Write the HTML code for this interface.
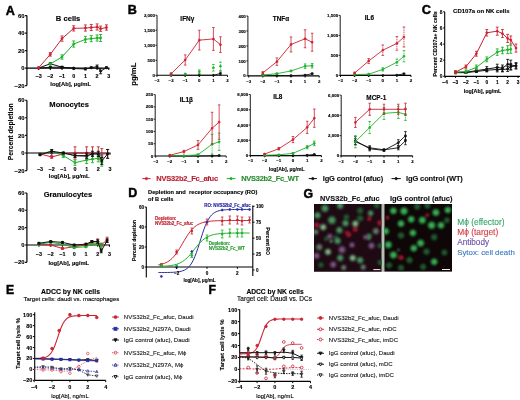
<!DOCTYPE html><html><head><meta charset="utf-8"><title>Figure</title><style>html,body{margin:0;padding:0;background:#fff;width:520px;height:400px;overflow:hidden}svg{display:block;font-family:"Liberation Sans",Arial,sans-serif}text{white-space:pre}</style></head><body><svg width="520" height="400" viewBox="0 0 520 400"><rect width="520" height="400" fill="#fff"/><text x="10.3" y="14.54" font-size="12.6" font-weight="bold" text-anchor="middle" fill="#000" stroke="#000" stroke-width="0.45">A</text>
<text transform="translate(13.45,131.8) rotate(-90)" x="0" y="0" font-size="6.8" font-weight="bold" text-anchor="middle" fill="#000"  stroke="#000" stroke-width="0.12">Percent depletion</text>
<line x1="26.9" y1="15.6" x2="26.9" y2="85.6" stroke="#000" stroke-width="1.2" />
<line x1="25.1" y1="15.6" x2="26.9" y2="15.6" stroke="#000" stroke-width="1.08" />
<text x="24.6" y="17.72" font-size="5.9" font-weight="bold" text-anchor="end" fill="#000"  stroke="#000" stroke-width="0.12">60</text>
<line x1="25.1" y1="33.1" x2="26.9" y2="33.1" stroke="#000" stroke-width="1.08" />
<text x="24.6" y="35.22" font-size="5.9" font-weight="bold" text-anchor="end" fill="#000"  stroke="#000" stroke-width="0.12">40</text>
<line x1="25.1" y1="50.6" x2="26.9" y2="50.6" stroke="#000" stroke-width="1.08" />
<text x="24.6" y="52.72" font-size="5.9" font-weight="bold" text-anchor="end" fill="#000"  stroke="#000" stroke-width="0.12">20</text>
<line x1="25.1" y1="68.1" x2="26.9" y2="68.1" stroke="#000" stroke-width="1.08" />
<text x="24.6" y="70.22" font-size="5.9" font-weight="bold" text-anchor="end" fill="#000"  stroke="#000" stroke-width="0.12">0</text>
<line x1="25.1" y1="85.6" x2="26.9" y2="85.6" stroke="#000" stroke-width="1.08" />
<text x="24.6" y="87.72" font-size="5.9" font-weight="bold" text-anchor="end" fill="#000"  stroke="#000" stroke-width="0.12">−20</text>
<line x1="26.9" y1="68.1" x2="109.38" y2="68.1" stroke="#000" stroke-width="1.2" />
<line x1="38.6" y1="68.1" x2="38.6" y2="69.9" stroke="#000" stroke-width="1.08" />
<text x="38.6" y="77.84" font-size="5.4" font-weight="bold" text-anchor="middle" fill="#000"  stroke="#000" stroke-width="0.12">−3</text>
<line x1="50.3" y1="68.1" x2="50.3" y2="69.9" stroke="#000" stroke-width="1.08" />
<text x="50.3" y="77.84" font-size="5.4" font-weight="bold" text-anchor="middle" fill="#000"  stroke="#000" stroke-width="0.12">−2</text>
<line x1="62" y1="68.1" x2="62" y2="69.9" stroke="#000" stroke-width="1.08" />
<text x="62" y="77.84" font-size="5.4" font-weight="bold" text-anchor="middle" fill="#000"  stroke="#000" stroke-width="0.12">−1</text>
<line x1="73.7" y1="68.1" x2="73.7" y2="69.9" stroke="#000" stroke-width="1.08" />
<text x="73.7" y="77.84" font-size="5.4" font-weight="bold" text-anchor="middle" fill="#000"  stroke="#000" stroke-width="0.12">0</text>
<line x1="85.4" y1="68.1" x2="85.4" y2="69.9" stroke="#000" stroke-width="1.08" />
<text x="85.4" y="77.84" font-size="5.4" font-weight="bold" text-anchor="middle" fill="#000"  stroke="#000" stroke-width="0.12">1</text>
<line x1="97.1" y1="68.1" x2="97.1" y2="69.9" stroke="#000" stroke-width="1.08" />
<text x="97.1" y="77.84" font-size="5.4" font-weight="bold" text-anchor="middle" fill="#000"  stroke="#000" stroke-width="0.12">2</text>
<line x1="108.8" y1="68.1" x2="108.8" y2="69.9" stroke="#000" stroke-width="1.08" />
<text x="108.8" y="77.84" font-size="5.4" font-weight="bold" text-anchor="middle" fill="#000"  stroke="#000" stroke-width="0.12">3</text>
<text x="70.7" y="86.09" font-size="5.8" font-weight="bold" text-anchor="middle" fill="#000"  stroke="#000" stroke-width="0.12">log[Ab], µg/mL</text>
<text x="68.1" y="20.94" font-size="7.6" font-weight="bold" text-anchor="middle" fill="#000"  stroke="#000" stroke-width="0.12">B cells</text>
<polyline points="38.6,68.1 50.3,63.72 62,67.22 73.7,68.1" fill="none" stroke="#111" stroke-width="1" stroke-linejoin="round" />
<line x1="50.3" y1="62.85" x2="50.3" y2="64.6" stroke="#111" stroke-width="0.9" />
<line x1="48.8" y1="62.85" x2="51.8" y2="62.85" stroke="#111" stroke-width="0.9" />
<line x1="48.8" y1="64.6" x2="51.8" y2="64.6" stroke="#111" stroke-width="0.9" />
<line x1="62" y1="66.35" x2="62" y2="68.1" stroke="#111" stroke-width="0.9" />
<line x1="60.5" y1="66.35" x2="63.5" y2="66.35" stroke="#111" stroke-width="0.9" />
<line x1="60.5" y1="68.1" x2="63.5" y2="68.1" stroke="#111" stroke-width="0.9" />
<line x1="73.7" y1="67.66" x2="73.7" y2="68.54" stroke="#111" stroke-width="0.9" />
<line x1="72.2" y1="67.66" x2="75.2" y2="67.66" stroke="#111" stroke-width="0.9" />
<line x1="72.2" y1="68.54" x2="75.2" y2="68.54" stroke="#111" stroke-width="0.9" />
<circle cx="38.6" cy="68.1" r="1.1" fill="#111" stroke="#111" stroke-width="0.7"/>
<circle cx="50.3" cy="63.72" r="1.1" fill="#111" stroke="#111" stroke-width="0.7"/>
<circle cx="62" cy="67.22" r="1.1" fill="#111" stroke="#111" stroke-width="0.7"/>
<circle cx="73.7" cy="68.1" r="1.1" fill="#111" stroke="#111" stroke-width="0.7"/>
<polyline points="38.6,68.1 50.3,67.22 62,67.22 73.7,68.54 85.4,68.97 91.25,67.66 97.1,66.79 100.61,71.16 106.46,67.66" fill="none" stroke="#111" stroke-width="1" stroke-linejoin="round" />
<line x1="50.3" y1="66.79" x2="50.3" y2="67.66" stroke="#111" stroke-width="0.9" />
<line x1="48.8" y1="66.79" x2="51.8" y2="66.79" stroke="#111" stroke-width="0.9" />
<line x1="48.8" y1="67.66" x2="51.8" y2="67.66" stroke="#111" stroke-width="0.9" />
<line x1="62" y1="66.79" x2="62" y2="67.66" stroke="#111" stroke-width="0.9" />
<line x1="60.5" y1="66.79" x2="63.5" y2="66.79" stroke="#111" stroke-width="0.9" />
<line x1="60.5" y1="67.66" x2="63.5" y2="67.66" stroke="#111" stroke-width="0.9" />
<line x1="73.7" y1="68.1" x2="73.7" y2="68.97" stroke="#111" stroke-width="0.9" />
<line x1="72.2" y1="68.1" x2="75.2" y2="68.1" stroke="#111" stroke-width="0.9" />
<line x1="72.2" y1="68.97" x2="75.2" y2="68.97" stroke="#111" stroke-width="0.9" />
<line x1="85.4" y1="68.1" x2="85.4" y2="69.85" stroke="#111" stroke-width="0.9" />
<line x1="83.9" y1="68.1" x2="86.9" y2="68.1" stroke="#111" stroke-width="0.9" />
<line x1="83.9" y1="69.85" x2="86.9" y2="69.85" stroke="#111" stroke-width="0.9" />
<line x1="91.25" y1="66.79" x2="91.25" y2="68.54" stroke="#111" stroke-width="0.9" />
<line x1="89.75" y1="66.79" x2="92.75" y2="66.79" stroke="#111" stroke-width="0.9" />
<line x1="89.75" y1="68.54" x2="92.75" y2="68.54" stroke="#111" stroke-width="0.9" />
<line x1="97.1" y1="65.04" x2="97.1" y2="68.54" stroke="#111" stroke-width="0.9" />
<line x1="95.6" y1="65.04" x2="98.6" y2="65.04" stroke="#111" stroke-width="0.9" />
<line x1="95.6" y1="68.54" x2="98.6" y2="68.54" stroke="#111" stroke-width="0.9" />
<line x1="100.61" y1="68.54" x2="100.61" y2="73.79" stroke="#111" stroke-width="0.9" />
<line x1="99.11" y1="68.54" x2="102.11" y2="68.54" stroke="#111" stroke-width="0.9" />
<line x1="99.11" y1="73.79" x2="102.11" y2="73.79" stroke="#111" stroke-width="0.9" />
<line x1="106.46" y1="66.79" x2="106.46" y2="68.54" stroke="#111" stroke-width="0.9" />
<line x1="104.96" y1="66.79" x2="107.96" y2="66.79" stroke="#111" stroke-width="0.9" />
<line x1="104.96" y1="68.54" x2="107.96" y2="68.54" stroke="#111" stroke-width="0.9" />
<circle cx="38.6" cy="68.1" r="1.1" fill="#111" stroke="#111" stroke-width="0.7"/>
<circle cx="50.3" cy="67.22" r="1.1" fill="#111" stroke="#111" stroke-width="0.7"/>
<circle cx="62" cy="67.22" r="1.1" fill="#111" stroke="#111" stroke-width="0.7"/>
<circle cx="73.7" cy="68.54" r="1.1" fill="#111" stroke="#111" stroke-width="0.7"/>
<circle cx="85.4" cy="68.97" r="1.1" fill="#111" stroke="#111" stroke-width="0.7"/>
<circle cx="91.25" cy="67.66" r="1.1" fill="#111" stroke="#111" stroke-width="0.7"/>
<circle cx="97.1" cy="66.79" r="1.1" fill="#111" stroke="#111" stroke-width="0.7"/>
<circle cx="100.61" cy="71.16" r="1.1" fill="#111" stroke="#111" stroke-width="0.7"/>
<circle cx="106.46" cy="67.66" r="1.1" fill="#111" stroke="#111" stroke-width="0.7"/>
<polyline points="50.3,63.99 62,56.99 73.7,44.04 85.4,39.4 91.25,38.61 97.1,38 100.61,38" fill="none" stroke="#1cb22a" stroke-width="1" stroke-linejoin="round" />
<line x1="50.3" y1="63.11" x2="50.3" y2="64.86" stroke="#1cb22a" stroke-width="0.9" />
<line x1="48.8" y1="63.11" x2="51.8" y2="63.11" stroke="#1cb22a" stroke-width="0.9" />
<line x1="48.8" y1="64.86" x2="51.8" y2="64.86" stroke="#1cb22a" stroke-width="0.9" />
<line x1="62" y1="54.8" x2="62" y2="59.17" stroke="#1cb22a" stroke-width="0.9" />
<line x1="60.5" y1="54.8" x2="63.5" y2="54.8" stroke="#1cb22a" stroke-width="0.9" />
<line x1="60.5" y1="59.17" x2="63.5" y2="59.17" stroke="#1cb22a" stroke-width="0.9" />
<line x1="73.7" y1="40.97" x2="73.7" y2="47.1" stroke="#1cb22a" stroke-width="0.9" />
<line x1="72.2" y1="40.97" x2="75.2" y2="40.97" stroke="#1cb22a" stroke-width="0.9" />
<line x1="72.2" y1="47.1" x2="75.2" y2="47.1" stroke="#1cb22a" stroke-width="0.9" />
<line x1="85.4" y1="36.34" x2="85.4" y2="42.46" stroke="#1cb22a" stroke-width="0.9" />
<line x1="83.9" y1="36.34" x2="86.9" y2="36.34" stroke="#1cb22a" stroke-width="0.9" />
<line x1="83.9" y1="42.46" x2="86.9" y2="42.46" stroke="#1cb22a" stroke-width="0.9" />
<line x1="91.25" y1="35.55" x2="91.25" y2="41.67" stroke="#1cb22a" stroke-width="0.9" />
<line x1="89.75" y1="35.55" x2="92.75" y2="35.55" stroke="#1cb22a" stroke-width="0.9" />
<line x1="89.75" y1="41.67" x2="92.75" y2="41.67" stroke="#1cb22a" stroke-width="0.9" />
<line x1="97.1" y1="34.94" x2="97.1" y2="41.06" stroke="#1cb22a" stroke-width="0.9" />
<line x1="95.6" y1="34.94" x2="98.6" y2="34.94" stroke="#1cb22a" stroke-width="0.9" />
<line x1="95.6" y1="41.06" x2="98.6" y2="41.06" stroke="#1cb22a" stroke-width="0.9" />
<line x1="100.61" y1="34.5" x2="100.61" y2="41.5" stroke="#1cb22a" stroke-width="0.9" />
<line x1="99.11" y1="34.5" x2="102.11" y2="34.5" stroke="#1cb22a" stroke-width="0.9" />
<line x1="99.11" y1="41.5" x2="102.11" y2="41.5" stroke="#1cb22a" stroke-width="0.9" />
<circle cx="50.3" cy="63.99" r="1.1" fill="#1cb22a" stroke="#1cb22a" stroke-width="0.7"/>
<circle cx="62" cy="56.99" r="1.1" fill="#1cb22a" stroke="#1cb22a" stroke-width="0.7"/>
<circle cx="73.7" cy="44.04" r="1.1" fill="#1cb22a" stroke="#1cb22a" stroke-width="0.7"/>
<circle cx="85.4" cy="39.4" r="1.1" fill="#1cb22a" stroke="#1cb22a" stroke-width="0.7"/>
<circle cx="91.25" cy="38.61" r="1.1" fill="#1cb22a" stroke="#1cb22a" stroke-width="0.7"/>
<circle cx="97.1" cy="38" r="1.1" fill="#1cb22a" stroke="#1cb22a" stroke-width="0.7"/>
<circle cx="100.61" cy="38" r="1.1" fill="#1cb22a" stroke="#1cb22a" stroke-width="0.7"/>
<polyline points="38.6,67.84 50.3,54.36 62,38.61 73.7,28.37 85.4,28.02 91.25,27.5 97.1,26.97 100.61,28.72 106.46,27.5" fill="none" stroke="#cc2332" stroke-width="1" stroke-linejoin="round" />
<line x1="38.6" y1="66.96" x2="38.6" y2="68.71" stroke="#cc2332" stroke-width="0.9" />
<line x1="37.1" y1="66.96" x2="40.1" y2="66.96" stroke="#cc2332" stroke-width="0.9" />
<line x1="37.1" y1="68.71" x2="40.1" y2="68.71" stroke="#cc2332" stroke-width="0.9" />
<line x1="50.3" y1="52.61" x2="50.3" y2="56.11" stroke="#cc2332" stroke-width="0.9" />
<line x1="48.8" y1="52.61" x2="51.8" y2="52.61" stroke="#cc2332" stroke-width="0.9" />
<line x1="48.8" y1="56.11" x2="51.8" y2="56.11" stroke="#cc2332" stroke-width="0.9" />
<line x1="62" y1="35.99" x2="62" y2="41.24" stroke="#cc2332" stroke-width="0.9" />
<line x1="60.5" y1="35.99" x2="63.5" y2="35.99" stroke="#cc2332" stroke-width="0.9" />
<line x1="60.5" y1="41.24" x2="63.5" y2="41.24" stroke="#cc2332" stroke-width="0.9" />
<line x1="73.7" y1="25.75" x2="73.7" y2="31" stroke="#cc2332" stroke-width="0.9" />
<line x1="72.2" y1="25.75" x2="75.2" y2="25.75" stroke="#cc2332" stroke-width="0.9" />
<line x1="72.2" y1="31" x2="75.2" y2="31" stroke="#cc2332" stroke-width="0.9" />
<line x1="85.4" y1="24.96" x2="85.4" y2="31.09" stroke="#cc2332" stroke-width="0.9" />
<line x1="83.9" y1="24.96" x2="86.9" y2="24.96" stroke="#cc2332" stroke-width="0.9" />
<line x1="83.9" y1="31.09" x2="86.9" y2="31.09" stroke="#cc2332" stroke-width="0.9" />
<line x1="91.25" y1="24.44" x2="91.25" y2="30.56" stroke="#cc2332" stroke-width="0.9" />
<line x1="89.75" y1="24.44" x2="92.75" y2="24.44" stroke="#cc2332" stroke-width="0.9" />
<line x1="89.75" y1="30.56" x2="92.75" y2="30.56" stroke="#cc2332" stroke-width="0.9" />
<line x1="97.1" y1="23.91" x2="97.1" y2="30.04" stroke="#cc2332" stroke-width="0.9" />
<line x1="95.6" y1="23.91" x2="98.6" y2="23.91" stroke="#cc2332" stroke-width="0.9" />
<line x1="95.6" y1="30.04" x2="98.6" y2="30.04" stroke="#cc2332" stroke-width="0.9" />
<line x1="100.61" y1="26.1" x2="100.61" y2="31.35" stroke="#cc2332" stroke-width="0.9" />
<line x1="99.11" y1="26.1" x2="102.11" y2="26.1" stroke="#cc2332" stroke-width="0.9" />
<line x1="99.11" y1="31.35" x2="102.11" y2="31.35" stroke="#cc2332" stroke-width="0.9" />
<line x1="106.46" y1="24.87" x2="106.46" y2="30.12" stroke="#cc2332" stroke-width="0.9" />
<line x1="104.96" y1="24.87" x2="107.96" y2="24.87" stroke="#cc2332" stroke-width="0.9" />
<line x1="104.96" y1="30.12" x2="107.96" y2="30.12" stroke="#cc2332" stroke-width="0.9" />
<circle cx="38.6" cy="67.84" r="1.1" fill="#cc2332" stroke="#cc2332" stroke-width="0.7"/>
<circle cx="50.3" cy="54.36" r="1.1" fill="#cc2332" stroke="#cc2332" stroke-width="0.7"/>
<circle cx="62" cy="38.61" r="1.1" fill="#cc2332" stroke="#cc2332" stroke-width="0.7"/>
<circle cx="73.7" cy="28.37" r="1.1" fill="#cc2332" stroke="#cc2332" stroke-width="0.7"/>
<circle cx="85.4" cy="28.02" r="1.1" fill="#cc2332" stroke="#cc2332" stroke-width="0.7"/>
<circle cx="91.25" cy="27.5" r="1.1" fill="#cc2332" stroke="#cc2332" stroke-width="0.7"/>
<circle cx="97.1" cy="26.97" r="1.1" fill="#cc2332" stroke="#cc2332" stroke-width="0.7"/>
<circle cx="100.61" cy="28.72" r="1.1" fill="#cc2332" stroke="#cc2332" stroke-width="0.7"/>
<circle cx="106.46" cy="27.5" r="1.1" fill="#cc2332" stroke="#cc2332" stroke-width="0.7"/>
<line x1="26.9" y1="100.2" x2="26.9" y2="170.6" stroke="#000" stroke-width="1.2" />
<line x1="25.1" y1="100.2" x2="26.9" y2="100.2" stroke="#000" stroke-width="1.08" />
<text x="24.6" y="102.32" font-size="5.9" font-weight="bold" text-anchor="end" fill="#000"  stroke="#000" stroke-width="0.12">60</text>
<line x1="25.1" y1="117.8" x2="26.9" y2="117.8" stroke="#000" stroke-width="1.08" />
<text x="24.6" y="119.92" font-size="5.9" font-weight="bold" text-anchor="end" fill="#000"  stroke="#000" stroke-width="0.12">40</text>
<line x1="25.1" y1="135.4" x2="26.9" y2="135.4" stroke="#000" stroke-width="1.08" />
<text x="24.6" y="137.52" font-size="5.9" font-weight="bold" text-anchor="end" fill="#000"  stroke="#000" stroke-width="0.12">20</text>
<line x1="25.1" y1="153" x2="26.9" y2="153" stroke="#000" stroke-width="1.08" />
<text x="24.6" y="155.12" font-size="5.9" font-weight="bold" text-anchor="end" fill="#000"  stroke="#000" stroke-width="0.12">0</text>
<line x1="25.1" y1="170.6" x2="26.9" y2="170.6" stroke="#000" stroke-width="1.08" />
<text x="24.6" y="172.72" font-size="5.9" font-weight="bold" text-anchor="end" fill="#000"  stroke="#000" stroke-width="0.12">−20</text>
<line x1="26.9" y1="153" x2="110.53" y2="153" stroke="#000" stroke-width="1.2" />
<line x1="40.05" y1="153" x2="40.05" y2="154.8" stroke="#000" stroke-width="1.08" />
<text x="40.05" y="170.74" font-size="5.4" font-weight="bold" text-anchor="middle" fill="#000"  stroke="#000" stroke-width="0.12">−3</text>
<line x1="51.7" y1="153" x2="51.7" y2="154.8" stroke="#000" stroke-width="1.08" />
<text x="51.7" y="170.74" font-size="5.4" font-weight="bold" text-anchor="middle" fill="#000"  stroke="#000" stroke-width="0.12">−2</text>
<line x1="63.35" y1="153" x2="63.35" y2="154.8" stroke="#000" stroke-width="1.08" />
<text x="63.35" y="170.74" font-size="5.4" font-weight="bold" text-anchor="middle" fill="#000"  stroke="#000" stroke-width="0.12">−1</text>
<line x1="75" y1="153" x2="75" y2="154.8" stroke="#000" stroke-width="1.08" />
<text x="75" y="170.74" font-size="5.4" font-weight="bold" text-anchor="middle" fill="#000"  stroke="#000" stroke-width="0.12">0</text>
<line x1="86.65" y1="153" x2="86.65" y2="154.8" stroke="#000" stroke-width="1.08" />
<text x="86.65" y="170.74" font-size="5.4" font-weight="bold" text-anchor="middle" fill="#000"  stroke="#000" stroke-width="0.12">1</text>
<line x1="98.3" y1="153" x2="98.3" y2="154.8" stroke="#000" stroke-width="1.08" />
<text x="98.3" y="170.74" font-size="5.4" font-weight="bold" text-anchor="middle" fill="#000"  stroke="#000" stroke-width="0.12">2</text>
<line x1="109.95" y1="153" x2="109.95" y2="154.8" stroke="#000" stroke-width="1.08" />
<text x="109.95" y="170.74" font-size="5.4" font-weight="bold" text-anchor="middle" fill="#000"  stroke="#000" stroke-width="0.12">3</text>
<text x="69.2" y="177.69" font-size="5.8" font-weight="bold" text-anchor="middle" fill="#000"  stroke="#000" stroke-width="0.12">log[Ab], µg/mL</text>
<text x="69.2" y="106.74" font-size="7.6" font-weight="bold" text-anchor="middle" fill="#000"  stroke="#000" stroke-width="0.12">Monocytes</text>
<polyline points="40.05,153.88 51.7,156.96 63.35,153.88 75,153 86.65,153 92.47,153 98.3,153 101.8,153.88 107.62,153.88" fill="none" stroke="#cc2332" stroke-width="1" stroke-linejoin="round" />
<line x1="40.05" y1="153" x2="40.05" y2="154.76" stroke="#cc2332" stroke-width="0.9" />
<line x1="38.55" y1="153" x2="41.55" y2="153" stroke="#cc2332" stroke-width="0.9" />
<line x1="38.55" y1="154.76" x2="41.55" y2="154.76" stroke="#cc2332" stroke-width="0.9" />
<line x1="51.7" y1="155.64" x2="51.7" y2="158.28" stroke="#cc2332" stroke-width="0.9" />
<line x1="50.2" y1="155.64" x2="53.2" y2="155.64" stroke="#cc2332" stroke-width="0.9" />
<line x1="50.2" y1="158.28" x2="53.2" y2="158.28" stroke="#cc2332" stroke-width="0.9" />
<line x1="63.35" y1="153" x2="63.35" y2="154.76" stroke="#cc2332" stroke-width="0.9" />
<line x1="61.85" y1="153" x2="64.85" y2="153" stroke="#cc2332" stroke-width="0.9" />
<line x1="61.85" y1="154.76" x2="64.85" y2="154.76" stroke="#cc2332" stroke-width="0.9" />
<line x1="75" y1="146.84" x2="75" y2="159.16" stroke="#cc2332" stroke-width="0.9" />
<line x1="73.5" y1="146.84" x2="76.5" y2="146.84" stroke="#cc2332" stroke-width="0.9" />
<line x1="73.5" y1="159.16" x2="76.5" y2="159.16" stroke="#cc2332" stroke-width="0.9" />
<line x1="86.65" y1="146.84" x2="86.65" y2="159.16" stroke="#cc2332" stroke-width="0.9" />
<line x1="85.15" y1="146.84" x2="88.15" y2="146.84" stroke="#cc2332" stroke-width="0.9" />
<line x1="85.15" y1="159.16" x2="88.15" y2="159.16" stroke="#cc2332" stroke-width="0.9" />
<line x1="92.47" y1="146.84" x2="92.47" y2="159.16" stroke="#cc2332" stroke-width="0.9" />
<line x1="90.97" y1="146.84" x2="93.97" y2="146.84" stroke="#cc2332" stroke-width="0.9" />
<line x1="90.97" y1="159.16" x2="93.97" y2="159.16" stroke="#cc2332" stroke-width="0.9" />
<line x1="98.3" y1="146.84" x2="98.3" y2="159.16" stroke="#cc2332" stroke-width="0.9" />
<line x1="96.8" y1="146.84" x2="99.8" y2="146.84" stroke="#cc2332" stroke-width="0.9" />
<line x1="96.8" y1="159.16" x2="99.8" y2="159.16" stroke="#cc2332" stroke-width="0.9" />
<line x1="101.8" y1="148.6" x2="101.8" y2="159.16" stroke="#cc2332" stroke-width="0.9" />
<line x1="100.3" y1="148.6" x2="103.3" y2="148.6" stroke="#cc2332" stroke-width="0.9" />
<line x1="100.3" y1="159.16" x2="103.3" y2="159.16" stroke="#cc2332" stroke-width="0.9" />
<line x1="107.62" y1="149.48" x2="107.62" y2="158.28" stroke="#cc2332" stroke-width="0.9" />
<line x1="106.12" y1="149.48" x2="109.12" y2="149.48" stroke="#cc2332" stroke-width="0.9" />
<line x1="106.12" y1="158.28" x2="109.12" y2="158.28" stroke="#cc2332" stroke-width="0.9" />
<circle cx="40.05" cy="153.88" r="1.1" fill="#cc2332" stroke="#cc2332" stroke-width="0.7"/>
<circle cx="51.7" cy="156.96" r="1.1" fill="#cc2332" stroke="#cc2332" stroke-width="0.7"/>
<circle cx="63.35" cy="153.88" r="1.1" fill="#cc2332" stroke="#cc2332" stroke-width="0.7"/>
<circle cx="75" cy="153" r="1.1" fill="#cc2332" stroke="#cc2332" stroke-width="0.7"/>
<circle cx="86.65" cy="153" r="1.1" fill="#cc2332" stroke="#cc2332" stroke-width="0.7"/>
<circle cx="92.47" cy="153" r="1.1" fill="#cc2332" stroke="#cc2332" stroke-width="0.7"/>
<circle cx="98.3" cy="153" r="1.1" fill="#cc2332" stroke="#cc2332" stroke-width="0.7"/>
<circle cx="101.8" cy="153.88" r="1.1" fill="#cc2332" stroke="#cc2332" stroke-width="0.7"/>
<circle cx="107.62" cy="153.88" r="1.1" fill="#cc2332" stroke="#cc2332" stroke-width="0.7"/>
<polyline points="40.05,153.88 51.7,151.24 63.35,155.64 75,162.68 86.65,160.04 92.47,159.16 98.3,158.28 101.8,162.68" fill="none" stroke="#1cb22a" stroke-width="1" stroke-linejoin="round" />
<line x1="40.05" y1="153" x2="40.05" y2="154.76" stroke="#1cb22a" stroke-width="0.9" />
<line x1="38.55" y1="153" x2="41.55" y2="153" stroke="#1cb22a" stroke-width="0.9" />
<line x1="38.55" y1="154.76" x2="41.55" y2="154.76" stroke="#1cb22a" stroke-width="0.9" />
<line x1="51.7" y1="149.48" x2="51.7" y2="153" stroke="#1cb22a" stroke-width="0.9" />
<line x1="50.2" y1="149.48" x2="53.2" y2="149.48" stroke="#1cb22a" stroke-width="0.9" />
<line x1="50.2" y1="153" x2="53.2" y2="153" stroke="#1cb22a" stroke-width="0.9" />
<line x1="63.35" y1="153.88" x2="63.35" y2="157.4" stroke="#1cb22a" stroke-width="0.9" />
<line x1="61.85" y1="153.88" x2="64.85" y2="153.88" stroke="#1cb22a" stroke-width="0.9" />
<line x1="61.85" y1="157.4" x2="64.85" y2="157.4" stroke="#1cb22a" stroke-width="0.9" />
<line x1="75" y1="160.04" x2="75" y2="165.32" stroke="#1cb22a" stroke-width="0.9" />
<line x1="73.5" y1="160.04" x2="76.5" y2="160.04" stroke="#1cb22a" stroke-width="0.9" />
<line x1="73.5" y1="165.32" x2="76.5" y2="165.32" stroke="#1cb22a" stroke-width="0.9" />
<line x1="86.65" y1="156.52" x2="86.65" y2="163.56" stroke="#1cb22a" stroke-width="0.9" />
<line x1="85.15" y1="156.52" x2="88.15" y2="156.52" stroke="#1cb22a" stroke-width="0.9" />
<line x1="85.15" y1="163.56" x2="88.15" y2="163.56" stroke="#1cb22a" stroke-width="0.9" />
<line x1="92.47" y1="155.64" x2="92.47" y2="162.68" stroke="#1cb22a" stroke-width="0.9" />
<line x1="90.97" y1="155.64" x2="93.97" y2="155.64" stroke="#1cb22a" stroke-width="0.9" />
<line x1="90.97" y1="162.68" x2="93.97" y2="162.68" stroke="#1cb22a" stroke-width="0.9" />
<line x1="98.3" y1="154.76" x2="98.3" y2="161.8" stroke="#1cb22a" stroke-width="0.9" />
<line x1="96.8" y1="154.76" x2="99.8" y2="154.76" stroke="#1cb22a" stroke-width="0.9" />
<line x1="96.8" y1="161.8" x2="99.8" y2="161.8" stroke="#1cb22a" stroke-width="0.9" />
<line x1="101.8" y1="159.16" x2="101.8" y2="166.2" stroke="#1cb22a" stroke-width="0.9" />
<line x1="100.3" y1="159.16" x2="103.3" y2="159.16" stroke="#1cb22a" stroke-width="0.9" />
<line x1="100.3" y1="166.2" x2="103.3" y2="166.2" stroke="#1cb22a" stroke-width="0.9" />
<circle cx="40.05" cy="153.88" r="1.1" fill="#1cb22a" stroke="#1cb22a" stroke-width="0.7"/>
<circle cx="51.7" cy="151.24" r="1.1" fill="#1cb22a" stroke="#1cb22a" stroke-width="0.7"/>
<circle cx="63.35" cy="155.64" r="1.1" fill="#1cb22a" stroke="#1cb22a" stroke-width="0.7"/>
<circle cx="75" cy="162.68" r="1.1" fill="#1cb22a" stroke="#1cb22a" stroke-width="0.7"/>
<circle cx="86.65" cy="160.04" r="1.1" fill="#1cb22a" stroke="#1cb22a" stroke-width="0.7"/>
<circle cx="92.47" cy="159.16" r="1.1" fill="#1cb22a" stroke="#1cb22a" stroke-width="0.7"/>
<circle cx="98.3" cy="158.28" r="1.1" fill="#1cb22a" stroke="#1cb22a" stroke-width="0.7"/>
<circle cx="101.8" cy="162.68" r="1.1" fill="#1cb22a" stroke="#1cb22a" stroke-width="0.7"/>
<polyline points="40.05,153.88 51.7,152.12 63.35,153 75,155.64 86.65,156.52 92.47,153.88 98.3,153.88 101.8,155.64" fill="none" stroke="#666" stroke-width="1" stroke-linejoin="round" />
<line x1="40.05" y1="153.44" x2="40.05" y2="154.32" stroke="#666" stroke-width="0.9" />
<line x1="38.55" y1="153.44" x2="41.55" y2="153.44" stroke="#666" stroke-width="0.9" />
<line x1="38.55" y1="154.32" x2="41.55" y2="154.32" stroke="#666" stroke-width="0.9" />
<line x1="51.7" y1="151.24" x2="51.7" y2="153" stroke="#666" stroke-width="0.9" />
<line x1="50.2" y1="151.24" x2="53.2" y2="151.24" stroke="#666" stroke-width="0.9" />
<line x1="50.2" y1="153" x2="53.2" y2="153" stroke="#666" stroke-width="0.9" />
<line x1="63.35" y1="152.12" x2="63.35" y2="153.88" stroke="#666" stroke-width="0.9" />
<line x1="61.85" y1="152.12" x2="64.85" y2="152.12" stroke="#666" stroke-width="0.9" />
<line x1="61.85" y1="153.88" x2="64.85" y2="153.88" stroke="#666" stroke-width="0.9" />
<line x1="75" y1="153.88" x2="75" y2="157.4" stroke="#666" stroke-width="0.9" />
<line x1="73.5" y1="153.88" x2="76.5" y2="153.88" stroke="#666" stroke-width="0.9" />
<line x1="73.5" y1="157.4" x2="76.5" y2="157.4" stroke="#666" stroke-width="0.9" />
<line x1="86.65" y1="154.76" x2="86.65" y2="158.28" stroke="#666" stroke-width="0.9" />
<line x1="85.15" y1="154.76" x2="88.15" y2="154.76" stroke="#666" stroke-width="0.9" />
<line x1="85.15" y1="158.28" x2="88.15" y2="158.28" stroke="#666" stroke-width="0.9" />
<line x1="92.47" y1="152.12" x2="92.47" y2="155.64" stroke="#666" stroke-width="0.9" />
<line x1="90.97" y1="152.12" x2="93.97" y2="152.12" stroke="#666" stroke-width="0.9" />
<line x1="90.97" y1="155.64" x2="93.97" y2="155.64" stroke="#666" stroke-width="0.9" />
<line x1="98.3" y1="152.12" x2="98.3" y2="155.64" stroke="#666" stroke-width="0.9" />
<line x1="96.8" y1="152.12" x2="99.8" y2="152.12" stroke="#666" stroke-width="0.9" />
<line x1="96.8" y1="155.64" x2="99.8" y2="155.64" stroke="#666" stroke-width="0.9" />
<line x1="101.8" y1="153.88" x2="101.8" y2="157.4" stroke="#666" stroke-width="0.9" />
<line x1="100.3" y1="153.88" x2="103.3" y2="153.88" stroke="#666" stroke-width="0.9" />
<line x1="100.3" y1="157.4" x2="103.3" y2="157.4" stroke="#666" stroke-width="0.9" />
<circle cx="40.05" cy="153.88" r="1.1" fill="#666" stroke="#666" stroke-width="0.7"/>
<circle cx="51.7" cy="152.12" r="1.1" fill="#666" stroke="#666" stroke-width="0.7"/>
<circle cx="63.35" cy="153" r="1.1" fill="#666" stroke="#666" stroke-width="0.7"/>
<circle cx="75" cy="155.64" r="1.1" fill="#666" stroke="#666" stroke-width="0.7"/>
<circle cx="86.65" cy="156.52" r="1.1" fill="#666" stroke="#666" stroke-width="0.7"/>
<circle cx="92.47" cy="153.88" r="1.1" fill="#666" stroke="#666" stroke-width="0.7"/>
<circle cx="98.3" cy="153.88" r="1.1" fill="#666" stroke="#666" stroke-width="0.7"/>
<circle cx="101.8" cy="155.64" r="1.1" fill="#666" stroke="#666" stroke-width="0.7"/>
<polyline points="40.05,154.76 51.7,151.24 63.35,153 75,155.64 86.65,155.64 92.47,153.88 98.3,153.88 101.8,160.92 107.62,153.88" fill="none" stroke="#111" stroke-width="1" stroke-linejoin="round" />
<line x1="40.05" y1="153.88" x2="40.05" y2="155.64" stroke="#111" stroke-width="0.9" />
<line x1="38.55" y1="153.88" x2="41.55" y2="153.88" stroke="#111" stroke-width="0.9" />
<line x1="38.55" y1="155.64" x2="41.55" y2="155.64" stroke="#111" stroke-width="0.9" />
<line x1="51.7" y1="149.48" x2="51.7" y2="153" stroke="#111" stroke-width="0.9" />
<line x1="50.2" y1="149.48" x2="53.2" y2="149.48" stroke="#111" stroke-width="0.9" />
<line x1="50.2" y1="153" x2="53.2" y2="153" stroke="#111" stroke-width="0.9" />
<line x1="63.35" y1="152.12" x2="63.35" y2="153.88" stroke="#111" stroke-width="0.9" />
<line x1="61.85" y1="152.12" x2="64.85" y2="152.12" stroke="#111" stroke-width="0.9" />
<line x1="61.85" y1="153.88" x2="64.85" y2="153.88" stroke="#111" stroke-width="0.9" />
<line x1="75" y1="153.88" x2="75" y2="157.4" stroke="#111" stroke-width="0.9" />
<line x1="73.5" y1="153.88" x2="76.5" y2="153.88" stroke="#111" stroke-width="0.9" />
<line x1="73.5" y1="157.4" x2="76.5" y2="157.4" stroke="#111" stroke-width="0.9" />
<line x1="86.65" y1="153" x2="86.65" y2="158.28" stroke="#111" stroke-width="0.9" />
<line x1="85.15" y1="153" x2="88.15" y2="153" stroke="#111" stroke-width="0.9" />
<line x1="85.15" y1="158.28" x2="88.15" y2="158.28" stroke="#111" stroke-width="0.9" />
<line x1="92.47" y1="151.24" x2="92.47" y2="156.52" stroke="#111" stroke-width="0.9" />
<line x1="90.97" y1="151.24" x2="93.97" y2="151.24" stroke="#111" stroke-width="0.9" />
<line x1="90.97" y1="156.52" x2="93.97" y2="156.52" stroke="#111" stroke-width="0.9" />
<line x1="98.3" y1="151.24" x2="98.3" y2="156.52" stroke="#111" stroke-width="0.9" />
<line x1="96.8" y1="151.24" x2="99.8" y2="151.24" stroke="#111" stroke-width="0.9" />
<line x1="96.8" y1="156.52" x2="99.8" y2="156.52" stroke="#111" stroke-width="0.9" />
<line x1="101.8" y1="157.4" x2="101.8" y2="164.44" stroke="#111" stroke-width="0.9" />
<line x1="100.3" y1="157.4" x2="103.3" y2="157.4" stroke="#111" stroke-width="0.9" />
<line x1="100.3" y1="164.44" x2="103.3" y2="164.44" stroke="#111" stroke-width="0.9" />
<line x1="107.62" y1="149.48" x2="107.62" y2="158.28" stroke="#111" stroke-width="0.9" />
<line x1="106.12" y1="149.48" x2="109.12" y2="149.48" stroke="#111" stroke-width="0.9" />
<line x1="106.12" y1="158.28" x2="109.12" y2="158.28" stroke="#111" stroke-width="0.9" />
<circle cx="40.05" cy="154.76" r="1.1" fill="#111" stroke="#111" stroke-width="0.7"/>
<circle cx="51.7" cy="151.24" r="1.1" fill="#111" stroke="#111" stroke-width="0.7"/>
<circle cx="63.35" cy="153" r="1.1" fill="#111" stroke="#111" stroke-width="0.7"/>
<circle cx="75" cy="155.64" r="1.1" fill="#111" stroke="#111" stroke-width="0.7"/>
<circle cx="86.65" cy="155.64" r="1.1" fill="#111" stroke="#111" stroke-width="0.7"/>
<circle cx="92.47" cy="153.88" r="1.1" fill="#111" stroke="#111" stroke-width="0.7"/>
<circle cx="98.3" cy="153.88" r="1.1" fill="#111" stroke="#111" stroke-width="0.7"/>
<circle cx="101.8" cy="160.92" r="1.1" fill="#111" stroke="#111" stroke-width="0.7"/>
<circle cx="107.62" cy="153.88" r="1.1" fill="#111" stroke="#111" stroke-width="0.7"/>
<line x1="26.9" y1="192.98" x2="26.9" y2="262.34" stroke="#000" stroke-width="1.2" />
<line x1="25.1" y1="192.98" x2="26.9" y2="192.98" stroke="#000" stroke-width="1.08" />
<text x="24.6" y="195.1" font-size="5.9" font-weight="bold" text-anchor="end" fill="#000"  stroke="#000" stroke-width="0.12">60</text>
<line x1="25.1" y1="210.32" x2="26.9" y2="210.32" stroke="#000" stroke-width="1.08" />
<text x="24.6" y="212.44" font-size="5.9" font-weight="bold" text-anchor="end" fill="#000"  stroke="#000" stroke-width="0.12">40</text>
<line x1="25.1" y1="227.66" x2="26.9" y2="227.66" stroke="#000" stroke-width="1.08" />
<text x="24.6" y="229.78" font-size="5.9" font-weight="bold" text-anchor="end" fill="#000"  stroke="#000" stroke-width="0.12">20</text>
<line x1="25.1" y1="245" x2="26.9" y2="245" stroke="#000" stroke-width="1.08" />
<text x="24.6" y="247.12" font-size="5.9" font-weight="bold" text-anchor="end" fill="#000"  stroke="#000" stroke-width="0.12">0</text>
<line x1="25.1" y1="262.34" x2="26.9" y2="262.34" stroke="#000" stroke-width="1.08" />
<text x="24.6" y="264.46" font-size="5.9" font-weight="bold" text-anchor="end" fill="#000"  stroke="#000" stroke-width="0.12">−20</text>
<line x1="26.9" y1="245" x2="110.04" y2="245" stroke="#000" stroke-width="1.2" />
<line x1="38.95" y1="245" x2="38.95" y2="246.8" stroke="#000" stroke-width="1.08" />
<text x="38.95" y="256.14" font-size="5.4" font-weight="bold" text-anchor="middle" fill="#000"  stroke="#000" stroke-width="0.12">−3</text>
<line x1="50.7" y1="245" x2="50.7" y2="246.8" stroke="#000" stroke-width="1.08" />
<text x="50.7" y="256.14" font-size="5.4" font-weight="bold" text-anchor="middle" fill="#000"  stroke="#000" stroke-width="0.12">−2</text>
<line x1="62.45" y1="245" x2="62.45" y2="246.8" stroke="#000" stroke-width="1.08" />
<text x="62.45" y="256.14" font-size="5.4" font-weight="bold" text-anchor="middle" fill="#000"  stroke="#000" stroke-width="0.12">−1</text>
<line x1="74.2" y1="245" x2="74.2" y2="246.8" stroke="#000" stroke-width="1.08" />
<text x="74.2" y="256.14" font-size="5.4" font-weight="bold" text-anchor="middle" fill="#000"  stroke="#000" stroke-width="0.12">0</text>
<line x1="85.95" y1="245" x2="85.95" y2="246.8" stroke="#000" stroke-width="1.08" />
<text x="85.95" y="256.14" font-size="5.4" font-weight="bold" text-anchor="middle" fill="#000"  stroke="#000" stroke-width="0.12">1</text>
<line x1="97.7" y1="245" x2="97.7" y2="246.8" stroke="#000" stroke-width="1.08" />
<text x="97.7" y="256.14" font-size="5.4" font-weight="bold" text-anchor="middle" fill="#000"  stroke="#000" stroke-width="0.12">2</text>
<line x1="109.45" y1="245" x2="109.45" y2="246.8" stroke="#000" stroke-width="1.08" />
<text x="109.45" y="256.14" font-size="5.4" font-weight="bold" text-anchor="middle" fill="#000"  stroke="#000" stroke-width="0.12">3</text>
<text x="68.8" y="265.09" font-size="5.8" font-weight="bold" text-anchor="middle" fill="#000"  stroke="#000" stroke-width="0.12">log[Ab], µg/mL</text>
<text x="67.9" y="197.34" font-size="7.6" font-weight="bold" text-anchor="middle" fill="#000"  stroke="#000" stroke-width="0.12">Granulocytes</text>
<polyline points="38.95,244.13 50.7,245 62.45,248.47 74.2,246.73 85.95,245 91.83,242.4 97.7,241.53 101.22,245 107.1,239.8" fill="none" stroke="#cc2332" stroke-width="1" stroke-linejoin="round" />
<line x1="38.95" y1="243.27" x2="38.95" y2="245" stroke="#cc2332" stroke-width="0.9" />
<line x1="37.45" y1="243.27" x2="40.45" y2="243.27" stroke="#cc2332" stroke-width="0.9" />
<line x1="37.45" y1="245" x2="40.45" y2="245" stroke="#cc2332" stroke-width="0.9" />
<line x1="50.7" y1="244.13" x2="50.7" y2="245.87" stroke="#cc2332" stroke-width="0.9" />
<line x1="49.2" y1="244.13" x2="52.2" y2="244.13" stroke="#cc2332" stroke-width="0.9" />
<line x1="49.2" y1="245.87" x2="52.2" y2="245.87" stroke="#cc2332" stroke-width="0.9" />
<line x1="62.45" y1="247.6" x2="62.45" y2="249.34" stroke="#cc2332" stroke-width="0.9" />
<line x1="60.95" y1="247.6" x2="63.95" y2="247.6" stroke="#cc2332" stroke-width="0.9" />
<line x1="60.95" y1="249.34" x2="63.95" y2="249.34" stroke="#cc2332" stroke-width="0.9" />
<line x1="74.2" y1="245.87" x2="74.2" y2="247.6" stroke="#cc2332" stroke-width="0.9" />
<line x1="72.7" y1="245.87" x2="75.7" y2="245.87" stroke="#cc2332" stroke-width="0.9" />
<line x1="72.7" y1="247.6" x2="75.7" y2="247.6" stroke="#cc2332" stroke-width="0.9" />
<line x1="85.95" y1="244.13" x2="85.95" y2="245.87" stroke="#cc2332" stroke-width="0.9" />
<line x1="84.45" y1="244.13" x2="87.45" y2="244.13" stroke="#cc2332" stroke-width="0.9" />
<line x1="84.45" y1="245.87" x2="87.45" y2="245.87" stroke="#cc2332" stroke-width="0.9" />
<line x1="91.83" y1="240.66" x2="91.83" y2="244.13" stroke="#cc2332" stroke-width="0.9" />
<line x1="90.33" y1="240.66" x2="93.33" y2="240.66" stroke="#cc2332" stroke-width="0.9" />
<line x1="90.33" y1="244.13" x2="93.33" y2="244.13" stroke="#cc2332" stroke-width="0.9" />
<line x1="97.7" y1="238.93" x2="97.7" y2="244.13" stroke="#cc2332" stroke-width="0.9" />
<line x1="96.2" y1="238.93" x2="99.2" y2="238.93" stroke="#cc2332" stroke-width="0.9" />
<line x1="96.2" y1="244.13" x2="99.2" y2="244.13" stroke="#cc2332" stroke-width="0.9" />
<line x1="101.22" y1="243.27" x2="101.22" y2="246.73" stroke="#cc2332" stroke-width="0.9" />
<line x1="99.72" y1="243.27" x2="102.72" y2="243.27" stroke="#cc2332" stroke-width="0.9" />
<line x1="99.72" y1="246.73" x2="102.72" y2="246.73" stroke="#cc2332" stroke-width="0.9" />
<line x1="107.1" y1="237.2" x2="107.1" y2="242.4" stroke="#cc2332" stroke-width="0.9" />
<line x1="105.6" y1="237.2" x2="108.6" y2="237.2" stroke="#cc2332" stroke-width="0.9" />
<line x1="105.6" y1="242.4" x2="108.6" y2="242.4" stroke="#cc2332" stroke-width="0.9" />
<circle cx="38.95" cy="244.13" r="1.1" fill="#cc2332" stroke="#cc2332" stroke-width="0.7"/>
<circle cx="50.7" cy="245" r="1.1" fill="#cc2332" stroke="#cc2332" stroke-width="0.7"/>
<circle cx="62.45" cy="248.47" r="1.1" fill="#cc2332" stroke="#cc2332" stroke-width="0.7"/>
<circle cx="74.2" cy="246.73" r="1.1" fill="#cc2332" stroke="#cc2332" stroke-width="0.7"/>
<circle cx="85.95" cy="245" r="1.1" fill="#cc2332" stroke="#cc2332" stroke-width="0.7"/>
<circle cx="91.83" cy="242.4" r="1.1" fill="#cc2332" stroke="#cc2332" stroke-width="0.7"/>
<circle cx="97.7" cy="241.53" r="1.1" fill="#cc2332" stroke="#cc2332" stroke-width="0.7"/>
<circle cx="101.22" cy="245" r="1.1" fill="#cc2332" stroke="#cc2332" stroke-width="0.7"/>
<circle cx="107.1" cy="239.8" r="1.1" fill="#cc2332" stroke="#cc2332" stroke-width="0.7"/>
<polyline points="38.95,244.13 50.7,242.4 62.45,244.13 74.2,247.6 85.95,246.73 91.83,244.13 97.7,243.27 101.22,245.87" fill="none" stroke="#1cb22a" stroke-width="1" stroke-linejoin="round" />
<line x1="38.95" y1="243.27" x2="38.95" y2="245" stroke="#1cb22a" stroke-width="0.9" />
<line x1="37.45" y1="243.27" x2="40.45" y2="243.27" stroke="#1cb22a" stroke-width="0.9" />
<line x1="37.45" y1="245" x2="40.45" y2="245" stroke="#1cb22a" stroke-width="0.9" />
<line x1="50.7" y1="241.53" x2="50.7" y2="243.27" stroke="#1cb22a" stroke-width="0.9" />
<line x1="49.2" y1="241.53" x2="52.2" y2="241.53" stroke="#1cb22a" stroke-width="0.9" />
<line x1="49.2" y1="243.27" x2="52.2" y2="243.27" stroke="#1cb22a" stroke-width="0.9" />
<line x1="62.45" y1="243.27" x2="62.45" y2="245" stroke="#1cb22a" stroke-width="0.9" />
<line x1="60.95" y1="243.27" x2="63.95" y2="243.27" stroke="#1cb22a" stroke-width="0.9" />
<line x1="60.95" y1="245" x2="63.95" y2="245" stroke="#1cb22a" stroke-width="0.9" />
<line x1="74.2" y1="246.73" x2="74.2" y2="248.47" stroke="#1cb22a" stroke-width="0.9" />
<line x1="72.7" y1="246.73" x2="75.7" y2="246.73" stroke="#1cb22a" stroke-width="0.9" />
<line x1="72.7" y1="248.47" x2="75.7" y2="248.47" stroke="#1cb22a" stroke-width="0.9" />
<line x1="85.95" y1="245.87" x2="85.95" y2="247.6" stroke="#1cb22a" stroke-width="0.9" />
<line x1="84.45" y1="245.87" x2="87.45" y2="245.87" stroke="#1cb22a" stroke-width="0.9" />
<line x1="84.45" y1="247.6" x2="87.45" y2="247.6" stroke="#1cb22a" stroke-width="0.9" />
<line x1="91.83" y1="243.27" x2="91.83" y2="245" stroke="#1cb22a" stroke-width="0.9" />
<line x1="90.33" y1="243.27" x2="93.33" y2="243.27" stroke="#1cb22a" stroke-width="0.9" />
<line x1="90.33" y1="245" x2="93.33" y2="245" stroke="#1cb22a" stroke-width="0.9" />
<line x1="97.7" y1="241.53" x2="97.7" y2="245" stroke="#1cb22a" stroke-width="0.9" />
<line x1="96.2" y1="241.53" x2="99.2" y2="241.53" stroke="#1cb22a" stroke-width="0.9" />
<line x1="96.2" y1="245" x2="99.2" y2="245" stroke="#1cb22a" stroke-width="0.9" />
<line x1="101.22" y1="243.27" x2="101.22" y2="248.47" stroke="#1cb22a" stroke-width="0.9" />
<line x1="99.72" y1="243.27" x2="102.72" y2="243.27" stroke="#1cb22a" stroke-width="0.9" />
<line x1="99.72" y1="248.47" x2="102.72" y2="248.47" stroke="#1cb22a" stroke-width="0.9" />
<circle cx="38.95" cy="244.13" r="1.1" fill="#1cb22a" stroke="#1cb22a" stroke-width="0.7"/>
<circle cx="50.7" cy="242.4" r="1.1" fill="#1cb22a" stroke="#1cb22a" stroke-width="0.7"/>
<circle cx="62.45" cy="244.13" r="1.1" fill="#1cb22a" stroke="#1cb22a" stroke-width="0.7"/>
<circle cx="74.2" cy="247.6" r="1.1" fill="#1cb22a" stroke="#1cb22a" stroke-width="0.7"/>
<circle cx="85.95" cy="246.73" r="1.1" fill="#1cb22a" stroke="#1cb22a" stroke-width="0.7"/>
<circle cx="91.83" cy="244.13" r="1.1" fill="#1cb22a" stroke="#1cb22a" stroke-width="0.7"/>
<circle cx="97.7" cy="243.27" r="1.1" fill="#1cb22a" stroke="#1cb22a" stroke-width="0.7"/>
<circle cx="101.22" cy="245.87" r="1.1" fill="#1cb22a" stroke="#1cb22a" stroke-width="0.7"/>
<polyline points="38.95,243.27 50.7,241.53 62.45,242.4 74.2,245 85.95,244.13 91.83,241.53 97.7,241.53 101.22,251.07 107.1,240.66" fill="none" stroke="#111" stroke-width="1" stroke-linejoin="round" />
<line x1="38.95" y1="242.4" x2="38.95" y2="244.13" stroke="#111" stroke-width="0.9" />
<line x1="37.45" y1="242.4" x2="40.45" y2="242.4" stroke="#111" stroke-width="0.9" />
<line x1="37.45" y1="244.13" x2="40.45" y2="244.13" stroke="#111" stroke-width="0.9" />
<line x1="50.7" y1="240.66" x2="50.7" y2="242.4" stroke="#111" stroke-width="0.9" />
<line x1="49.2" y1="240.66" x2="52.2" y2="240.66" stroke="#111" stroke-width="0.9" />
<line x1="49.2" y1="242.4" x2="52.2" y2="242.4" stroke="#111" stroke-width="0.9" />
<line x1="62.45" y1="241.53" x2="62.45" y2="243.27" stroke="#111" stroke-width="0.9" />
<line x1="60.95" y1="241.53" x2="63.95" y2="241.53" stroke="#111" stroke-width="0.9" />
<line x1="60.95" y1="243.27" x2="63.95" y2="243.27" stroke="#111" stroke-width="0.9" />
<line x1="74.2" y1="244.13" x2="74.2" y2="245.87" stroke="#111" stroke-width="0.9" />
<line x1="72.7" y1="244.13" x2="75.7" y2="244.13" stroke="#111" stroke-width="0.9" />
<line x1="72.7" y1="245.87" x2="75.7" y2="245.87" stroke="#111" stroke-width="0.9" />
<line x1="85.95" y1="243.27" x2="85.95" y2="245" stroke="#111" stroke-width="0.9" />
<line x1="84.45" y1="243.27" x2="87.45" y2="243.27" stroke="#111" stroke-width="0.9" />
<line x1="84.45" y1="245" x2="87.45" y2="245" stroke="#111" stroke-width="0.9" />
<line x1="91.83" y1="240.66" x2="91.83" y2="242.4" stroke="#111" stroke-width="0.9" />
<line x1="90.33" y1="240.66" x2="93.33" y2="240.66" stroke="#111" stroke-width="0.9" />
<line x1="90.33" y1="242.4" x2="93.33" y2="242.4" stroke="#111" stroke-width="0.9" />
<line x1="97.7" y1="239.8" x2="97.7" y2="243.27" stroke="#111" stroke-width="0.9" />
<line x1="96.2" y1="239.8" x2="99.2" y2="239.8" stroke="#111" stroke-width="0.9" />
<line x1="96.2" y1="243.27" x2="99.2" y2="243.27" stroke="#111" stroke-width="0.9" />
<line x1="101.22" y1="249.34" x2="101.22" y2="252.8" stroke="#111" stroke-width="0.9" />
<line x1="99.72" y1="249.34" x2="102.72" y2="249.34" stroke="#111" stroke-width="0.9" />
<line x1="99.72" y1="252.8" x2="102.72" y2="252.8" stroke="#111" stroke-width="0.9" />
<line x1="107.1" y1="238.93" x2="107.1" y2="242.4" stroke="#111" stroke-width="0.9" />
<line x1="105.6" y1="238.93" x2="108.6" y2="238.93" stroke="#111" stroke-width="0.9" />
<line x1="105.6" y1="242.4" x2="108.6" y2="242.4" stroke="#111" stroke-width="0.9" />
<circle cx="38.95" cy="243.27" r="1.1" fill="#111" stroke="#111" stroke-width="0.7"/>
<circle cx="50.7" cy="241.53" r="1.1" fill="#111" stroke="#111" stroke-width="0.7"/>
<circle cx="62.45" cy="242.4" r="1.1" fill="#111" stroke="#111" stroke-width="0.7"/>
<circle cx="74.2" cy="245" r="1.1" fill="#111" stroke="#111" stroke-width="0.7"/>
<circle cx="85.95" cy="244.13" r="1.1" fill="#111" stroke="#111" stroke-width="0.7"/>
<circle cx="91.83" cy="241.53" r="1.1" fill="#111" stroke="#111" stroke-width="0.7"/>
<circle cx="97.7" cy="241.53" r="1.1" fill="#111" stroke="#111" stroke-width="0.7"/>
<circle cx="101.22" cy="251.07" r="1.1" fill="#111" stroke="#111" stroke-width="0.7"/>
<circle cx="107.1" cy="240.66" r="1.1" fill="#111" stroke="#111" stroke-width="0.7"/>
<text x="132.4" y="14.04" font-size="12.6" font-weight="bold" text-anchor="middle" fill="#000" stroke="#000" stroke-width="0.45">B</text>
<text transform="translate(135.97,74.2) rotate(-90)" x="0" y="0" font-size="7.7" font-weight="bold" text-anchor="middle" fill="#000"  stroke="#000" stroke-width="0.12">pg/mL</text>
<line x1="157" y1="15.2" x2="157" y2="75.3" stroke="#000" stroke-width="0.9" />
<line x1="155.4" y1="75.3" x2="157" y2="75.3" stroke="#000" stroke-width="0.81" />
<text x="154.9" y="76.88" font-size="4.4" font-weight="bold" text-anchor="end" fill="#000"  stroke="#000" stroke-width="0.12">0</text>
<line x1="155.4" y1="60.27" x2="157" y2="60.27" stroke="#000" stroke-width="0.81" />
<text x="154.9" y="61.86" font-size="4.4" font-weight="bold" text-anchor="end" fill="#000"  stroke="#000" stroke-width="0.12">500</text>
<line x1="155.4" y1="45.25" x2="157" y2="45.25" stroke="#000" stroke-width="0.81" />
<text x="154.9" y="46.83" font-size="4.4" font-weight="bold" text-anchor="end" fill="#000"  stroke="#000" stroke-width="0.12">1,000</text>
<line x1="155.4" y1="30.23" x2="157" y2="30.23" stroke="#000" stroke-width="0.81" />
<text x="154.9" y="31.81" font-size="4.4" font-weight="bold" text-anchor="end" fill="#000"  stroke="#000" stroke-width="0.12">1,500</text>
<line x1="155.4" y1="15.2" x2="157" y2="15.2" stroke="#000" stroke-width="0.81" />
<text x="154.9" y="16.78" font-size="4.4" font-weight="bold" text-anchor="end" fill="#000"  stroke="#000" stroke-width="0.12">2,000</text>
<line x1="157" y1="75.3" x2="227.5" y2="75.3" stroke="#000" stroke-width="1.1" />
<line x1="157" y1="75.3" x2="157" y2="76.9" stroke="#000" stroke-width="0.99" />
<text x="157" y="82.18" font-size="4.4" font-weight="bold" text-anchor="middle" fill="#000"  stroke="#000" stroke-width="0.12">−3</text>
<line x1="171.1" y1="75.3" x2="171.1" y2="76.9" stroke="#000" stroke-width="0.99" />
<text x="171.1" y="82.18" font-size="4.4" font-weight="bold" text-anchor="middle" fill="#000"  stroke="#000" stroke-width="0.12">−2</text>
<line x1="185.2" y1="75.3" x2="185.2" y2="76.9" stroke="#000" stroke-width="0.99" />
<text x="185.2" y="82.18" font-size="4.4" font-weight="bold" text-anchor="middle" fill="#000"  stroke="#000" stroke-width="0.12">−1</text>
<line x1="199.3" y1="75.3" x2="199.3" y2="76.9" stroke="#000" stroke-width="0.99" />
<text x="199.3" y="82.18" font-size="4.4" font-weight="bold" text-anchor="middle" fill="#000"  stroke="#000" stroke-width="0.12">0</text>
<line x1="213.4" y1="75.3" x2="213.4" y2="76.9" stroke="#000" stroke-width="0.99" />
<text x="213.4" y="82.18" font-size="4.4" font-weight="bold" text-anchor="middle" fill="#000"  stroke="#000" stroke-width="0.12">1</text>
<line x1="227.5" y1="75.3" x2="227.5" y2="76.9" stroke="#000" stroke-width="0.99" />
<text x="227.5" y="82.18" font-size="4.4" font-weight="bold" text-anchor="middle" fill="#000"  stroke="#000" stroke-width="0.12">2</text>
<text x="187.3" y="21" font-size="6.4" font-weight="bold" text-anchor="middle" fill="#000"  stroke="#000" stroke-width="0.12">IFNγ</text>
<polyline points="171.1,75.3 185.2,75.3 199.3,75.3 213.4,75.3 220.45,73.5" fill="none" stroke="#111" stroke-width="0.9" stroke-linejoin="round" />
<line x1="220.45" y1="71.99" x2="220.45" y2="75" stroke="#111" stroke-width="0.8" />
<line x1="219.15" y1="71.99" x2="221.75" y2="71.99" stroke="#111" stroke-width="0.8" />
<line x1="219.15" y1="75" x2="221.75" y2="75" stroke="#111" stroke-width="0.8" />
<circle cx="171.1" cy="75.3" r="1" fill="#111" stroke="#111" stroke-width="0.7"/>
<circle cx="185.2" cy="75.3" r="1" fill="#111" stroke="#111" stroke-width="0.7"/>
<circle cx="199.3" cy="75.3" r="1" fill="#111" stroke="#111" stroke-width="0.7"/>
<circle cx="213.4" cy="75.3" r="1" fill="#111" stroke="#111" stroke-width="0.7"/>
<circle cx="220.45" cy="73.5" r="1" fill="#111" stroke="#111" stroke-width="0.7"/>
<polyline points="171.1,74.85 185.2,74.1 199.3,71.69 213.4,67.79 220.45,66.28" fill="none" stroke="#1cb22a" stroke-width="0" stroke-linejoin="round" />
<line x1="171.1" y1="74.55" x2="171.1" y2="75.15" stroke="#1cb22a" stroke-width="0.8" stroke-dasharray="1,0.8"/>
<line x1="169.8" y1="74.55" x2="172.4" y2="74.55" stroke="#1cb22a" stroke-width="0.8" />
<line x1="169.8" y1="75.15" x2="172.4" y2="75.15" stroke="#1cb22a" stroke-width="0.8" />
<line x1="185.2" y1="73.35" x2="185.2" y2="74.85" stroke="#1cb22a" stroke-width="0.8" stroke-dasharray="1,0.8"/>
<line x1="183.9" y1="73.35" x2="186.5" y2="73.35" stroke="#1cb22a" stroke-width="0.8" />
<line x1="183.9" y1="74.85" x2="186.5" y2="74.85" stroke="#1cb22a" stroke-width="0.8" />
<line x1="199.3" y1="69.89" x2="199.3" y2="73.5" stroke="#1cb22a" stroke-width="0.8" stroke-dasharray="1,0.8"/>
<line x1="198" y1="69.89" x2="200.6" y2="69.89" stroke="#1cb22a" stroke-width="0.8" />
<line x1="198" y1="73.5" x2="200.6" y2="73.5" stroke="#1cb22a" stroke-width="0.8" />
<line x1="213.4" y1="64.48" x2="213.4" y2="71.09" stroke="#1cb22a" stroke-width="0.8" stroke-dasharray="1,0.8"/>
<line x1="212.1" y1="64.48" x2="214.7" y2="64.48" stroke="#1cb22a" stroke-width="0.8" />
<line x1="212.1" y1="71.09" x2="214.7" y2="71.09" stroke="#1cb22a" stroke-width="0.8" />
<line x1="220.45" y1="62.08" x2="220.45" y2="70.49" stroke="#1cb22a" stroke-width="0.8" stroke-dasharray="1,0.8"/>
<line x1="219.15" y1="62.08" x2="221.75" y2="62.08" stroke="#1cb22a" stroke-width="0.8" />
<line x1="219.15" y1="70.49" x2="221.75" y2="70.49" stroke="#1cb22a" stroke-width="0.8" />
<circle cx="171.1" cy="74.85" r="1" fill="#1cb22a" stroke="#1cb22a" stroke-width="0.7"/>
<circle cx="185.2" cy="74.1" r="1" fill="#1cb22a" stroke="#1cb22a" stroke-width="0.7"/>
<circle cx="199.3" cy="71.69" r="1" fill="#1cb22a" stroke="#1cb22a" stroke-width="0.7"/>
<circle cx="213.4" cy="67.79" r="1" fill="#1cb22a" stroke="#1cb22a" stroke-width="0.7"/>
<circle cx="220.45" cy="66.28" r="1" fill="#1cb22a" stroke="#1cb22a" stroke-width="0.7"/>
<polyline points="171.1,73.8 185.2,59.97 199.3,40.14 213.4,38.94 220.45,44.65" fill="none" stroke="#cc2332" stroke-width="0.9" stroke-linejoin="round" />
<line x1="171.1" y1="72.9" x2="171.1" y2="74.7" stroke="#cc2332" stroke-width="0.8" />
<line x1="169.8" y1="72.9" x2="172.4" y2="72.9" stroke="#cc2332" stroke-width="0.8" />
<line x1="169.8" y1="74.7" x2="172.4" y2="74.7" stroke="#cc2332" stroke-width="0.8" />
<line x1="185.2" y1="54.87" x2="185.2" y2="65.08" stroke="#cc2332" stroke-width="0.8" />
<line x1="183.9" y1="54.87" x2="186.5" y2="54.87" stroke="#cc2332" stroke-width="0.8" />
<line x1="183.9" y1="65.08" x2="186.5" y2="65.08" stroke="#cc2332" stroke-width="0.8" />
<line x1="199.3" y1="30.23" x2="199.3" y2="50.06" stroke="#cc2332" stroke-width="0.8" />
<line x1="198" y1="30.23" x2="200.6" y2="30.23" stroke="#cc2332" stroke-width="0.8" />
<line x1="198" y1="50.06" x2="200.6" y2="50.06" stroke="#cc2332" stroke-width="0.8" />
<line x1="213.4" y1="27.52" x2="213.4" y2="50.36" stroke="#cc2332" stroke-width="0.8" />
<line x1="212.1" y1="27.52" x2="214.7" y2="27.52" stroke="#cc2332" stroke-width="0.8" />
<line x1="212.1" y1="50.36" x2="214.7" y2="50.36" stroke="#cc2332" stroke-width="0.8" />
<line x1="220.45" y1="36.84" x2="220.45" y2="52.46" stroke="#cc2332" stroke-width="0.8" />
<line x1="219.15" y1="36.84" x2="221.75" y2="36.84" stroke="#cc2332" stroke-width="0.8" />
<line x1="219.15" y1="52.46" x2="221.75" y2="52.46" stroke="#cc2332" stroke-width="0.8" />
<circle cx="171.1" cy="73.8" r="1" fill="#cc2332" stroke="#cc2332" stroke-width="0.7"/>
<circle cx="185.2" cy="59.97" r="1" fill="#cc2332" stroke="#cc2332" stroke-width="0.7"/>
<circle cx="199.3" cy="40.14" r="1" fill="#cc2332" stroke="#cc2332" stroke-width="0.7"/>
<circle cx="213.4" cy="38.94" r="1" fill="#cc2332" stroke="#cc2332" stroke-width="0.7"/>
<circle cx="220.45" cy="44.65" r="1" fill="#cc2332" stroke="#cc2332" stroke-width="0.7"/>
<line x1="247.9" y1="16" x2="247.9" y2="75.9" stroke="#000" stroke-width="0.9" />
<line x1="246.3" y1="75.9" x2="247.9" y2="75.9" stroke="#000" stroke-width="0.81" />
<text x="245.8" y="77.48" font-size="4.4" font-weight="bold" text-anchor="end" fill="#000"  stroke="#000" stroke-width="0.12">0</text>
<line x1="246.3" y1="60.93" x2="247.9" y2="60.93" stroke="#000" stroke-width="0.81" />
<text x="245.8" y="62.51" font-size="4.4" font-weight="bold" text-anchor="end" fill="#000"  stroke="#000" stroke-width="0.12">100</text>
<line x1="246.3" y1="45.95" x2="247.9" y2="45.95" stroke="#000" stroke-width="0.81" />
<text x="245.8" y="47.53" font-size="4.4" font-weight="bold" text-anchor="end" fill="#000"  stroke="#000" stroke-width="0.12">200</text>
<line x1="246.3" y1="30.98" x2="247.9" y2="30.98" stroke="#000" stroke-width="0.81" />
<text x="245.8" y="32.56" font-size="4.4" font-weight="bold" text-anchor="end" fill="#000"  stroke="#000" stroke-width="0.12">300</text>
<line x1="246.3" y1="16" x2="247.9" y2="16" stroke="#000" stroke-width="0.81" />
<text x="245.8" y="17.58" font-size="4.4" font-weight="bold" text-anchor="end" fill="#000"  stroke="#000" stroke-width="0.12">400</text>
<line x1="247.9" y1="75.9" x2="319.2" y2="75.9" stroke="#000" stroke-width="1.1" />
<line x1="248.7" y1="75.9" x2="248.7" y2="77.5" stroke="#000" stroke-width="0.99" />
<text x="248.7" y="82.78" font-size="4.4" font-weight="bold" text-anchor="middle" fill="#000"  stroke="#000" stroke-width="0.12">−3</text>
<line x1="262.8" y1="75.9" x2="262.8" y2="77.5" stroke="#000" stroke-width="0.99" />
<text x="262.8" y="82.78" font-size="4.4" font-weight="bold" text-anchor="middle" fill="#000"  stroke="#000" stroke-width="0.12">−2</text>
<line x1="276.9" y1="75.9" x2="276.9" y2="77.5" stroke="#000" stroke-width="0.99" />
<text x="276.9" y="82.78" font-size="4.4" font-weight="bold" text-anchor="middle" fill="#000"  stroke="#000" stroke-width="0.12">−1</text>
<line x1="291" y1="75.9" x2="291" y2="77.5" stroke="#000" stroke-width="0.99" />
<text x="291" y="82.78" font-size="4.4" font-weight="bold" text-anchor="middle" fill="#000"  stroke="#000" stroke-width="0.12">0</text>
<line x1="305.1" y1="75.9" x2="305.1" y2="77.5" stroke="#000" stroke-width="0.99" />
<text x="305.1" y="82.78" font-size="4.4" font-weight="bold" text-anchor="middle" fill="#000"  stroke="#000" stroke-width="0.12">1</text>
<line x1="319.2" y1="75.9" x2="319.2" y2="77.5" stroke="#000" stroke-width="0.99" />
<text x="319.2" y="82.78" font-size="4.4" font-weight="bold" text-anchor="middle" fill="#000"  stroke="#000" stroke-width="0.12">2</text>
<text x="281" y="21.3" font-size="6.4" font-weight="bold" text-anchor="middle" fill="#000"  stroke="#000" stroke-width="0.12">TNFα</text>
<polyline points="262.8,75.15 276.9,75.45 291,75.6 305.1,75.15 312.15,73.65" fill="none" stroke="#111" stroke-width="0.9" stroke-linejoin="round" />
<line x1="262.8" y1="74.85" x2="262.8" y2="75.45" stroke="#111" stroke-width="0.8" />
<line x1="261.5" y1="74.85" x2="264.1" y2="74.85" stroke="#111" stroke-width="0.8" />
<line x1="261.5" y1="75.45" x2="264.1" y2="75.45" stroke="#111" stroke-width="0.8" />
<line x1="276.9" y1="75.15" x2="276.9" y2="75.75" stroke="#111" stroke-width="0.8" />
<line x1="275.6" y1="75.15" x2="278.2" y2="75.15" stroke="#111" stroke-width="0.8" />
<line x1="275.6" y1="75.75" x2="278.2" y2="75.75" stroke="#111" stroke-width="0.8" />
<line x1="291" y1="75.3" x2="291" y2="75.9" stroke="#111" stroke-width="0.8" />
<line x1="289.7" y1="75.3" x2="292.3" y2="75.3" stroke="#111" stroke-width="0.8" />
<line x1="289.7" y1="75.9" x2="292.3" y2="75.9" stroke="#111" stroke-width="0.8" />
<line x1="305.1" y1="74.85" x2="305.1" y2="75.45" stroke="#111" stroke-width="0.8" />
<line x1="303.8" y1="74.85" x2="306.4" y2="74.85" stroke="#111" stroke-width="0.8" />
<line x1="303.8" y1="75.45" x2="306.4" y2="75.45" stroke="#111" stroke-width="0.8" />
<line x1="312.15" y1="73.05" x2="312.15" y2="74.25" stroke="#111" stroke-width="0.8" />
<line x1="310.85" y1="73.05" x2="313.45" y2="73.05" stroke="#111" stroke-width="0.8" />
<line x1="310.85" y1="74.25" x2="313.45" y2="74.25" stroke="#111" stroke-width="0.8" />
<circle cx="262.8" cy="75.15" r="1" fill="#111" stroke="#111" stroke-width="0.7"/>
<circle cx="276.9" cy="75.45" r="1" fill="#111" stroke="#111" stroke-width="0.7"/>
<circle cx="291" cy="75.6" r="1" fill="#111" stroke="#111" stroke-width="0.7"/>
<circle cx="305.1" cy="75.15" r="1" fill="#111" stroke="#111" stroke-width="0.7"/>
<circle cx="312.15" cy="73.65" r="1" fill="#111" stroke="#111" stroke-width="0.7"/>
<polyline points="262.8,75.15 276.9,73.65 291,70.96 305.1,66.17 312.15,65.72" fill="none" stroke="#1cb22a" stroke-width="0.9" stroke-linejoin="round" />
<line x1="262.8" y1="74.7" x2="262.8" y2="75.6" stroke="#1cb22a" stroke-width="0.8" />
<line x1="261.5" y1="74.7" x2="264.1" y2="74.7" stroke="#1cb22a" stroke-width="0.8" />
<line x1="261.5" y1="75.6" x2="264.1" y2="75.6" stroke="#1cb22a" stroke-width="0.8" />
<line x1="276.9" y1="73.05" x2="276.9" y2="74.25" stroke="#1cb22a" stroke-width="0.8" />
<line x1="275.6" y1="73.05" x2="278.2" y2="73.05" stroke="#1cb22a" stroke-width="0.8" />
<line x1="275.6" y1="74.25" x2="278.2" y2="74.25" stroke="#1cb22a" stroke-width="0.8" />
<line x1="291" y1="70.21" x2="291" y2="71.71" stroke="#1cb22a" stroke-width="0.8" />
<line x1="289.7" y1="70.21" x2="292.3" y2="70.21" stroke="#1cb22a" stroke-width="0.8" />
<line x1="289.7" y1="71.71" x2="292.3" y2="71.71" stroke="#1cb22a" stroke-width="0.8" />
<line x1="305.1" y1="63.92" x2="305.1" y2="68.41" stroke="#1cb22a" stroke-width="0.8" />
<line x1="303.8" y1="63.92" x2="306.4" y2="63.92" stroke="#1cb22a" stroke-width="0.8" />
<line x1="303.8" y1="68.41" x2="306.4" y2="68.41" stroke="#1cb22a" stroke-width="0.8" />
<line x1="312.15" y1="63.47" x2="312.15" y2="67.96" stroke="#1cb22a" stroke-width="0.8" />
<line x1="310.85" y1="63.47" x2="313.45" y2="63.47" stroke="#1cb22a" stroke-width="0.8" />
<line x1="310.85" y1="67.96" x2="313.45" y2="67.96" stroke="#1cb22a" stroke-width="0.8" />
<circle cx="262.8" cy="75.15" r="1" fill="#1cb22a" stroke="#1cb22a" stroke-width="0.7"/>
<circle cx="276.9" cy="73.65" r="1" fill="#1cb22a" stroke="#1cb22a" stroke-width="0.7"/>
<circle cx="291" cy="70.96" r="1" fill="#1cb22a" stroke="#1cb22a" stroke-width="0.7"/>
<circle cx="305.1" cy="66.17" r="1" fill="#1cb22a" stroke="#1cb22a" stroke-width="0.7"/>
<circle cx="312.15" cy="65.72" r="1" fill="#1cb22a" stroke="#1cb22a" stroke-width="0.7"/>
<polyline points="262.8,72.91 276.9,61.67 291,44.45 305.1,38.76 312.15,42.21" fill="none" stroke="#cc2332" stroke-width="0.9" stroke-linejoin="round" />
<line x1="262.8" y1="71.71" x2="262.8" y2="74.1" stroke="#cc2332" stroke-width="0.8" />
<line x1="261.5" y1="71.71" x2="264.1" y2="71.71" stroke="#cc2332" stroke-width="0.8" />
<line x1="261.5" y1="74.1" x2="264.1" y2="74.1" stroke="#cc2332" stroke-width="0.8" />
<line x1="276.9" y1="57.93" x2="276.9" y2="65.42" stroke="#cc2332" stroke-width="0.8" />
<line x1="275.6" y1="57.93" x2="278.2" y2="57.93" stroke="#cc2332" stroke-width="0.8" />
<line x1="275.6" y1="65.42" x2="278.2" y2="65.42" stroke="#cc2332" stroke-width="0.8" />
<line x1="291" y1="36.97" x2="291" y2="51.94" stroke="#cc2332" stroke-width="0.8" />
<line x1="289.7" y1="36.97" x2="292.3" y2="36.97" stroke="#cc2332" stroke-width="0.8" />
<line x1="289.7" y1="51.94" x2="292.3" y2="51.94" stroke="#cc2332" stroke-width="0.8" />
<line x1="305.1" y1="29.78" x2="305.1" y2="47.75" stroke="#cc2332" stroke-width="0.8" />
<line x1="303.8" y1="29.78" x2="306.4" y2="29.78" stroke="#cc2332" stroke-width="0.8" />
<line x1="303.8" y1="47.75" x2="306.4" y2="47.75" stroke="#cc2332" stroke-width="0.8" />
<line x1="312.15" y1="33.22" x2="312.15" y2="51.19" stroke="#cc2332" stroke-width="0.8" />
<line x1="310.85" y1="33.22" x2="313.45" y2="33.22" stroke="#cc2332" stroke-width="0.8" />
<line x1="310.85" y1="51.19" x2="313.45" y2="51.19" stroke="#cc2332" stroke-width="0.8" />
<circle cx="262.8" cy="72.91" r="1" fill="#cc2332" stroke="#cc2332" stroke-width="0.7"/>
<circle cx="276.9" cy="61.67" r="1" fill="#cc2332" stroke="#cc2332" stroke-width="0.7"/>
<circle cx="291" cy="44.45" r="1" fill="#cc2332" stroke="#cc2332" stroke-width="0.7"/>
<circle cx="305.1" cy="38.76" r="1" fill="#cc2332" stroke="#cc2332" stroke-width="0.7"/>
<circle cx="312.15" cy="42.21" r="1" fill="#cc2332" stroke="#cc2332" stroke-width="0.7"/>
<line x1="340.2" y1="15.4" x2="340.2" y2="75.4" stroke="#000" stroke-width="0.9" />
<line x1="338.6" y1="75.4" x2="340.2" y2="75.4" stroke="#000" stroke-width="0.81" />
<text x="338.1" y="76.98" font-size="4.4" font-weight="bold" text-anchor="end" fill="#000"  stroke="#000" stroke-width="0.12">0</text>
<line x1="338.6" y1="55.4" x2="340.2" y2="55.4" stroke="#000" stroke-width="0.81" />
<text x="338.1" y="56.98" font-size="4.4" font-weight="bold" text-anchor="end" fill="#000"  stroke="#000" stroke-width="0.12">500</text>
<line x1="338.6" y1="35.4" x2="340.2" y2="35.4" stroke="#000" stroke-width="0.81" />
<text x="338.1" y="36.98" font-size="4.4" font-weight="bold" text-anchor="end" fill="#000"  stroke="#000" stroke-width="0.12">1,000</text>
<line x1="338.6" y1="15.4" x2="340.2" y2="15.4" stroke="#000" stroke-width="0.81" />
<text x="338.1" y="16.98" font-size="4.4" font-weight="bold" text-anchor="end" fill="#000"  stroke="#000" stroke-width="0.12">1,500</text>
<line x1="340.2" y1="75.4" x2="411" y2="75.4" stroke="#000" stroke-width="1.1" />
<line x1="340.5" y1="75.4" x2="340.5" y2="77" stroke="#000" stroke-width="0.99" />
<text x="340.5" y="82.38" font-size="4.4" font-weight="bold" text-anchor="middle" fill="#000"  stroke="#000" stroke-width="0.12">−3</text>
<line x1="354.6" y1="75.4" x2="354.6" y2="77" stroke="#000" stroke-width="0.99" />
<text x="354.6" y="82.38" font-size="4.4" font-weight="bold" text-anchor="middle" fill="#000"  stroke="#000" stroke-width="0.12">−2</text>
<line x1="368.7" y1="75.4" x2="368.7" y2="77" stroke="#000" stroke-width="0.99" />
<text x="368.7" y="82.38" font-size="4.4" font-weight="bold" text-anchor="middle" fill="#000"  stroke="#000" stroke-width="0.12">−1</text>
<line x1="382.8" y1="75.4" x2="382.8" y2="77" stroke="#000" stroke-width="0.99" />
<text x="382.8" y="82.38" font-size="4.4" font-weight="bold" text-anchor="middle" fill="#000"  stroke="#000" stroke-width="0.12">0</text>
<line x1="396.9" y1="75.4" x2="396.9" y2="77" stroke="#000" stroke-width="0.99" />
<text x="396.9" y="82.38" font-size="4.4" font-weight="bold" text-anchor="middle" fill="#000"  stroke="#000" stroke-width="0.12">1</text>
<line x1="411" y1="75.4" x2="411" y2="77" stroke="#000" stroke-width="0.99" />
<text x="411" y="82.38" font-size="4.4" font-weight="bold" text-anchor="middle" fill="#000"  stroke="#000" stroke-width="0.12">2</text>
<text x="369.4" y="20.3" font-size="6.4" font-weight="bold" text-anchor="middle" fill="#000"  stroke="#000" stroke-width="0.12">IL6</text>
<polyline points="354.6,75.4 368.7,75.4 382.8,75.4 396.9,75.2 403.95,73.8" fill="none" stroke="#111" stroke-width="0.9" stroke-linejoin="round" />
<line x1="396.9" y1="75" x2="396.9" y2="75.4" stroke="#111" stroke-width="0.8" />
<line x1="395.6" y1="75" x2="398.2" y2="75" stroke="#111" stroke-width="0.8" />
<line x1="395.6" y1="75.4" x2="398.2" y2="75.4" stroke="#111" stroke-width="0.8" />
<line x1="403.95" y1="73.2" x2="403.95" y2="74.4" stroke="#111" stroke-width="0.8" />
<line x1="402.65" y1="73.2" x2="405.25" y2="73.2" stroke="#111" stroke-width="0.8" />
<line x1="402.65" y1="74.4" x2="405.25" y2="74.4" stroke="#111" stroke-width="0.8" />
<circle cx="354.6" cy="75.4" r="1" fill="#111" stroke="#111" stroke-width="0.7"/>
<circle cx="368.7" cy="75.4" r="1" fill="#111" stroke="#111" stroke-width="0.7"/>
<circle cx="382.8" cy="75.4" r="1" fill="#111" stroke="#111" stroke-width="0.7"/>
<circle cx="396.9" cy="75.2" r="1" fill="#111" stroke="#111" stroke-width="0.7"/>
<circle cx="403.95" cy="73.8" r="1" fill="#111" stroke="#111" stroke-width="0.7"/>
<polyline points="354.6,74.6 368.7,74.2 382.8,69.4 396.9,62.2 403.95,56.2" fill="none" stroke="#1cb22a" stroke-width="0.9" stroke-linejoin="round" />
<line x1="354.6" y1="74.4" x2="354.6" y2="74.8" stroke="#1cb22a" stroke-width="0.8" stroke-dasharray="1.2,0.8"/>
<line x1="353.3" y1="74.4" x2="355.9" y2="74.4" stroke="#1cb22a" stroke-width="0.8" />
<line x1="353.3" y1="74.8" x2="355.9" y2="74.8" stroke="#1cb22a" stroke-width="0.8" />
<line x1="368.7" y1="73.8" x2="368.7" y2="74.6" stroke="#1cb22a" stroke-width="0.8" stroke-dasharray="1.2,0.8"/>
<line x1="367.4" y1="73.8" x2="370" y2="73.8" stroke="#1cb22a" stroke-width="0.8" />
<line x1="367.4" y1="74.6" x2="370" y2="74.6" stroke="#1cb22a" stroke-width="0.8" />
<line x1="382.8" y1="67.8" x2="382.8" y2="71" stroke="#1cb22a" stroke-width="0.8" stroke-dasharray="1.2,0.8"/>
<line x1="381.5" y1="67.8" x2="384.1" y2="67.8" stroke="#1cb22a" stroke-width="0.8" />
<line x1="381.5" y1="71" x2="384.1" y2="71" stroke="#1cb22a" stroke-width="0.8" />
<line x1="396.9" y1="59" x2="396.9" y2="65.4" stroke="#1cb22a" stroke-width="0.8" stroke-dasharray="1.2,0.8"/>
<line x1="395.6" y1="59" x2="398.2" y2="59" stroke="#1cb22a" stroke-width="0.8" />
<line x1="395.6" y1="65.4" x2="398.2" y2="65.4" stroke="#1cb22a" stroke-width="0.8" />
<line x1="403.95" y1="50.6" x2="403.95" y2="61.8" stroke="#1cb22a" stroke-width="0.8" stroke-dasharray="1.2,0.8"/>
<line x1="402.65" y1="50.6" x2="405.25" y2="50.6" stroke="#1cb22a" stroke-width="0.8" />
<line x1="402.65" y1="61.8" x2="405.25" y2="61.8" stroke="#1cb22a" stroke-width="0.8" />
<circle cx="354.6" cy="74.6" r="1" fill="#1cb22a" stroke="#1cb22a" stroke-width="0.7"/>
<circle cx="368.7" cy="74.2" r="1" fill="#1cb22a" stroke="#1cb22a" stroke-width="0.7"/>
<circle cx="382.8" cy="69.4" r="1" fill="#1cb22a" stroke="#1cb22a" stroke-width="0.7"/>
<circle cx="396.9" cy="62.2" r="1" fill="#1cb22a" stroke="#1cb22a" stroke-width="0.7"/>
<circle cx="403.95" cy="56.2" r="1" fill="#1cb22a" stroke="#1cb22a" stroke-width="0.7"/>
<polyline points="354.6,73 368.7,61 382.8,50.2 396.9,43.4 403.95,37" fill="none" stroke="#cc2332" stroke-width="0.9" stroke-linejoin="round" />
<line x1="354.6" y1="72.2" x2="354.6" y2="73.8" stroke="#cc2332" stroke-width="0.8" stroke-dasharray="1.5,0.8"/>
<line x1="353.3" y1="72.2" x2="355.9" y2="72.2" stroke="#cc2332" stroke-width="0.8" />
<line x1="353.3" y1="73.8" x2="355.9" y2="73.8" stroke="#cc2332" stroke-width="0.8" />
<line x1="368.7" y1="58.6" x2="368.7" y2="63.4" stroke="#cc2332" stroke-width="0.8" stroke-dasharray="1.5,0.8"/>
<line x1="367.4" y1="58.6" x2="370" y2="58.6" stroke="#cc2332" stroke-width="0.8" />
<line x1="367.4" y1="63.4" x2="370" y2="63.4" stroke="#cc2332" stroke-width="0.8" />
<line x1="382.8" y1="45" x2="382.8" y2="55.4" stroke="#cc2332" stroke-width="0.8" stroke-dasharray="1.5,0.8"/>
<line x1="381.5" y1="45" x2="384.1" y2="45" stroke="#cc2332" stroke-width="0.8" />
<line x1="381.5" y1="55.4" x2="384.1" y2="55.4" stroke="#cc2332" stroke-width="0.8" />
<line x1="396.9" y1="36.6" x2="396.9" y2="50.2" stroke="#cc2332" stroke-width="0.8" stroke-dasharray="1.5,0.8"/>
<line x1="395.6" y1="36.6" x2="398.2" y2="36.6" stroke="#cc2332" stroke-width="0.8" />
<line x1="395.6" y1="50.2" x2="398.2" y2="50.2" stroke="#cc2332" stroke-width="0.8" />
<line x1="403.95" y1="27" x2="403.95" y2="47" stroke="#cc2332" stroke-width="0.8" stroke-dasharray="1.5,0.8"/>
<line x1="402.65" y1="27" x2="405.25" y2="27" stroke="#cc2332" stroke-width="0.8" />
<line x1="402.65" y1="47" x2="405.25" y2="47" stroke="#cc2332" stroke-width="0.8" />
<circle cx="354.6" cy="73" r="1" fill="#cc2332" stroke="#cc2332" stroke-width="0.7"/>
<circle cx="368.7" cy="61" r="1" fill="#cc2332" stroke="#cc2332" stroke-width="0.7"/>
<circle cx="382.8" cy="50.2" r="1" fill="#cc2332" stroke="#cc2332" stroke-width="0.7"/>
<circle cx="396.9" cy="43.4" r="1" fill="#cc2332" stroke="#cc2332" stroke-width="0.7"/>
<circle cx="403.95" cy="37" r="1" fill="#cc2332" stroke="#cc2332" stroke-width="0.7"/>
<line x1="155.2" y1="94.6" x2="155.2" y2="156" stroke="#000" stroke-width="0.9" />
<line x1="153.6" y1="156" x2="155.2" y2="156" stroke="#000" stroke-width="0.81" />
<text x="153.1" y="157.58" font-size="4.4" font-weight="bold" text-anchor="end" fill="#000"  stroke="#000" stroke-width="0.12">0</text>
<line x1="153.6" y1="143.72" x2="155.2" y2="143.72" stroke="#000" stroke-width="0.81" />
<text x="153.1" y="145.3" font-size="4.4" font-weight="bold" text-anchor="end" fill="#000"  stroke="#000" stroke-width="0.12">50</text>
<line x1="153.6" y1="131.44" x2="155.2" y2="131.44" stroke="#000" stroke-width="0.81" />
<text x="153.1" y="133.02" font-size="4.4" font-weight="bold" text-anchor="end" fill="#000"  stroke="#000" stroke-width="0.12">100</text>
<line x1="153.6" y1="119.16" x2="155.2" y2="119.16" stroke="#000" stroke-width="0.81" />
<text x="153.1" y="120.74" font-size="4.4" font-weight="bold" text-anchor="end" fill="#000"  stroke="#000" stroke-width="0.12">150</text>
<line x1="153.6" y1="106.88" x2="155.2" y2="106.88" stroke="#000" stroke-width="0.81" />
<text x="153.1" y="108.46" font-size="4.4" font-weight="bold" text-anchor="end" fill="#000"  stroke="#000" stroke-width="0.12">200</text>
<line x1="153.6" y1="94.6" x2="155.2" y2="94.6" stroke="#000" stroke-width="0.81" />
<text x="153.1" y="96.18" font-size="4.4" font-weight="bold" text-anchor="end" fill="#000"  stroke="#000" stroke-width="0.12">250</text>
<line x1="155.2" y1="156" x2="226.2" y2="156" stroke="#000" stroke-width="1.1" />
<line x1="155.7" y1="156" x2="155.7" y2="157.6" stroke="#000" stroke-width="0.99" />
<text x="155.7" y="162.98" font-size="4.4" font-weight="bold" text-anchor="middle" fill="#000"  stroke="#000" stroke-width="0.12">−3</text>
<line x1="169.8" y1="156" x2="169.8" y2="157.6" stroke="#000" stroke-width="0.99" />
<text x="169.8" y="162.98" font-size="4.4" font-weight="bold" text-anchor="middle" fill="#000"  stroke="#000" stroke-width="0.12">−2</text>
<line x1="183.9" y1="156" x2="183.9" y2="157.6" stroke="#000" stroke-width="0.99" />
<text x="183.9" y="162.98" font-size="4.4" font-weight="bold" text-anchor="middle" fill="#000"  stroke="#000" stroke-width="0.12">−1</text>
<line x1="198" y1="156" x2="198" y2="157.6" stroke="#000" stroke-width="0.99" />
<text x="198" y="162.98" font-size="4.4" font-weight="bold" text-anchor="middle" fill="#000"  stroke="#000" stroke-width="0.12">0</text>
<line x1="212.1" y1="156" x2="212.1" y2="157.6" stroke="#000" stroke-width="0.99" />
<text x="212.1" y="162.98" font-size="4.4" font-weight="bold" text-anchor="middle" fill="#000"  stroke="#000" stroke-width="0.12">1</text>
<line x1="226.2" y1="156" x2="226.2" y2="157.6" stroke="#000" stroke-width="0.99" />
<text x="226.2" y="162.98" font-size="4.4" font-weight="bold" text-anchor="middle" fill="#000"  stroke="#000" stroke-width="0.12">2</text>
<text x="186.4" y="101.7" font-size="6.4" font-weight="bold" text-anchor="middle" fill="#000"  stroke="#000" stroke-width="0.12">IL1β</text>
<polyline points="169.8,156 183.9,156 198,156 212.1,155.75 219.15,155.51" fill="none" stroke="#111" stroke-width="0.9" stroke-linejoin="round" />
<line x1="212.1" y1="155.63" x2="212.1" y2="155.88" stroke="#111" stroke-width="0.8" />
<line x1="210.8" y1="155.63" x2="213.4" y2="155.63" stroke="#111" stroke-width="0.8" />
<line x1="210.8" y1="155.88" x2="213.4" y2="155.88" stroke="#111" stroke-width="0.8" />
<line x1="219.15" y1="155.26" x2="219.15" y2="155.75" stroke="#111" stroke-width="0.8" />
<line x1="217.85" y1="155.26" x2="220.45" y2="155.26" stroke="#111" stroke-width="0.8" />
<line x1="217.85" y1="155.75" x2="220.45" y2="155.75" stroke="#111" stroke-width="0.8" />
<circle cx="169.8" cy="156" r="1" fill="#111" stroke="#111" stroke-width="0.7"/>
<circle cx="183.9" cy="156" r="1" fill="#111" stroke="#111" stroke-width="0.7"/>
<circle cx="198" cy="156" r="1" fill="#111" stroke="#111" stroke-width="0.7"/>
<circle cx="212.1" cy="155.75" r="1" fill="#111" stroke="#111" stroke-width="0.7"/>
<circle cx="219.15" cy="155.51" r="1" fill="#111" stroke="#111" stroke-width="0.7"/>
<polyline points="169.8,155.51 183.9,155.75 198,154.77 212.1,144.21 219.15,141.76" fill="none" stroke="#1cb22a" stroke-width="0.9" stroke-linejoin="round" />
<line x1="169.8" y1="155.26" x2="169.8" y2="155.75" stroke="#1cb22a" stroke-width="0.8" stroke-dasharray="1.2,0.8"/>
<line x1="168.5" y1="155.26" x2="171.1" y2="155.26" stroke="#1cb22a" stroke-width="0.8" />
<line x1="168.5" y1="155.75" x2="171.1" y2="155.75" stroke="#1cb22a" stroke-width="0.8" />
<line x1="183.9" y1="155.51" x2="183.9" y2="156" stroke="#1cb22a" stroke-width="0.8" stroke-dasharray="1.2,0.8"/>
<line x1="182.6" y1="155.51" x2="185.2" y2="155.51" stroke="#1cb22a" stroke-width="0.8" />
<line x1="182.6" y1="156" x2="185.2" y2="156" stroke="#1cb22a" stroke-width="0.8" />
<line x1="198" y1="154.04" x2="198" y2="155.51" stroke="#1cb22a" stroke-width="0.8" stroke-dasharray="1.2,0.8"/>
<line x1="196.7" y1="154.04" x2="199.3" y2="154.04" stroke="#1cb22a" stroke-width="0.8" />
<line x1="196.7" y1="155.51" x2="199.3" y2="155.51" stroke="#1cb22a" stroke-width="0.8" />
<line x1="212.1" y1="134.39" x2="212.1" y2="154.04" stroke="#1cb22a" stroke-width="0.8" stroke-dasharray="1.2,0.8"/>
<line x1="210.8" y1="134.39" x2="213.4" y2="134.39" stroke="#1cb22a" stroke-width="0.8" />
<line x1="210.8" y1="154.04" x2="213.4" y2="154.04" stroke="#1cb22a" stroke-width="0.8" />
<line x1="219.15" y1="133.16" x2="219.15" y2="150.35" stroke="#1cb22a" stroke-width="0.8" stroke-dasharray="1.2,0.8"/>
<line x1="217.85" y1="133.16" x2="220.45" y2="133.16" stroke="#1cb22a" stroke-width="0.8" />
<line x1="217.85" y1="150.35" x2="220.45" y2="150.35" stroke="#1cb22a" stroke-width="0.8" />
<circle cx="169.8" cy="155.51" r="1" fill="#1cb22a" stroke="#1cb22a" stroke-width="0.7"/>
<circle cx="183.9" cy="155.75" r="1" fill="#1cb22a" stroke="#1cb22a" stroke-width="0.7"/>
<circle cx="198" cy="154.77" r="1" fill="#1cb22a" stroke="#1cb22a" stroke-width="0.7"/>
<circle cx="212.1" cy="144.21" r="1" fill="#1cb22a" stroke="#1cb22a" stroke-width="0.7"/>
<circle cx="219.15" cy="141.76" r="1" fill="#1cb22a" stroke="#1cb22a" stroke-width="0.7"/>
<polyline points="169.8,155.26 183.9,151.58 198,144.95 212.1,128.25 219.15,122.11" fill="none" stroke="#cc2332" stroke-width="0.9" stroke-linejoin="round" />
<line x1="169.8" y1="154.77" x2="169.8" y2="155.75" stroke="#cc2332" stroke-width="0.8" />
<line x1="168.5" y1="154.77" x2="171.1" y2="154.77" stroke="#cc2332" stroke-width="0.8" />
<line x1="168.5" y1="155.75" x2="171.1" y2="155.75" stroke="#cc2332" stroke-width="0.8" />
<line x1="183.9" y1="150.35" x2="183.9" y2="152.81" stroke="#cc2332" stroke-width="0.8" />
<line x1="182.6" y1="150.35" x2="185.2" y2="150.35" stroke="#cc2332" stroke-width="0.8" />
<line x1="182.6" y1="152.81" x2="185.2" y2="152.81" stroke="#cc2332" stroke-width="0.8" />
<line x1="198" y1="140.53" x2="198" y2="149.37" stroke="#cc2332" stroke-width="0.8" />
<line x1="196.7" y1="140.53" x2="199.3" y2="140.53" stroke="#cc2332" stroke-width="0.8" />
<line x1="196.7" y1="149.37" x2="199.3" y2="149.37" stroke="#cc2332" stroke-width="0.8" />
<line x1="212.1" y1="112.28" x2="212.1" y2="144.21" stroke="#cc2332" stroke-width="0.8" />
<line x1="210.8" y1="112.28" x2="213.4" y2="112.28" stroke="#cc2332" stroke-width="0.8" />
<line x1="210.8" y1="144.21" x2="213.4" y2="144.21" stroke="#cc2332" stroke-width="0.8" />
<line x1="219.15" y1="104.92" x2="219.15" y2="139.3" stroke="#cc2332" stroke-width="0.8" />
<line x1="217.85" y1="104.92" x2="220.45" y2="104.92" stroke="#cc2332" stroke-width="0.8" />
<line x1="217.85" y1="139.3" x2="220.45" y2="139.3" stroke="#cc2332" stroke-width="0.8" />
<circle cx="169.8" cy="155.26" r="1" fill="#cc2332" stroke="#cc2332" stroke-width="0.7"/>
<circle cx="183.9" cy="151.58" r="1" fill="#cc2332" stroke="#cc2332" stroke-width="0.7"/>
<circle cx="198" cy="144.95" r="1" fill="#cc2332" stroke="#cc2332" stroke-width="0.7"/>
<circle cx="212.1" cy="128.25" r="1" fill="#cc2332" stroke="#cc2332" stroke-width="0.7"/>
<circle cx="219.15" cy="122.11" r="1" fill="#cc2332" stroke="#cc2332" stroke-width="0.7"/>
<line x1="250.3" y1="94.5" x2="250.3" y2="155.6" stroke="#000" stroke-width="0.9" />
<line x1="248.7" y1="155.6" x2="250.3" y2="155.6" stroke="#000" stroke-width="0.81" />
<text x="248.2" y="157.18" font-size="4.4" font-weight="bold" text-anchor="end" fill="#000"  stroke="#000" stroke-width="0.12">0</text>
<line x1="248.7" y1="140.32" x2="250.3" y2="140.32" stroke="#000" stroke-width="0.81" />
<text x="248.2" y="141.91" font-size="4.4" font-weight="bold" text-anchor="end" fill="#000"  stroke="#000" stroke-width="0.12">2,000</text>
<line x1="248.7" y1="125.05" x2="250.3" y2="125.05" stroke="#000" stroke-width="0.81" />
<text x="248.2" y="126.63" font-size="4.4" font-weight="bold" text-anchor="end" fill="#000"  stroke="#000" stroke-width="0.12">4,000</text>
<line x1="248.7" y1="109.78" x2="250.3" y2="109.78" stroke="#000" stroke-width="0.81" />
<text x="248.2" y="111.36" font-size="4.4" font-weight="bold" text-anchor="end" fill="#000"  stroke="#000" stroke-width="0.12">6,000</text>
<line x1="248.7" y1="94.5" x2="250.3" y2="94.5" stroke="#000" stroke-width="0.81" />
<text x="248.2" y="96.08" font-size="4.4" font-weight="bold" text-anchor="end" fill="#000"  stroke="#000" stroke-width="0.12">8,000</text>
<line x1="250.3" y1="155.6" x2="321.4" y2="155.6" stroke="#000" stroke-width="1.1" />
<line x1="250.4" y1="155.6" x2="250.4" y2="157.2" stroke="#000" stroke-width="0.99" />
<text x="250.4" y="162.28" font-size="4.4" font-weight="bold" text-anchor="middle" fill="#000"  stroke="#000" stroke-width="0.12">−3</text>
<line x1="264.6" y1="155.6" x2="264.6" y2="157.2" stroke="#000" stroke-width="0.99" />
<text x="264.6" y="162.28" font-size="4.4" font-weight="bold" text-anchor="middle" fill="#000"  stroke="#000" stroke-width="0.12">−2</text>
<line x1="278.8" y1="155.6" x2="278.8" y2="157.2" stroke="#000" stroke-width="0.99" />
<text x="278.8" y="162.28" font-size="4.4" font-weight="bold" text-anchor="middle" fill="#000"  stroke="#000" stroke-width="0.12">−1</text>
<line x1="293" y1="155.6" x2="293" y2="157.2" stroke="#000" stroke-width="0.99" />
<text x="293" y="162.28" font-size="4.4" font-weight="bold" text-anchor="middle" fill="#000"  stroke="#000" stroke-width="0.12">0</text>
<line x1="307.2" y1="155.6" x2="307.2" y2="157.2" stroke="#000" stroke-width="0.99" />
<text x="307.2" y="162.28" font-size="4.4" font-weight="bold" text-anchor="middle" fill="#000"  stroke="#000" stroke-width="0.12">1</text>
<line x1="321.4" y1="155.6" x2="321.4" y2="157.2" stroke="#000" stroke-width="0.99" />
<text x="321.4" y="162.28" font-size="4.4" font-weight="bold" text-anchor="middle" fill="#000"  stroke="#000" stroke-width="0.12">2</text>
<text x="277.8" y="99" font-size="6.4" font-weight="bold" text-anchor="middle" fill="#000"  stroke="#000" stroke-width="0.12">IL8</text>
<polyline points="264.6,155.6 278.8,155.6 293,155.6 307.2,155.22 314.3,154.45" fill="none" stroke="#111" stroke-width="0.9" stroke-linejoin="round" />
<line x1="307.2" y1="154.99" x2="307.2" y2="155.45" stroke="#111" stroke-width="0.8" />
<line x1="305.9" y1="154.99" x2="308.5" y2="154.99" stroke="#111" stroke-width="0.8" />
<line x1="305.9" y1="155.45" x2="308.5" y2="155.45" stroke="#111" stroke-width="0.8" />
<line x1="314.3" y1="154.07" x2="314.3" y2="154.84" stroke="#111" stroke-width="0.8" />
<line x1="313" y1="154.07" x2="315.6" y2="154.07" stroke="#111" stroke-width="0.8" />
<line x1="313" y1="154.84" x2="315.6" y2="154.84" stroke="#111" stroke-width="0.8" />
<circle cx="264.6" cy="155.6" r="1" fill="#111" stroke="#111" stroke-width="0.7"/>
<circle cx="278.8" cy="155.6" r="1" fill="#111" stroke="#111" stroke-width="0.7"/>
<circle cx="293" cy="155.6" r="1" fill="#111" stroke="#111" stroke-width="0.7"/>
<circle cx="307.2" cy="155.22" r="1" fill="#111" stroke="#111" stroke-width="0.7"/>
<circle cx="314.3" cy="154.45" r="1" fill="#111" stroke="#111" stroke-width="0.7"/>
<polyline points="264.6,155.22 278.8,154.84 293,153.31 307.2,147.2 314.3,143.38" fill="none" stroke="#1cb22a" stroke-width="0.9" stroke-linejoin="round" />
<line x1="264.6" y1="155.07" x2="264.6" y2="155.37" stroke="#1cb22a" stroke-width="0.8" />
<line x1="263.3" y1="155.07" x2="265.9" y2="155.07" stroke="#1cb22a" stroke-width="0.8" />
<line x1="263.3" y1="155.37" x2="265.9" y2="155.37" stroke="#1cb22a" stroke-width="0.8" />
<line x1="278.8" y1="154.61" x2="278.8" y2="155.07" stroke="#1cb22a" stroke-width="0.8" />
<line x1="277.5" y1="154.61" x2="280.1" y2="154.61" stroke="#1cb22a" stroke-width="0.8" />
<line x1="277.5" y1="155.07" x2="280.1" y2="155.07" stroke="#1cb22a" stroke-width="0.8" />
<line x1="293" y1="152.7" x2="293" y2="153.92" stroke="#1cb22a" stroke-width="0.8" />
<line x1="291.7" y1="152.7" x2="294.3" y2="152.7" stroke="#1cb22a" stroke-width="0.8" />
<line x1="291.7" y1="153.92" x2="294.3" y2="153.92" stroke="#1cb22a" stroke-width="0.8" />
<line x1="307.2" y1="145.67" x2="307.2" y2="148.73" stroke="#1cb22a" stroke-width="0.8" />
<line x1="305.9" y1="145.67" x2="308.5" y2="145.67" stroke="#1cb22a" stroke-width="0.8" />
<line x1="305.9" y1="148.73" x2="308.5" y2="148.73" stroke="#1cb22a" stroke-width="0.8" />
<line x1="314.3" y1="141.09" x2="314.3" y2="145.67" stroke="#1cb22a" stroke-width="0.8" />
<line x1="313" y1="141.09" x2="315.6" y2="141.09" stroke="#1cb22a" stroke-width="0.8" />
<line x1="313" y1="145.67" x2="315.6" y2="145.67" stroke="#1cb22a" stroke-width="0.8" />
<circle cx="264.6" cy="155.22" r="1" fill="#1cb22a" stroke="#1cb22a" stroke-width="0.7"/>
<circle cx="278.8" cy="154.84" r="1" fill="#1cb22a" stroke="#1cb22a" stroke-width="0.7"/>
<circle cx="293" cy="153.31" r="1" fill="#1cb22a" stroke="#1cb22a" stroke-width="0.7"/>
<circle cx="307.2" cy="147.2" r="1" fill="#1cb22a" stroke="#1cb22a" stroke-width="0.7"/>
<circle cx="314.3" cy="143.38" r="1" fill="#1cb22a" stroke="#1cb22a" stroke-width="0.7"/>
<polyline points="264.6,154.07 278.8,148.73 293,139.56 307.2,127.34 314.3,118.18" fill="none" stroke="#cc2332" stroke-width="0.9" stroke-linejoin="round" />
<line x1="264.6" y1="153.69" x2="264.6" y2="154.45" stroke="#cc2332" stroke-width="0.8" />
<line x1="263.3" y1="153.69" x2="265.9" y2="153.69" stroke="#cc2332" stroke-width="0.8" />
<line x1="263.3" y1="154.45" x2="265.9" y2="154.45" stroke="#cc2332" stroke-width="0.8" />
<line x1="278.8" y1="147.58" x2="278.8" y2="149.87" stroke="#cc2332" stroke-width="0.8" />
<line x1="277.5" y1="147.58" x2="280.1" y2="147.58" stroke="#cc2332" stroke-width="0.8" />
<line x1="277.5" y1="149.87" x2="280.1" y2="149.87" stroke="#cc2332" stroke-width="0.8" />
<line x1="293" y1="136.51" x2="293" y2="142.62" stroke="#cc2332" stroke-width="0.8" />
<line x1="291.7" y1="136.51" x2="294.3" y2="136.51" stroke="#cc2332" stroke-width="0.8" />
<line x1="291.7" y1="142.62" x2="294.3" y2="142.62" stroke="#cc2332" stroke-width="0.8" />
<line x1="307.2" y1="121.23" x2="307.2" y2="133.45" stroke="#cc2332" stroke-width="0.8" />
<line x1="305.9" y1="121.23" x2="308.5" y2="121.23" stroke="#cc2332" stroke-width="0.8" />
<line x1="305.9" y1="133.45" x2="308.5" y2="133.45" stroke="#cc2332" stroke-width="0.8" />
<line x1="314.3" y1="109.01" x2="314.3" y2="127.34" stroke="#cc2332" stroke-width="0.8" />
<line x1="313" y1="109.01" x2="315.6" y2="109.01" stroke="#cc2332" stroke-width="0.8" />
<line x1="313" y1="127.34" x2="315.6" y2="127.34" stroke="#cc2332" stroke-width="0.8" />
<circle cx="264.6" cy="154.07" r="1" fill="#cc2332" stroke="#cc2332" stroke-width="0.7"/>
<circle cx="278.8" cy="148.73" r="1" fill="#cc2332" stroke="#cc2332" stroke-width="0.7"/>
<circle cx="293" cy="139.56" r="1" fill="#cc2332" stroke="#cc2332" stroke-width="0.7"/>
<circle cx="307.2" cy="127.34" r="1" fill="#cc2332" stroke="#cc2332" stroke-width="0.7"/>
<circle cx="314.3" cy="118.18" r="1" fill="#cc2332" stroke="#cc2332" stroke-width="0.7"/>
<line x1="341.2" y1="95.1" x2="341.2" y2="155.9" stroke="#000" stroke-width="0.9" />
<line x1="339.6" y1="155.9" x2="341.2" y2="155.9" stroke="#000" stroke-width="0.81" />
<text x="339.1" y="157.48" font-size="4.4" font-weight="bold" text-anchor="end" fill="#000"  stroke="#000" stroke-width="0.12">0</text>
<line x1="339.6" y1="135.63" x2="341.2" y2="135.63" stroke="#000" stroke-width="0.81" />
<text x="339.1" y="137.22" font-size="4.4" font-weight="bold" text-anchor="end" fill="#000"  stroke="#000" stroke-width="0.12">2,000</text>
<line x1="339.6" y1="115.37" x2="341.2" y2="115.37" stroke="#000" stroke-width="0.81" />
<text x="339.1" y="116.95" font-size="4.4" font-weight="bold" text-anchor="end" fill="#000"  stroke="#000" stroke-width="0.12">4,000</text>
<line x1="339.6" y1="95.1" x2="341.2" y2="95.1" stroke="#000" stroke-width="0.81" />
<text x="339.1" y="96.68" font-size="4.4" font-weight="bold" text-anchor="end" fill="#000"  stroke="#000" stroke-width="0.12">6,000</text>
<line x1="341.2" y1="155.9" x2="412.6" y2="155.9" stroke="#000" stroke-width="1.1" />
<line x1="341.1" y1="155.9" x2="341.1" y2="157.5" stroke="#000" stroke-width="0.99" />
<text x="341.1" y="162.58" font-size="4.4" font-weight="bold" text-anchor="middle" fill="#000"  stroke="#000" stroke-width="0.12">−3</text>
<line x1="355.4" y1="155.9" x2="355.4" y2="157.5" stroke="#000" stroke-width="0.99" />
<text x="355.4" y="162.58" font-size="4.4" font-weight="bold" text-anchor="middle" fill="#000"  stroke="#000" stroke-width="0.12">−2</text>
<line x1="369.7" y1="155.9" x2="369.7" y2="157.5" stroke="#000" stroke-width="0.99" />
<text x="369.7" y="162.58" font-size="4.4" font-weight="bold" text-anchor="middle" fill="#000"  stroke="#000" stroke-width="0.12">−1</text>
<line x1="384" y1="155.9" x2="384" y2="157.5" stroke="#000" stroke-width="0.99" />
<text x="384" y="162.58" font-size="4.4" font-weight="bold" text-anchor="middle" fill="#000"  stroke="#000" stroke-width="0.12">0</text>
<line x1="398.3" y1="155.9" x2="398.3" y2="157.5" stroke="#000" stroke-width="0.99" />
<text x="398.3" y="162.58" font-size="4.4" font-weight="bold" text-anchor="middle" fill="#000"  stroke="#000" stroke-width="0.12">1</text>
<line x1="412.6" y1="155.9" x2="412.6" y2="157.5" stroke="#000" stroke-width="0.99" />
<text x="412.6" y="162.58" font-size="4.4" font-weight="bold" text-anchor="middle" fill="#000"  stroke="#000" stroke-width="0.12">2</text>
<text x="376.3" y="100.1" font-size="6.4" font-weight="bold" text-anchor="middle" fill="#000"  stroke="#000" stroke-width="0.12">MCP-1</text>
<polyline points="355.4,140.7 369.7,148.81 384,150.33 398.3,142.73 405.45,135.63" fill="none" stroke="#111" stroke-width="0.9" stroke-linejoin="round" />
<line x1="355.4" y1="136.65" x2="355.4" y2="144.75" stroke="#111" stroke-width="0.8" />
<line x1="354.1" y1="136.65" x2="356.7" y2="136.65" stroke="#111" stroke-width="0.8" />
<line x1="354.1" y1="144.75" x2="356.7" y2="144.75" stroke="#111" stroke-width="0.8" />
<line x1="369.7" y1="146.78" x2="369.7" y2="150.83" stroke="#111" stroke-width="0.8" />
<line x1="368.4" y1="146.78" x2="371" y2="146.78" stroke="#111" stroke-width="0.8" />
<line x1="368.4" y1="150.83" x2="371" y2="150.83" stroke="#111" stroke-width="0.8" />
<line x1="384" y1="149.31" x2="384" y2="151.34" stroke="#111" stroke-width="0.8" />
<line x1="382.7" y1="149.31" x2="385.3" y2="149.31" stroke="#111" stroke-width="0.8" />
<line x1="382.7" y1="151.34" x2="385.3" y2="151.34" stroke="#111" stroke-width="0.8" />
<line x1="398.3" y1="139.69" x2="398.3" y2="145.77" stroke="#111" stroke-width="0.8" />
<line x1="397" y1="139.69" x2="399.6" y2="139.69" stroke="#111" stroke-width="0.8" />
<line x1="397" y1="145.77" x2="399.6" y2="145.77" stroke="#111" stroke-width="0.8" />
<line x1="405.45" y1="131.58" x2="405.45" y2="139.69" stroke="#111" stroke-width="0.8" />
<line x1="404.15" y1="131.58" x2="406.75" y2="131.58" stroke="#111" stroke-width="0.8" />
<line x1="404.15" y1="139.69" x2="406.75" y2="139.69" stroke="#111" stroke-width="0.8" />
<circle cx="355.4" cy="140.7" r="1" fill="#111" stroke="#111" stroke-width="0.7"/>
<circle cx="369.7" cy="148.81" r="1" fill="#111" stroke="#111" stroke-width="0.7"/>
<circle cx="384" cy="150.33" r="1" fill="#111" stroke="#111" stroke-width="0.7"/>
<circle cx="398.3" cy="142.73" r="1" fill="#111" stroke="#111" stroke-width="0.7"/>
<circle cx="405.45" cy="135.63" r="1" fill="#111" stroke="#111" stroke-width="0.7"/>
<polyline points="355.4,141.71 369.7,147.79 384,149.82 398.3,147.79 405.45,140.7" fill="none" stroke="#111" stroke-width="0.9" stroke-linejoin="round" />
<line x1="355.4" y1="138.67" x2="355.4" y2="144.75" stroke="#111" stroke-width="0.8" />
<line x1="354.1" y1="138.67" x2="356.7" y2="138.67" stroke="#111" stroke-width="0.8" />
<line x1="354.1" y1="144.75" x2="356.7" y2="144.75" stroke="#111" stroke-width="0.8" />
<line x1="369.7" y1="145.77" x2="369.7" y2="149.82" stroke="#111" stroke-width="0.8" />
<line x1="368.4" y1="145.77" x2="371" y2="145.77" stroke="#111" stroke-width="0.8" />
<line x1="368.4" y1="149.82" x2="371" y2="149.82" stroke="#111" stroke-width="0.8" />
<line x1="384" y1="148.81" x2="384" y2="150.83" stroke="#111" stroke-width="0.8" />
<line x1="382.7" y1="148.81" x2="385.3" y2="148.81" stroke="#111" stroke-width="0.8" />
<line x1="382.7" y1="150.83" x2="385.3" y2="150.83" stroke="#111" stroke-width="0.8" />
<line x1="398.3" y1="145.77" x2="398.3" y2="149.82" stroke="#111" stroke-width="0.8" />
<line x1="397" y1="145.77" x2="399.6" y2="145.77" stroke="#111" stroke-width="0.8" />
<line x1="397" y1="149.82" x2="399.6" y2="149.82" stroke="#111" stroke-width="0.8" />
<line x1="405.45" y1="136.65" x2="405.45" y2="144.75" stroke="#111" stroke-width="0.8" />
<line x1="404.15" y1="136.65" x2="406.75" y2="136.65" stroke="#111" stroke-width="0.8" />
<line x1="404.15" y1="144.75" x2="406.75" y2="144.75" stroke="#111" stroke-width="0.8" />
<circle cx="355.4" cy="141.71" r="1" fill="#111" stroke="#111" stroke-width="0.7"/>
<circle cx="369.7" cy="147.79" r="1" fill="#111" stroke="#111" stroke-width="0.7"/>
<circle cx="384" cy="149.82" r="1" fill="#111" stroke="#111" stroke-width="0.7"/>
<circle cx="398.3" cy="147.79" r="1" fill="#111" stroke="#111" stroke-width="0.7"/>
<circle cx="405.45" cy="140.7" r="1" fill="#111" stroke="#111" stroke-width="0.7"/>
<polyline points="355.4,141.71 369.7,127.53 384,113.34 398.3,112.33 405.45,114.35" fill="none" stroke="#1cb22a" stroke-width="0.9" stroke-linejoin="round" />
<line x1="355.4" y1="135.63" x2="355.4" y2="147.79" stroke="#1cb22a" stroke-width="0.8" stroke-dasharray="1.5,0.7"/>
<line x1="354.1" y1="135.63" x2="356.7" y2="135.63" stroke="#1cb22a" stroke-width="0.8" />
<line x1="354.1" y1="147.79" x2="356.7" y2="147.79" stroke="#1cb22a" stroke-width="0.8" />
<line x1="369.7" y1="121.45" x2="369.7" y2="133.61" stroke="#1cb22a" stroke-width="0.8" stroke-dasharray="1.5,0.7"/>
<line x1="368.4" y1="121.45" x2="371" y2="121.45" stroke="#1cb22a" stroke-width="0.8" />
<line x1="368.4" y1="133.61" x2="371" y2="133.61" stroke="#1cb22a" stroke-width="0.8" />
<line x1="384" y1="107.26" x2="384" y2="119.42" stroke="#1cb22a" stroke-width="0.8" stroke-dasharray="1.5,0.7"/>
<line x1="382.7" y1="107.26" x2="385.3" y2="107.26" stroke="#1cb22a" stroke-width="0.8" />
<line x1="382.7" y1="119.42" x2="385.3" y2="119.42" stroke="#1cb22a" stroke-width="0.8" />
<line x1="398.3" y1="106.25" x2="398.3" y2="118.41" stroke="#1cb22a" stroke-width="0.8" stroke-dasharray="1.5,0.7"/>
<line x1="397" y1="106.25" x2="399.6" y2="106.25" stroke="#1cb22a" stroke-width="0.8" />
<line x1="397" y1="118.41" x2="399.6" y2="118.41" stroke="#1cb22a" stroke-width="0.8" />
<line x1="405.45" y1="108.27" x2="405.45" y2="120.43" stroke="#1cb22a" stroke-width="0.8" stroke-dasharray="1.5,0.7"/>
<line x1="404.15" y1="108.27" x2="406.75" y2="108.27" stroke="#1cb22a" stroke-width="0.8" />
<line x1="404.15" y1="120.43" x2="406.75" y2="120.43" stroke="#1cb22a" stroke-width="0.8" />
<circle cx="355.4" cy="141.71" r="1" fill="#1cb22a" stroke="#1cb22a" stroke-width="0.7"/>
<circle cx="369.7" cy="127.53" r="1" fill="#1cb22a" stroke="#1cb22a" stroke-width="0.7"/>
<circle cx="384" cy="113.34" r="1" fill="#1cb22a" stroke="#1cb22a" stroke-width="0.7"/>
<circle cx="398.3" cy="112.33" r="1" fill="#1cb22a" stroke="#1cb22a" stroke-width="0.7"/>
<circle cx="405.45" cy="114.35" r="1" fill="#1cb22a" stroke="#1cb22a" stroke-width="0.7"/>
<polyline points="355.4,122.46 369.7,109.29 384,109.29 398.3,109.29 405.45,109.29" fill="none" stroke="#cc2332" stroke-width="0.9" stroke-linejoin="round" />
<line x1="355.4" y1="117.39" x2="355.4" y2="127.53" stroke="#cc2332" stroke-width="0.8" />
<line x1="354.1" y1="117.39" x2="356.7" y2="117.39" stroke="#cc2332" stroke-width="0.8" />
<line x1="354.1" y1="127.53" x2="356.7" y2="127.53" stroke="#cc2332" stroke-width="0.8" />
<line x1="369.7" y1="103.21" x2="369.7" y2="115.37" stroke="#cc2332" stroke-width="0.8" />
<line x1="368.4" y1="103.21" x2="371" y2="103.21" stroke="#cc2332" stroke-width="0.8" />
<line x1="368.4" y1="115.37" x2="371" y2="115.37" stroke="#cc2332" stroke-width="0.8" />
<line x1="384" y1="104.22" x2="384" y2="114.35" stroke="#cc2332" stroke-width="0.8" />
<line x1="382.7" y1="104.22" x2="385.3" y2="104.22" stroke="#cc2332" stroke-width="0.8" />
<line x1="382.7" y1="114.35" x2="385.3" y2="114.35" stroke="#cc2332" stroke-width="0.8" />
<line x1="398.3" y1="104.22" x2="398.3" y2="114.35" stroke="#cc2332" stroke-width="0.8" />
<line x1="397" y1="104.22" x2="399.6" y2="104.22" stroke="#cc2332" stroke-width="0.8" />
<line x1="397" y1="114.35" x2="399.6" y2="114.35" stroke="#cc2332" stroke-width="0.8" />
<line x1="405.45" y1="103.21" x2="405.45" y2="115.37" stroke="#cc2332" stroke-width="0.8" />
<line x1="404.15" y1="103.21" x2="406.75" y2="103.21" stroke="#cc2332" stroke-width="0.8" />
<line x1="404.15" y1="115.37" x2="406.75" y2="115.37" stroke="#cc2332" stroke-width="0.8" />
<circle cx="355.4" cy="122.46" r="1" fill="#cc2332" stroke="#cc2332" stroke-width="0.7"/>
<circle cx="369.7" cy="109.29" r="1" fill="#cc2332" stroke="#cc2332" stroke-width="0.7"/>
<circle cx="384" cy="109.29" r="1" fill="#cc2332" stroke="#cc2332" stroke-width="0.7"/>
<circle cx="398.3" cy="109.29" r="1" fill="#cc2332" stroke="#cc2332" stroke-width="0.7"/>
<circle cx="405.45" cy="109.29" r="1" fill="#cc2332" stroke="#cc2332" stroke-width="0.7"/>
<text x="286.7" y="171.34" font-size="5.1" font-weight="bold" text-anchor="middle" fill="#000"  stroke="#000" stroke-width="0.12">log[Ab], µg/mL</text>
<line x1="142.3" y1="178.6" x2="150.6" y2="178.6" stroke="#cc2332" stroke-width="1" />
<circle cx="146.45" cy="178.6" r="1.2" fill="#cc2332" stroke="#cc2332" stroke-width="0.7"/>
<text x="156.3" y="181.3" font-size="7.5" font-weight="bold" text-anchor="start" fill="#b81d30" letter-spacing="-0.23" stroke="#b81d30" stroke-width="0.12">NVS32b2_Fc_afuc</text>
<line x1="226.7" y1="178.6" x2="235.4" y2="178.6" stroke="#1cb22a" stroke-width="1" />
<circle cx="231.05" cy="178.6" r="1.2" fill="#1cb22a" stroke="#1cb22a" stroke-width="0.7"/>
<text x="241.2" y="181.3" font-size="7.5" font-weight="bold" text-anchor="start" fill="#2a8a30" letter-spacing="-0.28" stroke="#2a8a30" stroke-width="0.12">NVS32b2_Fc_WT</text>
<line x1="308.7" y1="178.6" x2="316.9" y2="178.6" stroke="#111" stroke-width="1" />
<circle cx="312.8" cy="178.6" r="1.2" fill="#111" stroke="#111" stroke-width="0.7"/>
<text x="322.7" y="181.3" font-size="7.5" font-weight="bold" text-anchor="start" fill="#111" letter-spacing="-0.12" stroke="#111" stroke-width="0.12">IgG control (afuc)</text>
<line x1="391.5" y1="178.6" x2="400.8" y2="178.6" stroke="#111" stroke-width="1" />
<circle cx="396.15" cy="178.6" r="1.2" fill="#111" stroke="#111" stroke-width="0.7"/>
<text x="406" y="181.3" font-size="7.5" font-weight="bold" text-anchor="start" fill="#111" letter-spacing="-0.125" stroke="#111" stroke-width="0.12">IgG control (WT)</text>
<text x="426.3" y="14.21" font-size="12.8" font-weight="bold" text-anchor="middle" fill="#000" stroke="#000" stroke-width="0.45">C</text>
<text transform="translate(436.89,44) rotate(-90)" x="0" y="0" font-size="5.25" font-weight="bold" text-anchor="middle" fill="#000"  stroke="#000" stroke-width="0.12">Percent CD107a+ NK cells</text>
<line x1="444.7" y1="11.82" x2="444.7" y2="76.3" stroke="#000" stroke-width="1.1" />
<line x1="443.1" y1="76.3" x2="444.7" y2="76.3" stroke="#000" stroke-width="0.99" />
<text x="442.5" y="78.03" font-size="4.8" font-weight="bold" text-anchor="end" fill="#000"  stroke="#000" stroke-width="0.12">0</text>
<line x1="443.1" y1="60.18" x2="444.7" y2="60.18" stroke="#000" stroke-width="0.99" />
<text x="442.5" y="61.91" font-size="4.8" font-weight="bold" text-anchor="end" fill="#000"  stroke="#000" stroke-width="0.12">2</text>
<line x1="443.1" y1="44.06" x2="444.7" y2="44.06" stroke="#000" stroke-width="0.99" />
<text x="442.5" y="45.79" font-size="4.8" font-weight="bold" text-anchor="end" fill="#000"  stroke="#000" stroke-width="0.12">4</text>
<line x1="443.1" y1="27.94" x2="444.7" y2="27.94" stroke="#000" stroke-width="0.99" />
<text x="442.5" y="29.67" font-size="4.8" font-weight="bold" text-anchor="end" fill="#000"  stroke="#000" stroke-width="0.12">6</text>
<line x1="443.1" y1="11.82" x2="444.7" y2="11.82" stroke="#000" stroke-width="0.99" />
<text x="442.5" y="13.55" font-size="4.8" font-weight="bold" text-anchor="end" fill="#000"  stroke="#000" stroke-width="0.12">8</text>
<line x1="444.7" y1="76.3" x2="520" y2="76.3" stroke="#000" stroke-width="1.2" />
<line x1="445.08" y1="76.3" x2="445.08" y2="77.9" stroke="#000" stroke-width="1.08" />
<text x="445.08" y="84.13" font-size="4.8" font-weight="bold" text-anchor="middle" fill="#000"  stroke="#000" stroke-width="0.12">−4</text>
<line x1="455.51" y1="76.3" x2="455.51" y2="77.9" stroke="#000" stroke-width="1.08" />
<text x="455.51" y="84.13" font-size="4.8" font-weight="bold" text-anchor="middle" fill="#000"  stroke="#000" stroke-width="0.12">−3</text>
<line x1="465.94" y1="76.3" x2="465.94" y2="77.9" stroke="#000" stroke-width="1.08" />
<text x="465.94" y="84.13" font-size="4.8" font-weight="bold" text-anchor="middle" fill="#000"  stroke="#000" stroke-width="0.12">−2</text>
<line x1="476.37" y1="76.3" x2="476.37" y2="77.9" stroke="#000" stroke-width="1.08" />
<text x="476.37" y="84.13" font-size="4.8" font-weight="bold" text-anchor="middle" fill="#000"  stroke="#000" stroke-width="0.12">−1</text>
<line x1="486.8" y1="76.3" x2="486.8" y2="77.9" stroke="#000" stroke-width="1.08" />
<text x="486.8" y="84.13" font-size="4.8" font-weight="bold" text-anchor="middle" fill="#000"  stroke="#000" stroke-width="0.12">0</text>
<line x1="497.23" y1="76.3" x2="497.23" y2="77.9" stroke="#000" stroke-width="1.08" />
<text x="497.23" y="84.13" font-size="4.8" font-weight="bold" text-anchor="middle" fill="#000"  stroke="#000" stroke-width="0.12">1</text>
<line x1="507.66" y1="76.3" x2="507.66" y2="77.9" stroke="#000" stroke-width="1.08" />
<text x="507.66" y="84.13" font-size="4.8" font-weight="bold" text-anchor="middle" fill="#000"  stroke="#000" stroke-width="0.12">2</text>
<line x1="518.09" y1="76.3" x2="518.09" y2="77.9" stroke="#000" stroke-width="1.08" />
<text x="518.09" y="84.13" font-size="4.8" font-weight="bold" text-anchor="middle" fill="#000"  stroke="#000" stroke-width="0.12">3</text>
<text x="482.5" y="92.73" font-size="5.35" font-weight="bold" text-anchor="middle" fill="#000"  stroke="#000" stroke-width="0.12">log[Ab], µg/mL</text>
<text x="481.3" y="13.46" font-size="6" font-weight="bold" text-anchor="middle" fill="#000"  stroke="#000" stroke-width="0.12">CD107a on NK cells</text>
<polyline points="455.51,72.67 465.94,72.67 476.37,71.46 486.8,70.25 497.23,69.45 502.44,69.45 507.66,69.05 510.79,66.63 516,65.82" fill="none" stroke="#111" stroke-width="1" stroke-linejoin="round" />
<line x1="455.51" y1="71.87" x2="455.51" y2="73.48" stroke="#111" stroke-width="0.9" />
<line x1="454.11" y1="71.87" x2="456.91" y2="71.87" stroke="#111" stroke-width="0.9" />
<line x1="454.11" y1="73.48" x2="456.91" y2="73.48" stroke="#111" stroke-width="0.9" />
<line x1="465.94" y1="71.87" x2="465.94" y2="73.48" stroke="#111" stroke-width="0.9" />
<line x1="464.54" y1="71.87" x2="467.34" y2="71.87" stroke="#111" stroke-width="0.9" />
<line x1="464.54" y1="73.48" x2="467.34" y2="73.48" stroke="#111" stroke-width="0.9" />
<line x1="476.37" y1="70.66" x2="476.37" y2="72.27" stroke="#111" stroke-width="0.9" />
<line x1="474.97" y1="70.66" x2="477.77" y2="70.66" stroke="#111" stroke-width="0.9" />
<line x1="474.97" y1="72.27" x2="477.77" y2="72.27" stroke="#111" stroke-width="0.9" />
<line x1="486.8" y1="68.64" x2="486.8" y2="71.87" stroke="#111" stroke-width="0.9" />
<line x1="485.4" y1="68.64" x2="488.2" y2="68.64" stroke="#111" stroke-width="0.9" />
<line x1="485.4" y1="71.87" x2="488.2" y2="71.87" stroke="#111" stroke-width="0.9" />
<line x1="497.23" y1="67.03" x2="497.23" y2="71.87" stroke="#111" stroke-width="0.9" />
<line x1="495.83" y1="67.03" x2="498.63" y2="67.03" stroke="#111" stroke-width="0.9" />
<line x1="495.83" y1="71.87" x2="498.63" y2="71.87" stroke="#111" stroke-width="0.9" />
<line x1="502.44" y1="67.03" x2="502.44" y2="71.87" stroke="#111" stroke-width="0.9" />
<line x1="501.05" y1="67.03" x2="503.84" y2="67.03" stroke="#111" stroke-width="0.9" />
<line x1="501.05" y1="71.87" x2="503.84" y2="71.87" stroke="#111" stroke-width="0.9" />
<line x1="507.66" y1="66.63" x2="507.66" y2="71.46" stroke="#111" stroke-width="0.9" />
<line x1="506.26" y1="66.63" x2="509.06" y2="66.63" stroke="#111" stroke-width="0.9" />
<line x1="506.26" y1="71.46" x2="509.06" y2="71.46" stroke="#111" stroke-width="0.9" />
<line x1="510.79" y1="63.4" x2="510.79" y2="69.85" stroke="#111" stroke-width="0.9" />
<line x1="509.39" y1="63.4" x2="512.19" y2="63.4" stroke="#111" stroke-width="0.9" />
<line x1="509.39" y1="69.85" x2="512.19" y2="69.85" stroke="#111" stroke-width="0.9" />
<line x1="516" y1="63.4" x2="516" y2="68.24" stroke="#111" stroke-width="0.9" />
<line x1="514.6" y1="63.4" x2="517.4" y2="63.4" stroke="#111" stroke-width="0.9" />
<line x1="514.6" y1="68.24" x2="517.4" y2="68.24" stroke="#111" stroke-width="0.9" />
<circle cx="455.51" cy="72.67" r="1" fill="#111" stroke="#111" stroke-width="0.7"/>
<circle cx="465.94" cy="72.67" r="1" fill="#111" stroke="#111" stroke-width="0.7"/>
<circle cx="476.37" cy="71.46" r="1" fill="#111" stroke="#111" stroke-width="0.7"/>
<circle cx="486.8" cy="70.25" r="1" fill="#111" stroke="#111" stroke-width="0.7"/>
<circle cx="497.23" cy="69.45" r="1" fill="#111" stroke="#111" stroke-width="0.7"/>
<circle cx="502.44" cy="69.45" r="1" fill="#111" stroke="#111" stroke-width="0.7"/>
<circle cx="507.66" cy="69.05" r="1" fill="#111" stroke="#111" stroke-width="0.7"/>
<circle cx="510.79" cy="66.63" r="1" fill="#111" stroke="#111" stroke-width="0.7"/>
<circle cx="516" cy="65.82" r="1" fill="#111" stroke="#111" stroke-width="0.7"/>
<polyline points="455.51,72.27 465.94,72.27 476.37,70.66 486.8,69.05 497.23,67.43 502.44,68.24 507.66,64.21 510.79,65.02 516,65.82" fill="none" stroke="#111" stroke-width="1" stroke-linejoin="round" />
<line x1="455.51" y1="71.46" x2="455.51" y2="73.08" stroke="#111" stroke-width="0.9" />
<line x1="454.11" y1="71.46" x2="456.91" y2="71.46" stroke="#111" stroke-width="0.9" />
<line x1="454.11" y1="73.08" x2="456.91" y2="73.08" stroke="#111" stroke-width="0.9" />
<line x1="465.94" y1="71.46" x2="465.94" y2="73.08" stroke="#111" stroke-width="0.9" />
<line x1="464.54" y1="71.46" x2="467.34" y2="71.46" stroke="#111" stroke-width="0.9" />
<line x1="464.54" y1="73.08" x2="467.34" y2="73.08" stroke="#111" stroke-width="0.9" />
<line x1="476.37" y1="69.05" x2="476.37" y2="72.27" stroke="#111" stroke-width="0.9" />
<line x1="474.97" y1="69.05" x2="477.77" y2="69.05" stroke="#111" stroke-width="0.9" />
<line x1="474.97" y1="72.27" x2="477.77" y2="72.27" stroke="#111" stroke-width="0.9" />
<line x1="486.8" y1="66.63" x2="486.8" y2="71.46" stroke="#111" stroke-width="0.9" />
<line x1="485.4" y1="66.63" x2="488.2" y2="66.63" stroke="#111" stroke-width="0.9" />
<line x1="485.4" y1="71.46" x2="488.2" y2="71.46" stroke="#111" stroke-width="0.9" />
<line x1="497.23" y1="64.21" x2="497.23" y2="70.66" stroke="#111" stroke-width="0.9" />
<line x1="495.83" y1="64.21" x2="498.63" y2="64.21" stroke="#111" stroke-width="0.9" />
<line x1="495.83" y1="70.66" x2="498.63" y2="70.66" stroke="#111" stroke-width="0.9" />
<line x1="502.44" y1="65.02" x2="502.44" y2="71.46" stroke="#111" stroke-width="0.9" />
<line x1="501.05" y1="65.02" x2="503.84" y2="65.02" stroke="#111" stroke-width="0.9" />
<line x1="501.05" y1="71.46" x2="503.84" y2="71.46" stroke="#111" stroke-width="0.9" />
<line x1="507.66" y1="59.37" x2="507.66" y2="69.05" stroke="#111" stroke-width="0.9" />
<line x1="506.26" y1="59.37" x2="509.06" y2="59.37" stroke="#111" stroke-width="0.9" />
<line x1="506.26" y1="69.05" x2="509.06" y2="69.05" stroke="#111" stroke-width="0.9" />
<line x1="510.79" y1="60.18" x2="510.79" y2="69.85" stroke="#111" stroke-width="0.9" />
<line x1="509.39" y1="60.18" x2="512.19" y2="60.18" stroke="#111" stroke-width="0.9" />
<line x1="509.39" y1="69.85" x2="512.19" y2="69.85" stroke="#111" stroke-width="0.9" />
<line x1="516" y1="62.6" x2="516" y2="69.05" stroke="#111" stroke-width="0.9" />
<line x1="514.6" y1="62.6" x2="517.4" y2="62.6" stroke="#111" stroke-width="0.9" />
<line x1="514.6" y1="69.05" x2="517.4" y2="69.05" stroke="#111" stroke-width="0.9" />
<circle cx="455.51" cy="72.27" r="1" fill="#111" stroke="#111" stroke-width="0.7"/>
<circle cx="465.94" cy="72.27" r="1" fill="#111" stroke="#111" stroke-width="0.7"/>
<circle cx="476.37" cy="70.66" r="1" fill="#111" stroke="#111" stroke-width="0.7"/>
<circle cx="486.8" cy="69.05" r="1" fill="#111" stroke="#111" stroke-width="0.7"/>
<circle cx="497.23" cy="67.43" r="1" fill="#111" stroke="#111" stroke-width="0.7"/>
<circle cx="502.44" cy="68.24" r="1" fill="#111" stroke="#111" stroke-width="0.7"/>
<circle cx="507.66" cy="64.21" r="1" fill="#111" stroke="#111" stroke-width="0.7"/>
<circle cx="510.79" cy="65.02" r="1" fill="#111" stroke="#111" stroke-width="0.7"/>
<circle cx="516" cy="65.82" r="1" fill="#111" stroke="#111" stroke-width="0.7"/>
<polyline points="455.51,72.27 465.94,71.46 476.37,67.43 486.8,59.37 497.23,52.12 502.44,50.51 507.66,49.7 510.79,49.3" fill="none" stroke="#1cb22a" stroke-width="1" stroke-linejoin="round" />
<line x1="455.51" y1="71.06" x2="455.51" y2="73.48" stroke="#1cb22a" stroke-width="0.9" />
<line x1="454.11" y1="71.06" x2="456.91" y2="71.06" stroke="#1cb22a" stroke-width="0.9" />
<line x1="454.11" y1="73.48" x2="456.91" y2="73.48" stroke="#1cb22a" stroke-width="0.9" />
<line x1="465.94" y1="69.85" x2="465.94" y2="73.08" stroke="#1cb22a" stroke-width="0.9" />
<line x1="464.54" y1="69.85" x2="467.34" y2="69.85" stroke="#1cb22a" stroke-width="0.9" />
<line x1="464.54" y1="73.08" x2="467.34" y2="73.08" stroke="#1cb22a" stroke-width="0.9" />
<line x1="476.37" y1="65.02" x2="476.37" y2="69.85" stroke="#1cb22a" stroke-width="0.9" />
<line x1="474.97" y1="65.02" x2="477.77" y2="65.02" stroke="#1cb22a" stroke-width="0.9" />
<line x1="474.97" y1="69.85" x2="477.77" y2="69.85" stroke="#1cb22a" stroke-width="0.9" />
<line x1="486.8" y1="56.96" x2="486.8" y2="61.79" stroke="#1cb22a" stroke-width="0.9" />
<line x1="485.4" y1="56.96" x2="488.2" y2="56.96" stroke="#1cb22a" stroke-width="0.9" />
<line x1="485.4" y1="61.79" x2="488.2" y2="61.79" stroke="#1cb22a" stroke-width="0.9" />
<line x1="497.23" y1="48.9" x2="497.23" y2="55.34" stroke="#1cb22a" stroke-width="0.9" />
<line x1="495.83" y1="48.9" x2="498.63" y2="48.9" stroke="#1cb22a" stroke-width="0.9" />
<line x1="495.83" y1="55.34" x2="498.63" y2="55.34" stroke="#1cb22a" stroke-width="0.9" />
<line x1="502.44" y1="47.28" x2="502.44" y2="53.73" stroke="#1cb22a" stroke-width="0.9" />
<line x1="501.05" y1="47.28" x2="503.84" y2="47.28" stroke="#1cb22a" stroke-width="0.9" />
<line x1="501.05" y1="53.73" x2="503.84" y2="53.73" stroke="#1cb22a" stroke-width="0.9" />
<line x1="507.66" y1="45.67" x2="507.66" y2="53.73" stroke="#1cb22a" stroke-width="0.9" />
<line x1="506.26" y1="45.67" x2="509.06" y2="45.67" stroke="#1cb22a" stroke-width="0.9" />
<line x1="506.26" y1="53.73" x2="509.06" y2="53.73" stroke="#1cb22a" stroke-width="0.9" />
<line x1="510.79" y1="45.27" x2="510.79" y2="53.33" stroke="#1cb22a" stroke-width="0.9" />
<line x1="509.39" y1="45.27" x2="512.19" y2="45.27" stroke="#1cb22a" stroke-width="0.9" />
<line x1="509.39" y1="53.33" x2="512.19" y2="53.33" stroke="#1cb22a" stroke-width="0.9" />
<circle cx="455.51" cy="72.27" r="1" fill="#1cb22a" stroke="#1cb22a" stroke-width="0.7"/>
<circle cx="465.94" cy="71.46" r="1" fill="#1cb22a" stroke="#1cb22a" stroke-width="0.7"/>
<circle cx="476.37" cy="67.43" r="1" fill="#1cb22a" stroke="#1cb22a" stroke-width="0.7"/>
<circle cx="486.8" cy="59.37" r="1" fill="#1cb22a" stroke="#1cb22a" stroke-width="0.7"/>
<circle cx="497.23" cy="52.12" r="1" fill="#1cb22a" stroke="#1cb22a" stroke-width="0.7"/>
<circle cx="502.44" cy="50.51" r="1" fill="#1cb22a" stroke="#1cb22a" stroke-width="0.7"/>
<circle cx="507.66" cy="49.7" r="1" fill="#1cb22a" stroke="#1cb22a" stroke-width="0.7"/>
<circle cx="510.79" cy="49.3" r="1" fill="#1cb22a" stroke="#1cb22a" stroke-width="0.7"/>
<polyline points="455.51,72.27 465.94,66.63 476.37,53.73 486.8,32.78 497.23,31.16 502.44,33.58 507.66,38.42 510.79,40.03 516,48.09" fill="none" stroke="#cc2332" stroke-width="1" stroke-linejoin="round" />
<line x1="455.51" y1="70.66" x2="455.51" y2="73.88" stroke="#cc2332" stroke-width="0.9" />
<line x1="454.11" y1="70.66" x2="456.91" y2="70.66" stroke="#cc2332" stroke-width="0.9" />
<line x1="454.11" y1="73.88" x2="456.91" y2="73.88" stroke="#cc2332" stroke-width="0.9" />
<line x1="465.94" y1="65.02" x2="465.94" y2="68.24" stroke="#cc2332" stroke-width="0.9" />
<line x1="464.54" y1="65.02" x2="467.34" y2="65.02" stroke="#cc2332" stroke-width="0.9" />
<line x1="464.54" y1="68.24" x2="467.34" y2="68.24" stroke="#cc2332" stroke-width="0.9" />
<line x1="476.37" y1="51.31" x2="476.37" y2="56.15" stroke="#cc2332" stroke-width="0.9" />
<line x1="474.97" y1="51.31" x2="477.77" y2="51.31" stroke="#cc2332" stroke-width="0.9" />
<line x1="474.97" y1="56.15" x2="477.77" y2="56.15" stroke="#cc2332" stroke-width="0.9" />
<line x1="486.8" y1="29.55" x2="486.8" y2="36" stroke="#cc2332" stroke-width="0.9" />
<line x1="485.4" y1="29.55" x2="488.2" y2="29.55" stroke="#cc2332" stroke-width="0.9" />
<line x1="485.4" y1="36" x2="488.2" y2="36" stroke="#cc2332" stroke-width="0.9" />
<line x1="497.23" y1="27.13" x2="497.23" y2="35.19" stroke="#cc2332" stroke-width="0.9" />
<line x1="495.83" y1="27.13" x2="498.63" y2="27.13" stroke="#cc2332" stroke-width="0.9" />
<line x1="495.83" y1="35.19" x2="498.63" y2="35.19" stroke="#cc2332" stroke-width="0.9" />
<line x1="502.44" y1="29.55" x2="502.44" y2="37.61" stroke="#cc2332" stroke-width="0.9" />
<line x1="501.05" y1="29.55" x2="503.84" y2="29.55" stroke="#cc2332" stroke-width="0.9" />
<line x1="501.05" y1="37.61" x2="503.84" y2="37.61" stroke="#cc2332" stroke-width="0.9" />
<line x1="507.66" y1="34.39" x2="507.66" y2="42.45" stroke="#cc2332" stroke-width="0.9" />
<line x1="506.26" y1="34.39" x2="509.06" y2="34.39" stroke="#cc2332" stroke-width="0.9" />
<line x1="506.26" y1="42.45" x2="509.06" y2="42.45" stroke="#cc2332" stroke-width="0.9" />
<line x1="510.79" y1="36" x2="510.79" y2="44.06" stroke="#cc2332" stroke-width="0.9" />
<line x1="509.39" y1="36" x2="512.19" y2="36" stroke="#cc2332" stroke-width="0.9" />
<line x1="509.39" y1="44.06" x2="512.19" y2="44.06" stroke="#cc2332" stroke-width="0.9" />
<line x1="516" y1="44.06" x2="516" y2="52.12" stroke="#cc2332" stroke-width="0.9" />
<line x1="514.6" y1="44.06" x2="517.4" y2="44.06" stroke="#cc2332" stroke-width="0.9" />
<line x1="514.6" y1="52.12" x2="517.4" y2="52.12" stroke="#cc2332" stroke-width="0.9" />
<circle cx="455.51" cy="72.27" r="1" fill="#cc2332" stroke="#cc2332" stroke-width="0.7"/>
<circle cx="465.94" cy="66.63" r="1" fill="#cc2332" stroke="#cc2332" stroke-width="0.7"/>
<circle cx="476.37" cy="53.73" r="1" fill="#cc2332" stroke="#cc2332" stroke-width="0.7"/>
<circle cx="486.8" cy="32.78" r="1" fill="#cc2332" stroke="#cc2332" stroke-width="0.7"/>
<circle cx="497.23" cy="31.16" r="1" fill="#cc2332" stroke="#cc2332" stroke-width="0.7"/>
<circle cx="502.44" cy="33.58" r="1" fill="#cc2332" stroke="#cc2332" stroke-width="0.7"/>
<circle cx="507.66" cy="38.42" r="1" fill="#cc2332" stroke="#cc2332" stroke-width="0.7"/>
<circle cx="510.79" cy="40.03" r="1" fill="#cc2332" stroke="#cc2332" stroke-width="0.7"/>
<circle cx="516" cy="48.09" r="1" fill="#cc2332" stroke="#cc2332" stroke-width="0.7"/>
<text x="132.8" y="197.1" font-size="12.5" font-weight="bold" text-anchor="middle" fill="#000" stroke="#000" stroke-width="0.45">D</text>
<text x="148" y="194.46" font-size="5.72" font-weight="bold" text-anchor="start" fill="#000"  stroke="#000" stroke-width="0.12">Depletion and  receptor occupancy (RO)</text>
<text x="148" y="200.96" font-size="5.72" font-weight="bold" text-anchor="start" fill="#000"  stroke="#000" stroke-width="0.12">of B cells</text>
<text transform="translate(136.26,240.5) rotate(-90)" x="0" y="0" font-size="4.9" font-weight="bold" text-anchor="middle" fill="#000"  stroke="#000" stroke-width="0.12">Percent depletion</text>
<text transform="translate(265.68,241.2) rotate(90)" x="0" y="0" font-size="5.05" font-weight="bold" text-anchor="middle" fill="#000"  stroke="#000" stroke-width="0.12">Percent RO</text>
<line x1="146.3" y1="207" x2="146.3" y2="277.5" stroke="#000" stroke-width="1.1" />
<line x1="144.7" y1="267" x2="146.3" y2="267" stroke="#000" stroke-width="0.99" />
<text x="144.1" y="268.66" font-size="4.6" font-weight="bold" text-anchor="end" fill="#000"  stroke="#000" stroke-width="0.12">0</text>
<line x1="144.7" y1="247" x2="146.3" y2="247" stroke="#000" stroke-width="0.99" />
<text x="144.1" y="248.66" font-size="4.6" font-weight="bold" text-anchor="end" fill="#000"  stroke="#000" stroke-width="0.12">20</text>
<line x1="144.7" y1="227" x2="146.3" y2="227" stroke="#000" stroke-width="0.99" />
<text x="144.1" y="228.66" font-size="4.6" font-weight="bold" text-anchor="end" fill="#000"  stroke="#000" stroke-width="0.12">40</text>
<line x1="144.7" y1="207" x2="146.3" y2="207" stroke="#000" stroke-width="0.99" />
<text x="144.1" y="208.66" font-size="4.6" font-weight="bold" text-anchor="end" fill="#000"  stroke="#000" stroke-width="0.12">60</text>
<line x1="252.8" y1="205.5" x2="252.8" y2="276" stroke="#000" stroke-width="1.1" />
<line x1="252.8" y1="270" x2="254.5" y2="270" stroke="#000" stroke-width="1" />
<text x="256" y="271.66" font-size="4.6" font-weight="bold" text-anchor="start" fill="#000"  stroke="#000" stroke-width="0.12">0</text>
<line x1="252.8" y1="254.06" x2="254.5" y2="254.06" stroke="#000" stroke-width="1" />
<text x="256" y="255.72" font-size="4.6" font-weight="bold" text-anchor="start" fill="#000"  stroke="#000" stroke-width="0.12">25</text>
<line x1="252.8" y1="238.12" x2="254.5" y2="238.12" stroke="#000" stroke-width="1" />
<text x="256" y="239.78" font-size="4.6" font-weight="bold" text-anchor="start" fill="#000"  stroke="#000" stroke-width="0.12">50</text>
<line x1="252.8" y1="222.19" x2="254.5" y2="222.19" stroke="#000" stroke-width="1" />
<text x="256" y="223.84" font-size="4.6" font-weight="bold" text-anchor="start" fill="#000"  stroke="#000" stroke-width="0.12">75</text>
<line x1="252.8" y1="206.25" x2="254.5" y2="206.25" stroke="#000" stroke-width="1" />
<text x="256" y="207.91" font-size="4.6" font-weight="bold" text-anchor="start" fill="#000"  stroke="#000" stroke-width="0.12">100</text>
<line x1="146.3" y1="267" x2="252.8" y2="267" stroke="#000" stroke-width="1.1" />
<text x="199.5" y="281.66" font-size="4.6" font-weight="bold" text-anchor="middle" fill="#000"  stroke="#000" stroke-width="0.12">log[Ab], µg/mL</text>
<polyline points="158.36,264.89 159.88,264.61 161.4,264.26 162.92,263.83 164.44,263.3 165.96,262.65 167.48,261.86 169,260.91 170.52,259.78 172.04,258.43 173.56,256.87 175.08,255.07 176.6,253.04 178.12,250.81 179.64,248.4 181.16,245.86 182.68,243.25 184.2,240.64 185.72,238.1 187.24,235.69 188.76,233.46 190.28,231.43 191.8,229.63 193.32,228.07 194.84,226.72 196.36,225.59 197.88,224.64 199.4,223.85 200.92,223.2 202.44,222.67 203.96,222.24 205.48,221.89 207,221.61 208.52,221.39 210.04,221.21 211.56,221.07 213.08,220.95 214.6,220.86 216.12,220.79 217.64,220.73 219.16,220.68 220.68,220.64 222.2,220.61 223.72,220.59 225.24,220.57 226.76,220.56 228.28,220.55 229.8,220.54 231.32,220.53 232.84,220.52 234.36,220.52 235.88,220.51 237.4,220.51 238.92,220.51 240.44,220.51 241.96,220.51 243.48,220.5 245,220.5 246.52,220.5 248.04,220.5 249.56,220.5" fill="none" stroke="#cc2332" stroke-width="1" stroke-linejoin="round" />
<polyline points="158.36,272.54 159.88,272.53 161.4,272.53 162.92,272.52 164.44,272.51 165.96,272.49 167.48,272.47 169,272.44 170.52,272.4 172.04,272.35 173.56,272.28 175.08,272.18 176.6,272.04 178.12,271.86 179.64,271.61 181.16,271.28 182.68,270.83 184.2,270.23 185.72,269.42 187.24,268.35 188.76,266.96 190.28,265.16 191.8,262.88 193.32,260.05 194.84,256.65 196.36,252.67 197.88,248.22 199.4,243.44 200.92,238.55 202.44,233.77 203.96,229.31 205.48,225.34 207,221.93 208.52,219.11 210.04,216.83 211.56,215.03 213.08,213.63 214.6,212.57 216.12,211.76 217.64,211.16 219.16,210.71 220.68,210.37 222.2,210.13 223.72,209.94 225.24,209.81 226.76,209.71 228.28,209.64 229.8,209.58 231.32,209.55 232.84,209.52 234.36,209.5 235.88,209.48 237.4,209.47 238.92,209.46 240.44,209.45 241.96,209.45 243.48,209.45 245,209.44 246.52,209.44 248.04,209.44 249.56,209.44" fill="none" stroke="#2a2fa0" stroke-width="1" stroke-linejoin="round" />
<polyline points="158.36,266.35 159.88,266.31 161.4,266.26 162.92,266.2 164.44,266.13 165.96,266.03 167.48,265.91 169,265.77 170.52,265.58 172.04,265.35 173.56,265.07 175.08,264.72 176.6,264.29 178.12,263.76 179.64,263.12 181.16,262.35 182.68,261.44 184.2,260.37 185.72,259.13 187.24,257.73 188.76,256.16 190.28,254.44 191.8,252.61 193.32,250.71 194.84,248.79 196.36,246.89 197.88,245.06 199.4,243.34 200.92,241.77 202.44,240.37 203.96,239.13 205.48,238.06 207,237.15 208.52,236.38 210.04,235.74 211.56,235.21 213.08,234.78 214.6,234.43 216.12,234.15 217.64,233.92 219.16,233.73 220.68,233.59 222.2,233.47 223.72,233.37 225.24,233.3 226.76,233.24 228.28,233.19 229.8,233.15 231.32,233.12 232.84,233.09 234.36,233.07 235.88,233.06 237.4,233.05 238.92,233.04 240.44,233.03 241.96,233.02 243.48,233.02 245,233.01 246.52,233.01 248.04,233.01 249.56,233.01" fill="none" stroke="#1cb22a" stroke-width="1" stroke-linejoin="round" />
<line x1="161.4" y1="263.5" x2="161.4" y2="266.5" stroke="#cc2332" stroke-width="0.8" />
<line x1="160.1" y1="263.5" x2="162.7" y2="263.5" stroke="#cc2332" stroke-width="0.8" />
<line x1="160.1" y1="266.5" x2="162.7" y2="266.5" stroke="#cc2332" stroke-width="0.8" />
<circle cx="161.4" cy="265" r="1" fill="#cc2332" stroke="#cc2332" stroke-width="0.7"/>
<line x1="176.6" y1="250" x2="176.6" y2="254" stroke="#cc2332" stroke-width="0.8" />
<line x1="175.3" y1="250" x2="177.9" y2="250" stroke="#cc2332" stroke-width="0.8" />
<line x1="175.3" y1="254" x2="177.9" y2="254" stroke="#cc2332" stroke-width="0.8" />
<circle cx="176.6" cy="252" r="1" fill="#cc2332" stroke="#cc2332" stroke-width="0.7"/>
<line x1="191.8" y1="228" x2="191.8" y2="234" stroke="#cc2332" stroke-width="0.8" />
<line x1="190.5" y1="228" x2="193.1" y2="228" stroke="#cc2332" stroke-width="0.8" />
<line x1="190.5" y1="234" x2="193.1" y2="234" stroke="#cc2332" stroke-width="0.8" />
<circle cx="191.8" cy="231" r="1" fill="#cc2332" stroke="#cc2332" stroke-width="0.7"/>
<line x1="207" y1="219" x2="207" y2="225" stroke="#cc2332" stroke-width="0.8" />
<line x1="205.7" y1="219" x2="208.3" y2="219" stroke="#cc2332" stroke-width="0.8" />
<line x1="205.7" y1="225" x2="208.3" y2="225" stroke="#cc2332" stroke-width="0.8" />
<circle cx="207" cy="222" r="1" fill="#cc2332" stroke="#cc2332" stroke-width="0.7"/>
<line x1="222.2" y1="217" x2="222.2" y2="225" stroke="#cc2332" stroke-width="0.8" />
<line x1="220.9" y1="217" x2="223.5" y2="217" stroke="#cc2332" stroke-width="0.8" />
<line x1="220.9" y1="225" x2="223.5" y2="225" stroke="#cc2332" stroke-width="0.8" />
<circle cx="222.2" cy="221" r="1" fill="#cc2332" stroke="#cc2332" stroke-width="0.7"/>
<line x1="229.8" y1="216" x2="229.8" y2="224" stroke="#cc2332" stroke-width="0.8" />
<line x1="228.5" y1="216" x2="231.1" y2="216" stroke="#cc2332" stroke-width="0.8" />
<line x1="228.5" y1="224" x2="231.1" y2="224" stroke="#cc2332" stroke-width="0.8" />
<circle cx="229.8" cy="220" r="1" fill="#cc2332" stroke="#cc2332" stroke-width="0.7"/>
<line x1="237.4" y1="216" x2="237.4" y2="224" stroke="#cc2332" stroke-width="0.8" />
<line x1="236.1" y1="216" x2="238.7" y2="216" stroke="#cc2332" stroke-width="0.8" />
<line x1="236.1" y1="224" x2="238.7" y2="224" stroke="#cc2332" stroke-width="0.8" />
<circle cx="237.4" cy="220" r="1" fill="#cc2332" stroke="#cc2332" stroke-width="0.7"/>
<line x1="241.96" y1="217" x2="241.96" y2="225" stroke="#cc2332" stroke-width="0.8" />
<line x1="240.66" y1="217" x2="243.26" y2="217" stroke="#cc2332" stroke-width="0.8" />
<line x1="240.66" y1="225" x2="243.26" y2="225" stroke="#cc2332" stroke-width="0.8" />
<circle cx="241.96" cy="221" r="1" fill="#cc2332" stroke="#cc2332" stroke-width="0.7"/>
<line x1="249.56" y1="217" x2="249.56" y2="223" stroke="#cc2332" stroke-width="0.8" />
<line x1="248.26" y1="217" x2="250.86" y2="217" stroke="#cc2332" stroke-width="0.8" />
<line x1="248.26" y1="223" x2="250.86" y2="223" stroke="#cc2332" stroke-width="0.8" />
<circle cx="249.56" cy="220" r="1" fill="#cc2332" stroke="#cc2332" stroke-width="0.7"/>
<line x1="161.4" y1="265" x2="161.4" y2="267" stroke="#1cb22a" stroke-width="0.8" />
<line x1="160.1" y1="265" x2="162.7" y2="265" stroke="#1cb22a" stroke-width="0.8" />
<line x1="160.1" y1="267" x2="162.7" y2="267" stroke="#1cb22a" stroke-width="0.8" />
<circle cx="161.4" cy="266" r="1" fill="#1cb22a" stroke="#1cb22a" stroke-width="0.7"/>
<line x1="176.6" y1="265" x2="176.6" y2="267" stroke="#1cb22a" stroke-width="0.8" />
<line x1="175.3" y1="265" x2="177.9" y2="265" stroke="#1cb22a" stroke-width="0.8" />
<line x1="175.3" y1="267" x2="177.9" y2="267" stroke="#1cb22a" stroke-width="0.8" />
<circle cx="176.6" cy="266" r="1" fill="#1cb22a" stroke="#1cb22a" stroke-width="0.7"/>
<line x1="191.8" y1="253.5" x2="191.8" y2="257.5" stroke="#1cb22a" stroke-width="0.8" />
<line x1="190.5" y1="253.5" x2="193.1" y2="253.5" stroke="#1cb22a" stroke-width="0.8" />
<line x1="190.5" y1="257.5" x2="193.1" y2="257.5" stroke="#1cb22a" stroke-width="0.8" />
<circle cx="191.8" cy="255.5" r="1" fill="#1cb22a" stroke="#1cb22a" stroke-width="0.7"/>
<line x1="207" y1="235" x2="207" y2="241" stroke="#1cb22a" stroke-width="0.8" />
<line x1="205.7" y1="235" x2="208.3" y2="235" stroke="#1cb22a" stroke-width="0.8" />
<line x1="205.7" y1="241" x2="208.3" y2="241" stroke="#1cb22a" stroke-width="0.8" />
<circle cx="207" cy="238" r="1" fill="#1cb22a" stroke="#1cb22a" stroke-width="0.7"/>
<line x1="222.2" y1="230" x2="222.2" y2="238" stroke="#1cb22a" stroke-width="0.8" />
<line x1="220.9" y1="230" x2="223.5" y2="230" stroke="#1cb22a" stroke-width="0.8" />
<line x1="220.9" y1="238" x2="223.5" y2="238" stroke="#1cb22a" stroke-width="0.8" />
<circle cx="222.2" cy="234" r="1" fill="#1cb22a" stroke="#1cb22a" stroke-width="0.7"/>
<line x1="229.8" y1="229" x2="229.8" y2="237" stroke="#1cb22a" stroke-width="0.8" />
<line x1="228.5" y1="229" x2="231.1" y2="229" stroke="#1cb22a" stroke-width="0.8" />
<line x1="228.5" y1="237" x2="231.1" y2="237" stroke="#1cb22a" stroke-width="0.8" />
<circle cx="229.8" cy="233" r="1" fill="#1cb22a" stroke="#1cb22a" stroke-width="0.7"/>
<line x1="237.4" y1="229" x2="237.4" y2="237" stroke="#1cb22a" stroke-width="0.8" />
<line x1="236.1" y1="229" x2="238.7" y2="229" stroke="#1cb22a" stroke-width="0.8" />
<line x1="236.1" y1="237" x2="238.7" y2="237" stroke="#1cb22a" stroke-width="0.8" />
<circle cx="237.4" cy="233" r="1" fill="#1cb22a" stroke="#1cb22a" stroke-width="0.7"/>
<line x1="241.96" y1="229" x2="241.96" y2="237" stroke="#1cb22a" stroke-width="0.8" />
<line x1="240.66" y1="229" x2="243.26" y2="229" stroke="#1cb22a" stroke-width="0.8" />
<line x1="240.66" y1="237" x2="243.26" y2="237" stroke="#1cb22a" stroke-width="0.8" />
<circle cx="241.96" cy="233" r="1" fill="#1cb22a" stroke="#1cb22a" stroke-width="0.7"/>
<circle cx="161.4" cy="276.38" r="1" fill="#2a2fa0" stroke="#2a2fa0" stroke-width="0.7"/>
<circle cx="176.6" cy="267.45" r="1" fill="#2a2fa0" stroke="#2a2fa0" stroke-width="0.7"/>
<circle cx="191.8" cy="251.51" r="1" fill="#2a2fa0" stroke="#2a2fa0" stroke-width="0.7"/>
<circle cx="207" cy="222.19" r="1" fill="#2a2fa0" stroke="#2a2fa0" stroke-width="0.7"/>
<circle cx="222.2" cy="210.07" r="1" fill="#2a2fa0" stroke="#2a2fa0" stroke-width="0.7"/>
<circle cx="229.8" cy="209.44" r="1" fill="#2a2fa0" stroke="#2a2fa0" stroke-width="0.7"/>
<circle cx="237.4" cy="209.44" r="1" fill="#2a2fa0" stroke="#2a2fa0" stroke-width="0.7"/>
<circle cx="241.96" cy="209.44" r="1" fill="#2a2fa0" stroke="#2a2fa0" stroke-width="0.7"/>
<circle cx="249.56" cy="209.44" r="1" fill="#2a2fa0" stroke="#2a2fa0" stroke-width="0.7"/>
<line x1="176.6" y1="267" x2="176.6" y2="268.8" stroke="#000" stroke-width="1" />
<text x="176.6" y="274.66" font-size="4.6" font-weight="bold" text-anchor="middle" fill="#000"  stroke="#000" stroke-width="0.12">−2</text>
<line x1="207" y1="267" x2="207" y2="268.8" stroke="#000" stroke-width="1" />
<text x="207" y="274.66" font-size="4.6" font-weight="bold" text-anchor="middle" fill="#000"  stroke="#000" stroke-width="0.12">0</text>
<line x1="237.4" y1="267" x2="237.4" y2="268.8" stroke="#000" stroke-width="1" />
<text x="237.4" y="274.66" font-size="4.6" font-weight="bold" text-anchor="middle" fill="#000"  stroke="#000" stroke-width="0.12">2</text>
<text x="155" y="220.46" font-size="4.6" font-weight="bold" text-anchor="start" fill="#c0202e" letter-spacing="-0.12" stroke="#c0202e" stroke-width="0.12">Depletion:</text>
<text x="155" y="225.46" font-size="4.6" font-weight="bold" text-anchor="start" fill="#c0202e" letter-spacing="-0.12" stroke="#c0202e" stroke-width="0.12">NVS32b2_Fc_afuc</text>
<text x="204.3" y="206.62" font-size="4.5" font-weight="bold" text-anchor="start" fill="#2222a0" letter-spacing="-0.12" stroke="#2222a0" stroke-width="0.12">RO: NVS32b2_Fc_afuc</text>
<text x="208.8" y="244.66" font-size="4.6" font-weight="bold" text-anchor="start" fill="#239a2c" letter-spacing="-0.12" stroke="#239a2c" stroke-width="0.12">Depletion:</text>
<text x="208.8" y="249.96" font-size="4.6" font-weight="bold" text-anchor="start" fill="#239a2c" letter-spacing="-0.12" stroke="#239a2c" stroke-width="0.12">NVS32b2_Fc_WT</text>
<text x="308.2" y="197.83" font-size="12.3" font-weight="bold" text-anchor="middle" fill="#000" stroke="#000" stroke-width="0.45">G</text>
<text x="349.8" y="200.64" font-size="7.33" font-weight="bold" text-anchor="middle" fill="#111"  stroke="#111" stroke-width="0.12">NVS32b_Fc_afuc</text>
<text x="421.2" y="200.5" font-size="7.5" font-weight="bold" text-anchor="middle" fill="#111"  stroke="#111" stroke-width="0.12">IgG control (afuc)</text>
<text x="457.2" y="224.92" font-size="8.4" font-weight="normal" text-anchor="start" fill="#38a46c"  stroke="#38a46c" stroke-width="0.12">Mϕ (effector)</text>
<text x="457.2" y="234.92" font-size="8.4" font-weight="normal" text-anchor="start" fill="#d23c44"  stroke="#d23c44" stroke-width="0.12">Mϕ (target)</text>
<text x="457.2" y="245.35" font-size="8.2" font-weight="normal" text-anchor="start" fill="#6a52a2"  stroke="#6a52a2" stroke-width="0.12">Antibody</text>
<text x="457.2" y="255.43" font-size="7.85" font-weight="normal" text-anchor="start" fill="#3c7cc0"  stroke="#3c7cc0" stroke-width="0.12">Sytox: cell death</text>
<defs><radialGradient id="gm"><stop offset="0" stop-color="#62a874"/><stop offset="0.45" stop-color="#3f8152"/><stop offset="0.75" stop-color="#2a5038" stop-opacity="0.8"/><stop offset="1" stop-color="#20202a" stop-opacity="0"/></radialGradient><radialGradient id="gg"><stop offset="0" stop-color="#4cc466"/><stop offset="0.5" stop-color="#2f9a48"/><stop offset="0.75" stop-color="#1a5a2a" stop-opacity="0.8"/><stop offset="1" stop-color="#10301a" stop-opacity="0"/></radialGradient><radialGradient id="gd"><stop offset="0" stop-color="#2a6a38"/><stop offset="0.55" stop-color="#1c4a28"/><stop offset="1" stop-color="#122a18" stop-opacity="0"/></radialGradient><radialGradient id="gw"><stop offset="0" stop-color="#a8c8a8"/><stop offset="0.5" stop-color="#5f9a6a"/><stop offset="1" stop-color="#3a3a3a" stop-opacity="0"/></radialGradient><radialGradient id="gr"><stop offset="0" stop-color="#c02234"/><stop offset="0.5" stop-color="#861628"/><stop offset="1" stop-color="#500810" stop-opacity="0"/></radialGradient><radialGradient id="gp"><stop offset="0" stop-color="#94709a"/><stop offset="0.55" stop-color="#5e3c62"/><stop offset="1" stop-color="#301830" stop-opacity="0"/></radialGradient><radialGradient id="gy"><stop offset="0" stop-color="#7a8a80"/><stop offset="0.55" stop-color="#4f5f55"/><stop offset="1" stop-color="#2a2a2a" stop-opacity="0"/></radialGradient><clipPath id="c1"><rect x="314" y="204" width="67.75" height="67.75"/></clipPath><clipPath id="c2"><rect x="384.25" y="204" width="67.75" height="67.6"/></clipPath><filter id="bl" x="-5%" y="-5%" width="110%" height="110%"><feGaussianBlur stdDeviation="0.9"/></filter></defs>
<rect x="314" y="204" width="67.75" height="67.75" fill="#1f0913"/>
<rect x="384.25" y="204" width="67.75" height="67.6" fill="#0e0607"/>
<rect x="381.75" y="204" width="2.5" height="67.75" fill="#b4c0b4"/>
<g clip-path="url(#c1)"><g filter="url(#bl)">
<circle cx="324.9" cy="208.4" r="4.99" fill="url(#gm)"/>
<circle cx="340.2" cy="205.7" r="4.48" fill="url(#gm)"/>
<circle cx="317.5" cy="215.4" r="4.48" fill="url(#gm)"/>
<circle cx="331.9" cy="220.2" r="5.38" fill="url(#gm)"/>
<circle cx="345.5" cy="223.2" r="4.48" fill="url(#gm)"/>
<circle cx="346.4" cy="217.1" r="4.1" fill="url(#gd)"/>
<circle cx="323.2" cy="227.2" r="4.48" fill="url(#gw)"/>
<circle cx="316.6" cy="225" r="3.84" fill="url(#gr)"/>
<circle cx="339.4" cy="230.2" r="4.48" fill="url(#gm)"/>
<circle cx="347.2" cy="232.9" r="3.33" fill="url(#gr)"/>
<circle cx="329.7" cy="236.4" r="3.84" fill="url(#gp)"/>
<circle cx="335.9" cy="238.1" r="3.84" fill="url(#gd)"/>
<circle cx="315.7" cy="232" r="3.84" fill="url(#gy)"/>
<circle cx="360.1" cy="210.6" r="4.48" fill="url(#gd)"/>
<circle cx="376.7" cy="205.7" r="3.84" fill="url(#gd)"/>
<circle cx="370.6" cy="213.2" r="3.84" fill="url(#gm)"/>
<circle cx="360.1" cy="218.4" r="4.48" fill="url(#gd)"/>
<circle cx="355.3" cy="223.7" r="4.48" fill="url(#gw)"/>
<circle cx="369.3" cy="218.9" r="3.2" fill="url(#gr)"/>
<circle cx="379.8" cy="222.8" r="3.84" fill="url(#gr)"/>
<circle cx="355.3" cy="229.4" r="3.84" fill="url(#gr)"/>
<circle cx="348.7" cy="234.6" r="3.84" fill="url(#gr)"/>
<circle cx="375.9" cy="231.1" r="4.48" fill="url(#gy)"/>
<circle cx="368.9" cy="236.4" r="3.84" fill="url(#gm)"/>
<circle cx="365.4" cy="237.2" r="3.2" fill="url(#gp)"/>
<circle cx="337.6" cy="240.9" r="4.48" fill="url(#gm)"/>
<circle cx="331.1" cy="241.4" r="1.92" fill="url(#gw)"/>
<circle cx="319.2" cy="247.1" r="4.48" fill="url(#gy)"/>
<circle cx="328" cy="251.9" r="4.48" fill="url(#gw)"/>
<circle cx="342" cy="249.7" r="5.12" fill="url(#gp)"/>
<circle cx="316.6" cy="255.8" r="4.48" fill="url(#gp)"/>
<circle cx="340.2" cy="258" r="4.48" fill="url(#gm)"/>
<circle cx="333.2" cy="264.6" r="4.48" fill="url(#gp)"/>
<circle cx="343.7" cy="267.6" r="3.84" fill="url(#gy)"/>
<circle cx="326.2" cy="238.8" r="3.2" fill="url(#gd)"/>
<circle cx="352.7" cy="258" r="4.48" fill="url(#gw)"/>
<circle cx="360.1" cy="260.2" r="4.48" fill="url(#gm)"/>
<circle cx="363.2" cy="267.2" r="3.84" fill="url(#gy)"/>
<circle cx="371.5" cy="245.7" r="4.48" fill="url(#gp)"/>
<circle cx="368.9" cy="238.3" r="2.56" fill="url(#gm)"/>
<circle cx="380.2" cy="245.7" r="3.84" fill="url(#gd)"/>
<circle cx="380.2" cy="262.4" r="3.84" fill="url(#gd)"/>
<circle cx="321" cy="265" r="3.84" fill="url(#gd)"/>
<circle cx="352" cy="245" r="3.84" fill="url(#gp)"/>
</g></g><g clip-path="url(#c2)"><g filter="url(#bl)">
<circle cx="393.4" cy="210.8" r="4.5" fill="url(#gg)"/>
<circle cx="404" cy="211.1" r="5" fill="url(#gg)"/>
<circle cx="417.2" cy="206.6" r="4.5" fill="url(#gd)"/>
<circle cx="427.4" cy="205.7" r="4.25" fill="url(#gd)"/>
<circle cx="435.9" cy="212.5" r="4.75" fill="url(#gg)"/>
<circle cx="447.8" cy="210" r="4.38" fill="url(#gg)"/>
<circle cx="411.2" cy="219.3" r="4.5" fill="url(#gg)"/>
<circle cx="422.3" cy="220.2" r="4.75" fill="url(#gg)"/>
<circle cx="401" cy="223.6" r="4.5" fill="url(#gg)"/>
<circle cx="431.6" cy="225.3" r="5" fill="url(#gg)"/>
<circle cx="441" cy="225.3" r="4.5" fill="url(#gg)"/>
<circle cx="446.9" cy="220.2" r="4" fill="url(#gd)"/>
<circle cx="385.7" cy="231.2" r="4.5" fill="url(#gg)"/>
<circle cx="412.9" cy="232.9" r="4.5" fill="url(#gg)"/>
<circle cx="401" cy="235.5" r="4.5" fill="url(#gd)"/>
<circle cx="434.2" cy="237.2" r="4.5" fill="url(#gd)"/>
<circle cx="420.6" cy="243.1" r="4.75" fill="url(#gg)"/>
<circle cx="388.3" cy="244.8" r="4.75" fill="url(#gg)"/>
<circle cx="413.8" cy="248.2" r="4.5" fill="url(#gg)"/>
<circle cx="426.5" cy="251.6" r="4.5" fill="url(#gd)"/>
<circle cx="393.4" cy="255" r="4.75" fill="url(#gg)"/>
<circle cx="444.4" cy="252.5" r="4.25" fill="url(#gd)"/>
<circle cx="434.2" cy="261.8" r="4.5" fill="url(#gg)"/>
<circle cx="409.5" cy="260.1" r="4.5" fill="url(#gd)"/>
<circle cx="389.1" cy="265.2" r="4.25" fill="url(#gd)"/>
<circle cx="401" cy="267.8" r="4.25" fill="url(#gd)"/>
<circle cx="423.1" cy="266.9" r="4.25" fill="url(#gd)"/>
<circle cx="401" cy="257.6" r="3.75" fill="url(#gr)"/>
<circle cx="427.4" cy="215" r="2.75" fill="url(#gr)"/>
<circle cx="387.4" cy="217.6" r="2.75" fill="url(#gr)"/>
<circle cx="398.5" cy="249.9" r="1.5" fill="url(#gw)"/>
</g></g>
<line x1="373.3" y1="269.6" x2="380.4" y2="269.6" stroke="#f0f0f0" stroke-width="1" />
<line x1="442" y1="269.5" x2="450" y2="269.5" stroke="#f0f0f0" stroke-width="1" />
<text x="10.1" y="293.99" font-size="12.2" font-weight="bold" text-anchor="middle" fill="#000" stroke="#000" stroke-width="0.45">E</text>
<text x="70.5" y="293.78" font-size="6.9" font-weight="bold" text-anchor="middle" fill="#000"  stroke="#000" stroke-width="0.12">ADCC by NK cells</text>
<text x="71.4" y="300.96" font-size="6" font-weight="normal" text-anchor="middle" fill="#000" stroke="#000" stroke-width="0.12">Target cells: daudi vs. macrophages</text>
<text x="70" y="397.69" font-size="5.8" font-weight="normal" text-anchor="middle" fill="#000" stroke="#000" stroke-width="0.12">log[Ab], ng/mL</text>
<line x1="34.7" y1="312.3" x2="34.7" y2="380.34" stroke="#000" stroke-width="1.1" />
<line x1="32.9" y1="314.7" x2="34.7" y2="314.7" stroke="#000" stroke-width="0.99" />
<text x="32.3" y="316.68" font-size="5.5" font-weight="bold" text-anchor="end" fill="#000"  stroke="#000" stroke-width="0.12">100</text>
<line x1="32.9" y1="325.64" x2="34.7" y2="325.64" stroke="#000" stroke-width="0.99" />
<text x="32.3" y="327.62" font-size="5.5" font-weight="bold" text-anchor="end" fill="#000"  stroke="#000" stroke-width="0.12">80</text>
<line x1="32.9" y1="336.58" x2="34.7" y2="336.58" stroke="#000" stroke-width="0.99" />
<text x="32.3" y="338.56" font-size="5.5" font-weight="bold" text-anchor="end" fill="#000"  stroke="#000" stroke-width="0.12">60</text>
<line x1="32.9" y1="347.52" x2="34.7" y2="347.52" stroke="#000" stroke-width="0.99" />
<text x="32.3" y="349.5" font-size="5.5" font-weight="bold" text-anchor="end" fill="#000"  stroke="#000" stroke-width="0.12">40</text>
<line x1="32.9" y1="358.46" x2="34.7" y2="358.46" stroke="#000" stroke-width="0.99" />
<text x="32.3" y="360.44" font-size="5.5" font-weight="bold" text-anchor="end" fill="#000"  stroke="#000" stroke-width="0.12">20</text>
<line x1="32.9" y1="369.4" x2="34.7" y2="369.4" stroke="#000" stroke-width="0.99" />
<text x="32.3" y="371.38" font-size="5.5" font-weight="bold" text-anchor="end" fill="#000"  stroke="#000" stroke-width="0.12">0</text>
<line x1="32.9" y1="380.34" x2="34.7" y2="380.34" stroke="#000" stroke-width="0.99" />
<text x="32.3" y="382.32" font-size="5.5" font-weight="bold" text-anchor="end" fill="#000"  stroke="#000" stroke-width="0.12">−20</text>
<line x1="34.7" y1="380.34" x2="105.7" y2="380.34" stroke="#000" stroke-width="1.1" />
<line x1="34.1" y1="380.34" x2="34.1" y2="382.14" stroke="#000" stroke-width="1" />
<text x="34.1" y="389.18" font-size="5.5" font-weight="bold" text-anchor="middle" fill="#000"  stroke="#000" stroke-width="0.12">−4</text>
<line x1="52" y1="380.34" x2="52" y2="382.14" stroke="#000" stroke-width="1" />
<text x="52" y="389.18" font-size="5.5" font-weight="bold" text-anchor="middle" fill="#000"  stroke="#000" stroke-width="0.12">−2</text>
<line x1="69.9" y1="380.34" x2="69.9" y2="382.14" stroke="#000" stroke-width="1" />
<text x="69.9" y="389.18" font-size="5.5" font-weight="bold" text-anchor="middle" fill="#000"  stroke="#000" stroke-width="0.12">0</text>
<line x1="87.8" y1="380.34" x2="87.8" y2="382.14" stroke="#000" stroke-width="1" />
<text x="87.8" y="389.18" font-size="5.5" font-weight="bold" text-anchor="middle" fill="#000"  stroke="#000" stroke-width="0.12">2</text>
<line x1="105.7" y1="380.34" x2="105.7" y2="382.14" stroke="#000" stroke-width="1" />
<text x="105.7" y="389.18" font-size="5.5" font-weight="bold" text-anchor="middle" fill="#000"  stroke="#000" stroke-width="0.12">4</text>
<text transform="translate(19.94,343.5) rotate(-90)" x="0" y="0" font-size="5.95" font-weight="bold" text-anchor="middle" fill="#000"  stroke="#000" stroke-width="0.12">Target cell lysis %</text>
<polyline points="34.1,358.41 34.55,358.4 35,358.39 35.44,358.38 35.89,358.37 36.34,358.36 36.79,358.35 37.23,358.33 37.68,358.32 38.13,358.3 38.58,358.28 39.02,358.25 39.47,358.22 39.92,358.19 40.37,358.15 40.81,358.11 41.26,358.07 41.71,358.02 42.16,357.96 42.6,357.89 43.05,357.81 43.5,357.73 43.95,357.63 44.39,357.52 44.84,357.4 45.29,357.26 45.74,357.1 46.18,356.92 46.63,356.72 47.08,356.5 47.53,356.25 47.97,355.97 48.42,355.65 48.87,355.3 49.32,354.91 49.76,354.47 50.21,353.99 50.66,353.46 51.11,352.87 51.55,352.23 52,351.52 52.45,350.75 52.9,349.92 53.34,349.02 53.79,348.05 54.24,347.02 54.69,345.93 55.13,344.78 55.58,343.57 56.03,342.31 56.48,341.02 56.92,339.69 57.37,338.35 57.82,336.99 58.27,335.63 58.71,334.29 59.16,332.96 59.61,331.67 60.06,330.41 60.5,329.2 60.95,328.05 61.4,326.96 61.85,325.93 62.29,324.96 62.74,324.06 63.19,323.23 63.64,322.46 64.08,321.75 64.53,321.11 64.98,320.52 65.43,319.99 65.87,319.51 66.32,319.07 66.77,318.68 67.22,318.33 67.66,318.01 68.11,317.73 68.56,317.48 69.01,317.26 69.45,317.06 69.9,316.88 70.35,316.72 70.8,316.58 71.24,316.46 71.69,316.35 72.14,316.25 72.59,316.17 73.03,316.09 73.48,316.02 73.93,315.97 74.38,315.91 74.82,315.87 75.27,315.83 75.72,315.79 76.17,315.76 76.61,315.73 77.06,315.7 77.51,315.68 77.96,315.66 78.4,315.65 78.85,315.63 79.3,315.62 79.75,315.61 80.19,315.6 80.64,315.59 81.09,315.58 81.54,315.57 81.98,315.57 82.43,315.56 82.88,315.56 83.33,315.55 83.77,315.55 84.22,315.54 84.67,315.54 85.12,315.54 85.56,315.54 86.01,315.54 86.46,315.53 86.91,315.53 87.35,315.53 87.8,315.53 88.25,315.53 88.7,315.53 89.14,315.53 89.59,315.53 90.04,315.53 90.49,315.52 90.93,315.52 91.38,315.52 91.83,315.52 92.28,315.52 92.72,315.52 93.17,315.52 93.62,315.52 94.06,315.52 94.51,315.52 94.96,315.52 95.41,315.52 95.86,315.52 96.3,315.52 96.75,315.52" fill="none" stroke="#cc2332" stroke-width="1.1" stroke-linejoin="round" />
<polyline points="34.1,367.76 43.05,367.76 52,368.31 60.95,369.4 69.9,369.4 78.85,369.4 87.8,371.04 96.75,371.59" fill="none" stroke="#2a2fa0" stroke-width="0.8" stroke-linejoin="round" stroke-dasharray="1.5,1.2"/>
<polyline points="34.1,367.21 43.05,366.66 52,367.21 60.95,368.85 69.9,368.31 78.85,369.95 87.8,374.87 96.75,375.96" fill="none" stroke="#111" stroke-width="0.8" stroke-linejoin="round" stroke-dasharray="1.5,1.2"/>
<polyline points="34.1,369.4 43.05,369.95 52,369.95 60.95,371.04 69.9,371.04 78.85,366.12 87.8,360.65 96.75,357.37" fill="none" stroke="#e0505a" stroke-width="0.8" stroke-linejoin="round" stroke-dasharray="1.5,1.2"/>
<polyline points="34.1,358.46 43.05,358.73 52,359.01 60.95,359.28 69.9,359.55 78.85,360.1 87.8,359.55 96.75,360.65" fill="none" stroke="#111" stroke-width="1" stroke-linejoin="round" />
<polyline points="34.1,359.01 43.05,359.01 52,359.28 60.95,359.55 69.9,359.83 78.85,360.1 87.8,360.65 96.75,360.92" fill="none" stroke="#2a2fa0" stroke-width="1" stroke-linejoin="round" />
<polygon points="43.05,368.1 41.73,365.7 44.37,365.7" fill="none" stroke="#111" stroke-width="0.7"/>
<polygon points="52,368.65 50.68,366.25 53.32,366.25" fill="none" stroke="#111" stroke-width="0.7"/>
<polygon points="60.95,370.29 59.63,367.89 62.27,367.89" fill="none" stroke="#111" stroke-width="0.7"/>
<polygon points="69.9,369.75 68.58,367.35 71.22,367.35" fill="none" stroke="#111" stroke-width="0.7"/>
<polygon points="78.85,371.39 77.53,368.99 80.17,368.99" fill="none" stroke="#111" stroke-width="0.7"/>
<polygon points="87.8,376.31 86.48,373.91 89.12,373.91" fill="none" stroke="#111" stroke-width="0.7"/>
<polygon points="96.75,377.4 95.43,375 98.07,375" fill="none" stroke="#111" stroke-width="0.7"/>
<polygon points="43.05,366.32 41.73,368.72 44.37,368.72" fill="none" stroke="#2a2fa0" stroke-width="0.7"/>
<polygon points="52,366.87 50.68,369.27 53.32,369.27" fill="none" stroke="#2a2fa0" stroke-width="0.7"/>
<polygon points="60.95,367.96 59.63,370.36 62.27,370.36" fill="none" stroke="#2a2fa0" stroke-width="0.7"/>
<polygon points="69.9,367.96 68.58,370.36 71.22,370.36" fill="none" stroke="#2a2fa0" stroke-width="0.7"/>
<polygon points="78.85,367.96 77.53,370.36 80.17,370.36" fill="none" stroke="#2a2fa0" stroke-width="0.7"/>
<polygon points="87.8,369.6 86.48,372 89.12,372" fill="none" stroke="#2a2fa0" stroke-width="0.7"/>
<polygon points="96.75,370.15 95.43,372.55 98.07,372.55" fill="none" stroke="#2a2fa0" stroke-width="0.7"/>
<circle cx="43.05" cy="369.95" r="1.3" fill="none" stroke="#e0505a" stroke-width="0.8"/>
<circle cx="52" cy="369.95" r="1.3" fill="none" stroke="#e0505a" stroke-width="0.8"/>
<circle cx="60.95" cy="371.59" r="1.3" fill="none" stroke="#e0505a" stroke-width="0.8"/>
<circle cx="69.9" cy="373.23" r="1.3" fill="none" stroke="#e0505a" stroke-width="0.8"/>
<circle cx="78.85" cy="366.66" r="1.3" fill="none" stroke="#e0505a" stroke-width="0.8"/>
<circle cx="87.8" cy="353.54" r="1.3" fill="none" stroke="#e0505a" stroke-width="0.8"/>
<circle cx="96.75" cy="359.55" r="1.3" fill="none" stroke="#e0505a" stroke-width="0.8"/>
<polygon points="43.05,360.17 41.73,357.77 44.37,357.77" fill="#111" stroke="#111" stroke-width="0.7"/>
<polygon points="52,360.45 50.68,358.05 53.32,358.05" fill="#111" stroke="#111" stroke-width="0.7"/>
<polygon points="60.95,360.72 59.63,358.32 62.27,358.32" fill="#111" stroke="#111" stroke-width="0.7"/>
<polygon points="69.9,360.99 68.58,358.59 71.22,358.59" fill="#111" stroke="#111" stroke-width="0.7"/>
<polygon points="78.85,361.54 77.53,359.14 80.17,359.14" fill="#111" stroke="#111" stroke-width="0.7"/>
<polygon points="87.8,360.99 86.48,358.59 89.12,358.59" fill="#111" stroke="#111" stroke-width="0.7"/>
<polygon points="96.75,362.09 95.43,359.69 98.07,359.69" fill="#111" stroke="#111" stroke-width="0.7"/>
<rect x="41.95" y="357.91" width="2.2" height="2.2" fill="#2a2fa0" stroke="#2a2fa0" stroke-width="0.7"/>
<rect x="50.9" y="358.18" width="2.2" height="2.2" fill="#2a2fa0" stroke="#2a2fa0" stroke-width="0.7"/>
<rect x="59.85" y="358.45" width="2.2" height="2.2" fill="#2a2fa0" stroke="#2a2fa0" stroke-width="0.7"/>
<rect x="68.8" y="358.73" width="2.2" height="2.2" fill="#2a2fa0" stroke="#2a2fa0" stroke-width="0.7"/>
<rect x="77.75" y="359" width="2.2" height="2.2" fill="#2a2fa0" stroke="#2a2fa0" stroke-width="0.7"/>
<rect x="86.7" y="359.55" width="2.2" height="2.2" fill="#2a2fa0" stroke="#2a2fa0" stroke-width="0.7"/>
<rect x="95.65" y="359.82" width="2.2" height="2.2" fill="#2a2fa0" stroke="#2a2fa0" stroke-width="0.7"/>
<circle cx="43.05" cy="358.19" r="1.4" fill="#cc2332" stroke="#cc2332" stroke-width="0.7"/>
<circle cx="52" cy="348.61" r="1.4" fill="#cc2332" stroke="#cc2332" stroke-width="0.7"/>
<circle cx="59.16" cy="330.56" r="1.4" fill="#cc2332" stroke="#cc2332" stroke-width="0.7"/>
<circle cx="69.9" cy="314.7" r="1.4" fill="#cc2332" stroke="#cc2332" stroke-width="0.7"/>
<circle cx="78.85" cy="315.52" r="1.4" fill="#cc2332" stroke="#cc2332" stroke-width="0.7"/>
<circle cx="87.8" cy="315.52" r="1.4" fill="#cc2332" stroke="#cc2332" stroke-width="0.7"/>
<circle cx="96.75" cy="317.43" r="1.4" fill="#cc2332" stroke="#cc2332" stroke-width="0.7"/>
<line x1="112" y1="317.1" x2="119" y2="317.1" stroke="#cc2332" stroke-width="0.9" />
<circle cx="115.5" cy="317.1" r="1.45" fill="#cc2332" stroke="#cc2332" stroke-width="0.95"/>
<text x="123.8" y="319.28" font-size="6.05" font-weight="normal" text-anchor="start" fill="#1a1a1a" stroke="#1a1a1a" stroke-width="0.12">NVS32b2_Fc_afuc, Daudi</text>
<line x1="112" y1="328.8" x2="119" y2="328.8" stroke="#2a2fa0" stroke-width="0.9" />
<rect x="114.05" y="327.35" width="2.9" height="2.9" fill="#2a2fa0" stroke="#2a2fa0" stroke-width="0.95"/>
<text x="123.8" y="330.98" font-size="6.05" font-weight="normal" text-anchor="start" fill="#1a1a1a" stroke="#1a1a1a" stroke-width="0.12">NVS32b2_N297A, Daudi</text>
<line x1="112" y1="340" x2="119" y2="340" stroke="#111" stroke-width="0.9" />
<polygon points="115.5,341.74 113.91,338.84 117.09,338.84" fill="#111" stroke="#111" stroke-width="0.95"/>
<text x="123.8" y="342.18" font-size="6.05" font-weight="normal" text-anchor="start" fill="#1a1a1a" stroke="#1a1a1a" stroke-width="0.12">IgG control (afuc), Daudi</text>
<line x1="112" y1="352.7" x2="119" y2="352.7" stroke="#e0505a" stroke-width="0.9" stroke-dasharray="1.2,1"/>
<circle cx="115.5" cy="352.7" r="1.45" fill="none" stroke="#e0505a" stroke-width="0.95"/>
<text x="123.8" y="354.88" font-size="6.05" font-weight="normal" text-anchor="start" fill="#1a1a1a" stroke="#1a1a1a" stroke-width="0.12">NVS32b2_Fc_afuc, Mϕ</text>
<line x1="112" y1="365" x2="119" y2="365" stroke="#2a2fa0" stroke-width="0.9" stroke-dasharray="1.2,1"/>
<polygon points="115.5,363.26 113.91,366.16 117.09,366.16" fill="none" stroke="#2a2fa0" stroke-width="0.95"/>
<text x="123.8" y="367.18" font-size="6.05" font-weight="normal" text-anchor="start" fill="#1a1a1a" stroke="#1a1a1a" stroke-width="0.12">NVS32b2_N297A, Mϕ</text>
<line x1="112" y1="376.7" x2="119" y2="376.7" stroke="#111" stroke-width="0.9" stroke-dasharray="1.2,1"/>
<polygon points="115.5,378.44 113.91,375.54 117.09,375.54" fill="none" stroke="#111" stroke-width="0.95"/>
<text x="123.8" y="378.88" font-size="6.05" font-weight="normal" text-anchor="start" fill="#1a1a1a" stroke="#1a1a1a" stroke-width="0.12">IgG control (afuc), Mϕ</text>
<text x="212.2" y="294.19" font-size="12.2" font-weight="bold" text-anchor="middle" fill="#000" stroke="#000" stroke-width="0.45">F</text>
<text x="275" y="293.71" font-size="6.7" font-weight="bold" text-anchor="middle" fill="#000"  stroke="#000" stroke-width="0.12">ADCC by NK cells</text>
<text x="274.5" y="301.14" font-size="6.5" font-weight="normal" text-anchor="middle" fill="#000" stroke="#000" stroke-width="0.12">Target cell: Daudi vs. DCs</text>
<text x="275" y="397.69" font-size="5.8" font-weight="normal" text-anchor="middle" fill="#000" stroke="#000" stroke-width="0.12">log[Ab], ng/mL</text>
<line x1="239.7" y1="309.5" x2="239.7" y2="381.34" stroke="#000" stroke-width="1.1" />
<line x1="237.9" y1="309.7" x2="239.7" y2="309.7" stroke="#000" stroke-width="0.99" />
<text x="237.3" y="311.68" font-size="5.5" font-weight="bold" text-anchor="end" fill="#000"  stroke="#000" stroke-width="0.12">100</text>
<line x1="237.9" y1="321.64" x2="239.7" y2="321.64" stroke="#000" stroke-width="0.99" />
<text x="237.3" y="323.62" font-size="5.5" font-weight="bold" text-anchor="end" fill="#000"  stroke="#000" stroke-width="0.12">80</text>
<line x1="237.9" y1="333.58" x2="239.7" y2="333.58" stroke="#000" stroke-width="0.99" />
<text x="237.3" y="335.56" font-size="5.5" font-weight="bold" text-anchor="end" fill="#000"  stroke="#000" stroke-width="0.12">60</text>
<line x1="237.9" y1="345.52" x2="239.7" y2="345.52" stroke="#000" stroke-width="0.99" />
<text x="237.3" y="347.5" font-size="5.5" font-weight="bold" text-anchor="end" fill="#000"  stroke="#000" stroke-width="0.12">40</text>
<line x1="237.9" y1="357.46" x2="239.7" y2="357.46" stroke="#000" stroke-width="0.99" />
<text x="237.3" y="359.44" font-size="5.5" font-weight="bold" text-anchor="end" fill="#000"  stroke="#000" stroke-width="0.12">20</text>
<line x1="237.9" y1="369.4" x2="239.7" y2="369.4" stroke="#000" stroke-width="0.99" />
<text x="237.3" y="371.38" font-size="5.5" font-weight="bold" text-anchor="end" fill="#000"  stroke="#000" stroke-width="0.12">0</text>
<line x1="237.9" y1="381.34" x2="239.7" y2="381.34" stroke="#000" stroke-width="0.99" />
<text x="237.3" y="383.32" font-size="5.5" font-weight="bold" text-anchor="end" fill="#000"  stroke="#000" stroke-width="0.12">−20</text>
<line x1="239.7" y1="381.34" x2="310.5" y2="381.34" stroke="#000" stroke-width="1.1" />
<line x1="239.3" y1="381.34" x2="239.3" y2="383.14" stroke="#000" stroke-width="1" />
<text x="239.3" y="389.18" font-size="5.5" font-weight="bold" text-anchor="middle" fill="#000"  stroke="#000" stroke-width="0.12">−4</text>
<line x1="257.1" y1="381.34" x2="257.1" y2="383.14" stroke="#000" stroke-width="1" />
<text x="257.1" y="389.18" font-size="5.5" font-weight="bold" text-anchor="middle" fill="#000"  stroke="#000" stroke-width="0.12">−2</text>
<line x1="274.9" y1="381.34" x2="274.9" y2="383.14" stroke="#000" stroke-width="1" />
<text x="274.9" y="389.18" font-size="5.5" font-weight="bold" text-anchor="middle" fill="#000"  stroke="#000" stroke-width="0.12">0</text>
<line x1="292.7" y1="381.34" x2="292.7" y2="383.14" stroke="#000" stroke-width="1" />
<text x="292.7" y="389.18" font-size="5.5" font-weight="bold" text-anchor="middle" fill="#000"  stroke="#000" stroke-width="0.12">2</text>
<line x1="310.5" y1="381.34" x2="310.5" y2="383.14" stroke="#000" stroke-width="1" />
<text x="310.5" y="389.18" font-size="5.5" font-weight="bold" text-anchor="middle" fill="#000"  stroke="#000" stroke-width="0.12">4</text>
<text transform="translate(224.34,345.1) rotate(-90)" x="0" y="0" font-size="5.95" font-weight="bold" text-anchor="middle" fill="#000"  stroke="#000" stroke-width="0.12">Target cell lysis %</text>
<line x1="286.47" y1="369.4" x2="310.5" y2="369.4" stroke="#999" stroke-width="0.7" stroke-dasharray="0.8,1"/>
<polyline points="239.3,353.86 239.74,353.86 240.19,353.85 240.63,353.85 241.08,353.84 241.52,353.84 241.97,353.83 242.41,353.82 242.86,353.81 243.3,353.8 243.75,353.79 244.19,353.78 244.64,353.76 245.08,353.74 245.53,353.72 245.97,353.69 246.42,353.66 246.86,353.63 247.31,353.59 247.75,353.54 248.2,353.49 248.64,353.43 249.09,353.36 249.53,353.27 249.98,353.18 250.42,353.07 250.87,352.94 251.31,352.8 251.76,352.63 252.2,352.43 252.65,352.21 253.09,351.96 253.54,351.67 253.98,351.34 254.43,350.96 254.87,350.53 255.32,350.05 255.76,349.51 256.21,348.91 256.65,348.23 257.1,347.49 257.54,346.67 257.99,345.78 258.44,344.81 258.88,343.77 259.32,342.66 259.77,341.49 260.21,340.27 260.66,339.01 261.1,337.72 261.55,336.42 262,335.11 262.44,333.82 262.88,332.56 263.33,331.34 263.77,330.17 264.22,329.06 264.66,328.02 265.11,327.05 265.55,326.16 266,325.34 266.44,324.6 266.89,323.92 267.33,323.32 267.78,322.78 268.22,322.3 268.67,321.87 269.11,321.5 269.56,321.17 270,320.87 270.45,320.62 270.89,320.4 271.34,320.2 271.78,320.04 272.23,319.89 272.67,319.76 273.12,319.65 273.56,319.56 274.01,319.47 274.45,319.4 274.9,319.34 275.34,319.29 275.79,319.24 276.23,319.2 276.68,319.17 277.12,319.14 277.57,319.11 278.01,319.09 278.46,319.07 278.9,319.06 279.35,319.04 279.79,319.03 280.24,319.02 280.69,319.01 281.13,319 281.57,318.99 282.02,318.99 282.46,318.98 282.91,318.98 283.35,318.98 283.8,318.97 284.25,318.97 284.69,318.97 285.13,318.97 285.58,318.96 286.02,318.96 286.47,318.96 286.91,318.96 287.36,318.96 287.81,318.96 288.25,318.96 288.69,318.96 289.14,318.96 289.58,318.96 290.03,318.96 290.47,318.96 290.92,318.96 291.37,318.96 291.81,318.95 292.25,318.95 292.7,318.95 293.14,318.95 293.59,318.95 294.03,318.95 294.48,318.95 294.92,318.95 295.37,318.95 295.81,318.95 296.26,318.95 296.7,318.95 297.15,318.95 297.59,318.95 298.04,318.95 298.48,318.95 298.93,318.95 299.38,318.95 299.82,318.95 300.26,318.95 300.71,318.95 301.15,318.95 301.6,318.95" fill="none" stroke="#cc2332" stroke-width="1.1" stroke-linejoin="round" />
<polyline points="239.3,356.86 239.74,356.86 240.19,356.86 240.63,356.86 241.08,356.86 241.52,356.86 241.97,356.86 242.41,356.86 242.86,356.86 243.3,356.86 243.75,356.86 244.19,356.86 244.64,356.86 245.08,356.86 245.53,356.86 245.97,356.86 246.42,356.86 246.86,356.86 247.31,356.86 247.75,356.86 248.2,356.86 248.64,356.86 249.09,356.86 249.53,356.86 249.98,356.86 250.42,356.86 250.87,356.86 251.31,356.86 251.76,356.86 252.2,356.86 252.65,356.86 253.09,356.86 253.54,356.86 253.98,356.86 254.43,356.86 254.87,356.86 255.32,356.86 255.76,356.86 256.21,356.86 256.65,356.86 257.1,356.86 257.54,356.86 257.99,356.86 258.44,356.86 258.88,356.86 259.32,356.86 259.77,356.86 260.21,356.86 260.66,356.86 261.1,356.86 261.55,356.86 262,356.86 262.44,356.86 262.88,356.86 263.33,356.86 263.77,356.86 264.22,356.87 264.66,356.87 265.11,356.88 265.55,356.89 266,356.9 266.44,356.92 266.89,356.95 267.33,356.98 267.78,357.03 268.22,357.08 268.67,357.14 269.11,357.21 269.56,357.3 270,357.39 270.45,357.49 270.89,357.6 271.34,357.7 271.78,357.8 272.23,357.88 272.67,357.95 273.12,357.99 273.56,358 274.01,357.97 274.45,357.9 274.9,357.77 275.34,357.59 275.79,357.36 276.23,357.06 276.68,356.72 277.12,356.31 277.57,355.85 278.01,355.35 278.46,354.79 278.9,354.21 279.35,353.58 279.79,352.94 280.24,352.28 280.69,351.61 281.13,350.94 281.57,350.29 282.02,349.66 282.46,349.07 282.91,348.5 283.35,347.98 283.8,347.51 284.25,347.08 284.69,346.69 285.13,346.35 285.58,346.06 286.02,345.8 286.47,345.57 286.91,345.38 287.36,345.21 287.81,345.07 288.25,344.95 288.69,344.85 289.14,344.77 289.58,344.69 290.03,344.63 290.47,344.58 290.92,344.54 291.37,344.5 291.81,344.47 292.25,344.45 292.7,344.43 293.14,344.41 293.59,344.4 294.03,344.39 294.48,344.38 294.92,344.37 295.37,344.36 295.81,344.35 296.26,344.35 296.7,344.35 297.15,344.34 297.59,344.34 298.04,344.34 298.48,344.34 298.93,344.33 299.38,344.33 299.82,344.33 300.26,344.33 300.71,344.33 301.15,344.33 301.6,344.33" fill="none" stroke="#cc2332" stroke-width="1" stroke-linejoin="round" />
<polyline points="239.3,368.8 248.2,368.8 257.1,369.1 266,369.4 274.9,369.1 283.8,368.21 292.7,367.61 301.6,367.61" fill="none" stroke="#cc2332" stroke-width="0.9" stroke-linejoin="round" stroke-dasharray="2,1.3"/>
<polyline points="239.3,352.68 248.2,352.68 257.1,352.68 266,352.68 274.9,352.68 283.8,352.09 292.7,353.28 301.6,357.46" fill="none" stroke="#111" stroke-width="1" stroke-linejoin="round" />
<polyline points="239.3,356.86 248.2,356.86 257.1,357.16 266,357.46 274.9,357.76 283.8,357.46 292.7,357.46 301.6,358.06" fill="none" stroke="#111" stroke-width="1" stroke-linejoin="round" />
<polyline points="239.3,356.86 248.2,358.06 257.1,364.62 266,371.19 274.9,372.98 283.8,373.58 292.7,373.58 301.6,373.88" fill="none" stroke="#111" stroke-width="0.9" stroke-linejoin="round" stroke-dasharray="1.5,1.2"/>
<line x1="248.2" y1="347.31" x2="248.2" y2="350.89" stroke="#111" stroke-width="0.8" />
<line x1="247" y1="347.31" x2="249.4" y2="347.31" stroke="#111" stroke-width="0.8" />
<line x1="247" y1="350.89" x2="249.4" y2="350.89" stroke="#111" stroke-width="0.8" />
<polygon points="248.2,350.54 246.88,348.14 249.52,348.14" fill="#111" stroke="#111" stroke-width="0.7"/>
<line x1="257.1" y1="351.49" x2="257.1" y2="355.07" stroke="#111" stroke-width="0.8" />
<line x1="255.9" y1="351.49" x2="258.3" y2="351.49" stroke="#111" stroke-width="0.8" />
<line x1="255.9" y1="355.07" x2="258.3" y2="355.07" stroke="#111" stroke-width="0.8" />
<polygon points="257.1,354.72 255.78,352.32 258.42,352.32" fill="#111" stroke="#111" stroke-width="0.7"/>
<line x1="266" y1="350.89" x2="266" y2="354.47" stroke="#111" stroke-width="0.8" />
<line x1="264.8" y1="350.89" x2="267.2" y2="350.89" stroke="#111" stroke-width="0.8" />
<line x1="264.8" y1="354.47" x2="267.2" y2="354.47" stroke="#111" stroke-width="0.8" />
<polygon points="266,354.12 264.68,351.72 267.32,351.72" fill="#111" stroke="#111" stroke-width="0.7"/>
<line x1="274.9" y1="351.49" x2="274.9" y2="355.07" stroke="#111" stroke-width="0.8" />
<line x1="273.7" y1="351.49" x2="276.1" y2="351.49" stroke="#111" stroke-width="0.8" />
<line x1="273.7" y1="355.07" x2="276.1" y2="355.07" stroke="#111" stroke-width="0.8" />
<polygon points="274.9,354.72 273.58,352.32 276.22,352.32" fill="#111" stroke="#111" stroke-width="0.7"/>
<line x1="283.8" y1="347.91" x2="283.8" y2="352.68" stroke="#111" stroke-width="0.8" />
<line x1="282.6" y1="347.91" x2="285" y2="347.91" stroke="#111" stroke-width="0.8" />
<line x1="282.6" y1="352.68" x2="285" y2="352.68" stroke="#111" stroke-width="0.8" />
<polygon points="283.8,351.74 282.48,349.34 285.12,349.34" fill="#111" stroke="#111" stroke-width="0.7"/>
<line x1="292.7" y1="350.3" x2="292.7" y2="355.07" stroke="#111" stroke-width="0.8" />
<line x1="291.5" y1="350.3" x2="293.9" y2="350.3" stroke="#111" stroke-width="0.8" />
<line x1="291.5" y1="355.07" x2="293.9" y2="355.07" stroke="#111" stroke-width="0.8" />
<polygon points="292.7,354.12 291.38,351.72 294.02,351.72" fill="#111" stroke="#111" stroke-width="0.7"/>
<line x1="301.6" y1="355.07" x2="301.6" y2="359.85" stroke="#111" stroke-width="0.8" />
<line x1="300.4" y1="355.07" x2="302.8" y2="355.07" stroke="#111" stroke-width="0.8" />
<line x1="300.4" y1="359.85" x2="302.8" y2="359.85" stroke="#111" stroke-width="0.8" />
<polygon points="301.6,358.9 300.28,356.5 302.92,356.5" fill="#111" stroke="#111" stroke-width="0.7"/>
<line x1="248.2" y1="355.67" x2="248.2" y2="358.06" stroke="#111" stroke-width="0.8" />
<line x1="247" y1="355.67" x2="249.4" y2="355.67" stroke="#111" stroke-width="0.8" />
<line x1="247" y1="358.06" x2="249.4" y2="358.06" stroke="#111" stroke-width="0.8" />
<polygon points="248.2,358.3 246.88,355.9 249.52,355.9" fill="#fff" stroke="#111" stroke-width="0.7"/>
<line x1="257.1" y1="356.27" x2="257.1" y2="358.65" stroke="#111" stroke-width="0.8" />
<line x1="255.9" y1="356.27" x2="258.3" y2="356.27" stroke="#111" stroke-width="0.8" />
<line x1="255.9" y1="358.65" x2="258.3" y2="358.65" stroke="#111" stroke-width="0.8" />
<polygon points="257.1,358.9 255.78,356.5 258.42,356.5" fill="#fff" stroke="#111" stroke-width="0.7"/>
<line x1="266" y1="356.27" x2="266" y2="358.65" stroke="#111" stroke-width="0.8" />
<line x1="264.8" y1="356.27" x2="267.2" y2="356.27" stroke="#111" stroke-width="0.8" />
<line x1="264.8" y1="358.65" x2="267.2" y2="358.65" stroke="#111" stroke-width="0.8" />
<polygon points="266,358.9 264.68,356.5 267.32,356.5" fill="#fff" stroke="#111" stroke-width="0.7"/>
<line x1="274.9" y1="356.86" x2="274.9" y2="359.25" stroke="#111" stroke-width="0.8" />
<line x1="273.7" y1="356.86" x2="276.1" y2="356.86" stroke="#111" stroke-width="0.8" />
<line x1="273.7" y1="359.25" x2="276.1" y2="359.25" stroke="#111" stroke-width="0.8" />
<polygon points="274.9,359.5 273.58,357.1 276.22,357.1" fill="#fff" stroke="#111" stroke-width="0.7"/>
<line x1="283.8" y1="356.27" x2="283.8" y2="358.65" stroke="#111" stroke-width="0.8" />
<line x1="282.6" y1="356.27" x2="285" y2="356.27" stroke="#111" stroke-width="0.8" />
<line x1="282.6" y1="358.65" x2="285" y2="358.65" stroke="#111" stroke-width="0.8" />
<polygon points="283.8,358.9 282.48,356.5 285.12,356.5" fill="#fff" stroke="#111" stroke-width="0.7"/>
<line x1="292.7" y1="356.86" x2="292.7" y2="359.25" stroke="#111" stroke-width="0.8" />
<line x1="291.5" y1="356.86" x2="293.9" y2="356.86" stroke="#111" stroke-width="0.8" />
<line x1="291.5" y1="359.25" x2="293.9" y2="359.25" stroke="#111" stroke-width="0.8" />
<polygon points="292.7,359.5 291.38,357.1 294.02,357.1" fill="#fff" stroke="#111" stroke-width="0.7"/>
<line x1="301.6" y1="356.86" x2="301.6" y2="360.44" stroke="#111" stroke-width="0.8" />
<line x1="300.4" y1="356.86" x2="302.8" y2="356.86" stroke="#111" stroke-width="0.8" />
<line x1="300.4" y1="360.44" x2="302.8" y2="360.44" stroke="#111" stroke-width="0.8" />
<polygon points="301.6,360.09 300.28,357.69 302.92,357.69" fill="#fff" stroke="#111" stroke-width="0.7"/>
<line x1="248.2" y1="356.27" x2="248.2" y2="359.85" stroke="#111" stroke-width="0.8" />
<line x1="247" y1="356.27" x2="249.4" y2="356.27" stroke="#111" stroke-width="0.8" />
<line x1="247" y1="359.85" x2="249.4" y2="359.85" stroke="#111" stroke-width="0.8" />
<polygon points="248.2,359.5 246.88,357.1 249.52,357.1" fill="none" stroke="#111" stroke-width="0.7"/>
<line x1="257.1" y1="365.82" x2="257.1" y2="372.98" stroke="#111" stroke-width="0.8" />
<line x1="255.9" y1="365.82" x2="258.3" y2="365.82" stroke="#111" stroke-width="0.8" />
<line x1="255.9" y1="372.98" x2="258.3" y2="372.98" stroke="#111" stroke-width="0.8" />
<polygon points="257.1,370.84 255.78,368.44 258.42,368.44" fill="none" stroke="#111" stroke-width="0.7"/>
<line x1="266" y1="368.21" x2="266" y2="374.18" stroke="#111" stroke-width="0.8" />
<line x1="264.8" y1="368.21" x2="267.2" y2="368.21" stroke="#111" stroke-width="0.8" />
<line x1="264.8" y1="374.18" x2="267.2" y2="374.18" stroke="#111" stroke-width="0.8" />
<polygon points="266,372.63 264.68,370.23 267.32,370.23" fill="none" stroke="#111" stroke-width="0.7"/>
<line x1="274.9" y1="372.98" x2="274.9" y2="377.76" stroke="#111" stroke-width="0.8" />
<line x1="273.7" y1="372.98" x2="276.1" y2="372.98" stroke="#111" stroke-width="0.8" />
<line x1="273.7" y1="377.76" x2="276.1" y2="377.76" stroke="#111" stroke-width="0.8" />
<polygon points="274.9,376.81 273.58,374.41 276.22,374.41" fill="none" stroke="#111" stroke-width="0.7"/>
<line x1="283.8" y1="368.8" x2="283.8" y2="373.58" stroke="#111" stroke-width="0.8" />
<line x1="282.6" y1="368.8" x2="285" y2="368.8" stroke="#111" stroke-width="0.8" />
<line x1="282.6" y1="373.58" x2="285" y2="373.58" stroke="#111" stroke-width="0.8" />
<polygon points="283.8,372.63 282.48,370.23 285.12,370.23" fill="none" stroke="#111" stroke-width="0.7"/>
<line x1="292.7" y1="371.79" x2="292.7" y2="375.37" stroke="#111" stroke-width="0.8" />
<line x1="291.5" y1="371.79" x2="293.9" y2="371.79" stroke="#111" stroke-width="0.8" />
<line x1="291.5" y1="375.37" x2="293.9" y2="375.37" stroke="#111" stroke-width="0.8" />
<polygon points="292.7,375.02 291.38,372.62 294.02,372.62" fill="none" stroke="#111" stroke-width="0.7"/>
<line x1="301.6" y1="371.19" x2="301.6" y2="377.16" stroke="#111" stroke-width="0.8" />
<line x1="300.4" y1="371.19" x2="302.8" y2="371.19" stroke="#111" stroke-width="0.8" />
<line x1="300.4" y1="377.16" x2="302.8" y2="377.16" stroke="#111" stroke-width="0.8" />
<polygon points="301.6,375.62 300.28,373.22 302.92,373.22" fill="none" stroke="#111" stroke-width="0.7"/>
<circle cx="248.2" cy="367.61" r="1.4" fill="none" stroke="#cc2332" stroke-width="0.8"/>
<circle cx="257.1" cy="372.98" r="1.4" fill="none" stroke="#cc2332" stroke-width="0.8"/>
<circle cx="266" cy="378.35" r="1.4" fill="none" stroke="#cc2332" stroke-width="0.8"/>
<circle cx="274.9" cy="375.37" r="1.4" fill="none" stroke="#cc2332" stroke-width="0.8"/>
<circle cx="283.8" cy="366.41" r="1.4" fill="none" stroke="#cc2332" stroke-width="0.8"/>
<circle cx="292.7" cy="366.41" r="1.4" fill="none" stroke="#cc2332" stroke-width="0.8"/>
<circle cx="301.6" cy="367.61" r="1.4" fill="none" stroke="#cc2332" stroke-width="0.8"/>
<circle cx="248.2" cy="352.68" r="1.4" fill="none" stroke="#cc2332" stroke-width="0.8"/>
<circle cx="257.1" cy="354.47" r="1.4" fill="none" stroke="#cc2332" stroke-width="0.8"/>
<circle cx="266" cy="356.27" r="1.4" fill="none" stroke="#cc2332" stroke-width="0.8"/>
<circle cx="274.9" cy="358.65" r="1.4" fill="none" stroke="#cc2332" stroke-width="0.8"/>
<circle cx="283.8" cy="341.94" r="1.4" fill="none" stroke="#cc2332" stroke-width="0.8"/>
<circle cx="292.7" cy="343.13" r="1.4" fill="none" stroke="#cc2332" stroke-width="0.8"/>
<circle cx="301.6" cy="347.91" r="1.4" fill="none" stroke="#cc2332" stroke-width="0.8"/>
<circle cx="248.2" cy="355.07" r="1.3" fill="#cc2332" stroke="#cc2332" stroke-width="0.7"/>
<circle cx="257.1" cy="345.52" r="1.3" fill="#cc2332" stroke="#cc2332" stroke-width="0.7"/>
<circle cx="266" cy="326.42" r="1.3" fill="#cc2332" stroke="#cc2332" stroke-width="0.7"/>
<circle cx="274.9" cy="319.25" r="1.3" fill="#cc2332" stroke="#cc2332" stroke-width="0.7"/>
<circle cx="283.8" cy="319.25" r="1.3" fill="#cc2332" stroke="#cc2332" stroke-width="0.7"/>
<circle cx="292.7" cy="319.25" r="1.3" fill="#cc2332" stroke="#cc2332" stroke-width="0.7"/>
<circle cx="301.6" cy="319.25" r="1.3" fill="#cc2332" stroke="#cc2332" stroke-width="0.7"/>
<line x1="317" y1="318" x2="324" y2="318" stroke="#cc2332" stroke-width="0.9" />
<circle cx="320.5" cy="318" r="1.45" fill="#cc2332" stroke="#cc2332" stroke-width="0.95"/>
<text x="328.8" y="320.18" font-size="6.05" font-weight="normal" text-anchor="start" fill="#1a1a1a" stroke="#1a1a1a" stroke-width="0.12">NVS32b2_Fc_afuc, Daudi</text>
<line x1="317" y1="329.3" x2="324" y2="329.3" stroke="#cc2332" stroke-width="0.9" />
<circle cx="320.5" cy="329.3" r="1.45" fill="#fff" stroke="#cc2332" stroke-width="0.95"/>
<text x="328.8" y="331.48" font-size="6.05" font-weight="normal" text-anchor="start" fill="#1a1a1a" stroke="#1a1a1a" stroke-width="0.12">NVS32b2_Fc_afuc, mDC</text>
<line x1="317" y1="339.5" x2="324" y2="339.5" stroke="#cc2332" stroke-width="0.9" stroke-dasharray="1.2,1"/>
<circle cx="320.5" cy="339.5" r="1.45" fill="#fff" stroke="#cc2332" stroke-width="0.95"/>
<text x="328.8" y="341.68" font-size="6.05" font-weight="normal" text-anchor="start" fill="#1a1a1a" stroke="#1a1a1a" stroke-width="0.12">NVS32b2_Fc_afuc, imDC</text>
<line x1="317" y1="353.3" x2="324" y2="353.3" stroke="#111" stroke-width="0.9" />
<polygon points="320.5,355.04 318.9,352.14 322.1,352.14" fill="#111" stroke="#111" stroke-width="0.95"/>
<text x="328.8" y="355.48" font-size="6.05" font-weight="normal" text-anchor="start" fill="#1a1a1a" stroke="#1a1a1a" stroke-width="0.12">IgG control (afuc), Daudi</text>
<line x1="317" y1="364.3" x2="324" y2="364.3" stroke="#111" stroke-width="0.9" />
<polygon points="320.5,366.04 318.9,363.14 322.1,363.14" fill="#fff" stroke="#111" stroke-width="0.95"/>
<text x="328.8" y="366.48" font-size="6.05" font-weight="normal" text-anchor="start" fill="#1a1a1a" stroke="#1a1a1a" stroke-width="0.12">IgG control (afuc), mDC</text>
<line x1="317" y1="375" x2="324" y2="375" stroke="#111" stroke-width="0.9" stroke-dasharray="1.2,1"/>
<polygon points="320.5,376.74 318.9,373.84 322.1,373.84" fill="#fff" stroke="#111" stroke-width="0.95"/>
<text x="328.8" y="377.18" font-size="6.05" font-weight="normal" text-anchor="start" fill="#1a1a1a" stroke="#1a1a1a" stroke-width="0.12">IgG control (afuc), imDC</text></svg></body></html>
